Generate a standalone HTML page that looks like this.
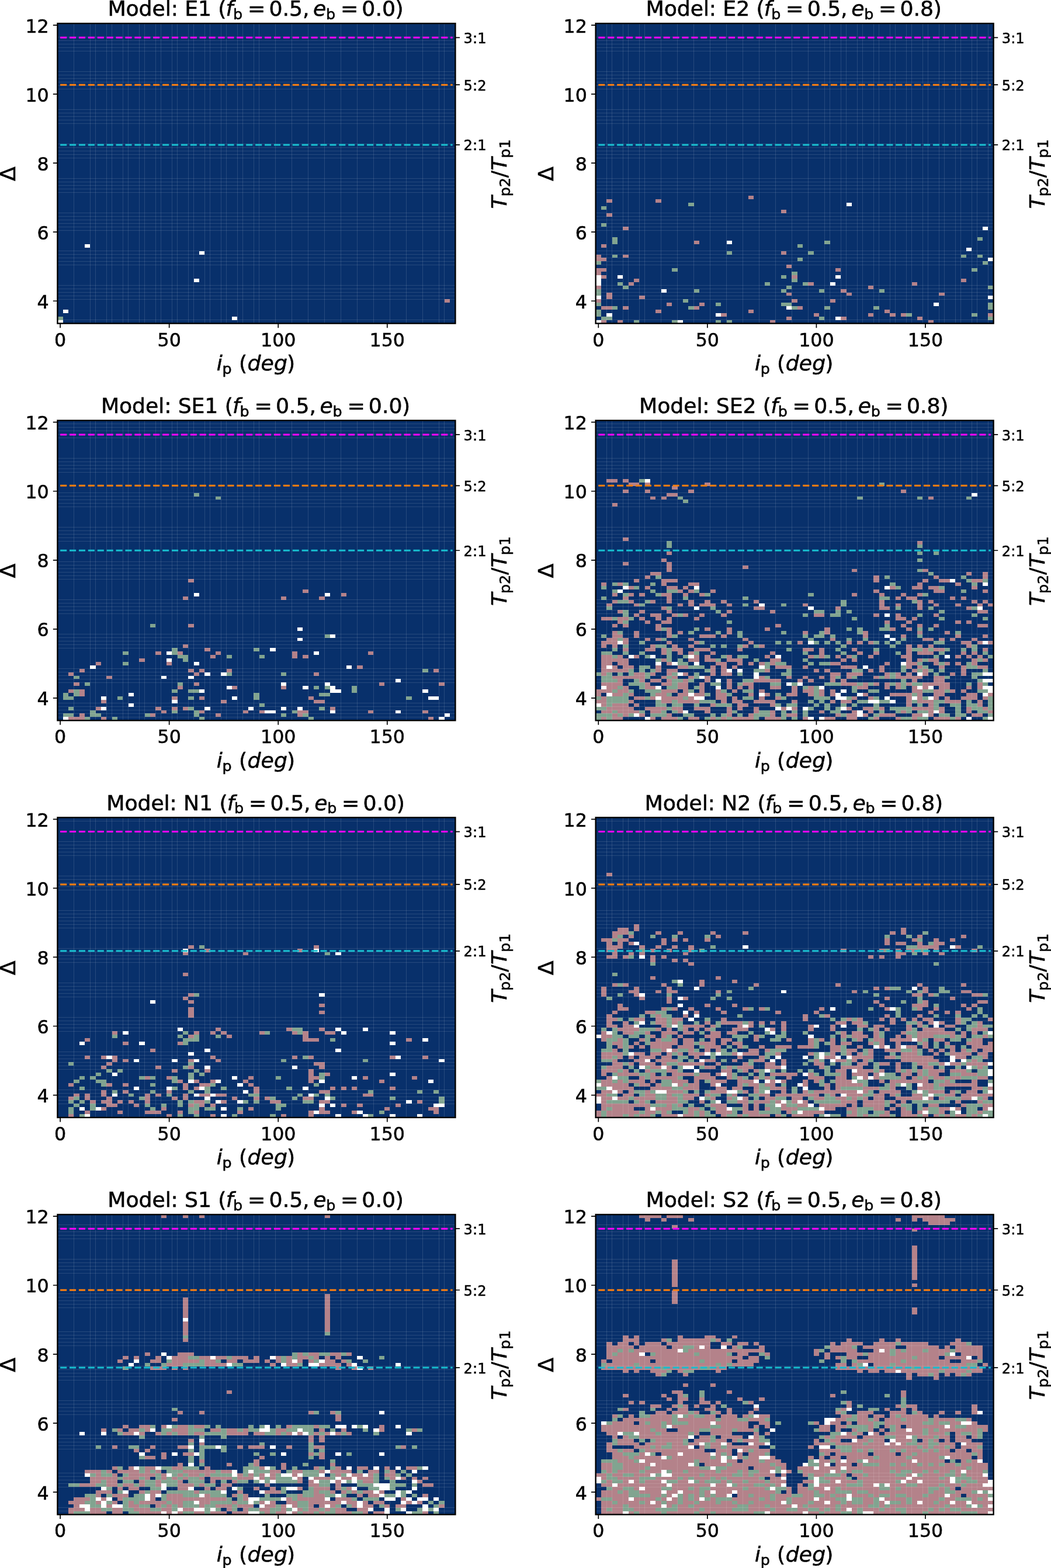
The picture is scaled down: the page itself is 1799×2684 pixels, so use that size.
<!DOCTYPE html>
<html lang="en"><head><meta charset="utf-8"><title>Stability maps</title>
<style>html,body{margin:0;padding:0;background:#fff;overflow:hidden}svg{display:block}text{font-family:'DejaVu Sans','Liberation Sans',sans-serif;fill:#000}</style></head><body>
<svg xmlns="http://www.w3.org/2000/svg" width="1799" height="2684" viewBox="0 0 1799 2684">
<rect width="1799" height="2684" fill="#fff"/>
<g>
<rect x="98.44" y="40.11" width="680.95" height="513.51" fill="#08306b"/>
<g shape-rendering="crispEdges">
<path fill="#b4828a" d="M761 512h9v6h-9z"/>
<path fill="#81a490" d="M98 542h10v6h-10z"/>
<path fill="#ffffff" d="M145 418h9v6h-9zM341 430h9v6h-9zM332 477h9v6h-9zM108 530h9v6h-9zM397 542h9v6h-9zM98 548h10v6h-10z"/>
<path fill="#fff" fill-opacity="0.12" d="M126 40.11h1v513.51h-1zM154 40.11h1v513.51h-1zM163 40.11h1v513.51h-1zM182 40.11h1v513.51h-1zM191 40.11h1v513.51h-1zM210 40.11h1v513.51h-1zM219 40.11h1v513.51h-1zM238 40.11h1v513.51h-1zM247 40.11h1v513.51h-1zM266 40.11h1v513.51h-1zM275 40.11h1v513.51h-1zM294 40.11h1v513.51h-1zM303 40.11h1v513.51h-1zM322 40.11h1v513.51h-1zM331 40.11h1v513.51h-1zM350 40.11h1v513.51h-1zM359 40.11h1v513.51h-1zM378 40.11h1v513.51h-1zM387 40.11h1v513.51h-1zM406 40.11h1v513.51h-1zM415 40.11h1v513.51h-1zM434 40.11h1v513.51h-1zM443 40.11h1v513.51h-1zM471 40.11h1v513.51h-1zM499 40.11h1v513.51h-1zM527 40.11h1v513.51h-1zM555 40.11h1v513.51h-1zM583 40.11h1v513.51h-1zM611 40.11h1v513.51h-1zM639 40.11h1v513.51h-1zM667 40.11h1v513.51h-1zM695 40.11h1v513.51h-1zM723 40.11h1v513.51h-1zM751 40.11h1v513.51h-1zM760 40.11h1v513.51h-1z"/>
<path fill="#fff" fill-opacity="0.12" d="M98.44 63v1h680.95v-1zM98.44 69v1h680.95v-1zM98.44 75v1h680.95v-1zM98.44 81v1h680.95v-1zM98.44 87v1h680.95v-1zM98.44 122v1h680.95v-1zM98.44 128v1h680.95v-1zM98.44 134v1h680.95v-1zM98.44 140v1h680.95v-1zM98.44 146v1h680.95v-1zM98.44 152v1h680.95v-1zM98.44 187v1h680.95v-1zM98.44 193v1h680.95v-1zM98.44 199v1h680.95v-1zM98.44 205v1h680.95v-1zM98.44 211v1h680.95v-1zM98.44 246v1h680.95v-1zM98.44 252v1h680.95v-1zM98.44 258v1h680.95v-1zM98.44 264v1h680.95v-1zM98.44 270v1h680.95v-1zM98.44 305v1h680.95v-1zM98.44 311v1h680.95v-1zM98.44 317v1h680.95v-1zM98.44 323v1h680.95v-1zM98.44 329v1h680.95v-1zM98.44 364v1h680.95v-1zM98.44 370v1h680.95v-1zM98.44 376v1h680.95v-1zM98.44 382v1h680.95v-1zM98.44 388v1h680.95v-1zM98.44 394v1h680.95v-1zM98.44 429v1h680.95v-1zM98.44 435v1h680.95v-1zM98.44 441v1h680.95v-1zM98.44 447v1h680.95v-1zM98.44 453v1h680.95v-1zM98.44 488v1h680.95v-1zM98.44 494v1h680.95v-1zM98.44 500v1h680.95v-1zM98.44 506v1h680.95v-1zM98.44 512v1h680.95v-1zM98.44 547v1h680.95v-1z"/>
</g>
<line x1="103.11" y1="64.31" x2="774.73" y2="64.31" stroke="#ff00ff" stroke-width="3.0" stroke-dasharray="11.1 4.805"/>
<line x1="103.11" y1="145.17" x2="774.73" y2="145.17" stroke="#ff7f0e" stroke-width="3.0" stroke-dasharray="11.1 4.805"/>
<line x1="103.11" y1="247.88" x2="774.73" y2="247.88" stroke="#17becf" stroke-width="3.0" stroke-dasharray="11.1 4.805"/>
<rect x="98.44" y="40.11" width="680.95" height="513.51" fill="none" stroke="#000" stroke-width="2.4"/>
<path d="M103.11 553.62v7.6M289.67 553.62v7.6M476.23 553.62v7.6M662.8 553.62v7.6M98.44 515.26h-7.6M98.44 397.21h-7.6M98.44 279.16h-7.6M98.44 161.11h-7.6M98.44 43.06h-7.6M779.4 64.31h7.6M779.4 145.17h7.6M779.4 247.88h7.6" stroke="#000" stroke-width="1.7" fill="none"/>
<g font-size="31.7" stroke="#000" stroke-width="0.55">
<text x="103.11" y="592.62" text-anchor="middle">0</text>
<text x="289.67" y="592.62" text-anchor="middle">50</text>
<text x="476.23" y="592.62" text-anchor="middle">100</text>
<text x="662.8" y="592.62" text-anchor="middle">150</text>
<text x="83.74" y="527.76" text-anchor="end">4</text>
<text x="83.74" y="409.71" text-anchor="end">6</text>
<text x="83.74" y="291.66" text-anchor="end">8</text>
<text x="83.74" y="173.61" text-anchor="end">10</text>
<text x="83.74" y="55.56" text-anchor="end">12</text>
</g>
<g font-size="24.2" stroke="#000" stroke-width="0.55">
<text x="793.6" y="73.91">3:1</text>
<text x="793.6" y="154.77">5:2</text>
<text x="793.6" y="257.48">2:1</text>
</g>
<g font-size="36.25" stroke="#000" stroke-width="0.55">
<text x="184.42" y="27.31" letter-spacing="-0.12" xml:space="preserve">Model: E1 (</text>
<text x="386.62" y="27.31" font-style="italic">f</text>
<text x="399.02" y="33.21" font-size="25.4">b</text>
<text x="423.92" y="27.31">=</text>
<text x="460.52" y="27.31">0.5</text>
<text x="517.92" y="27.31">,</text>
<text x="536.12" y="27.31" font-style="italic">e</text>
<text x="558.12" y="33.21" font-size="25.4">b</text>
<text x="582.92" y="27.31">=</text>
<text x="619.32" y="27.31">0.0</text>
<text x="676.62" y="27.31">)</text>
<text x="370.72" y="634.02" font-style="italic">i</text>
<text x="380.52" y="639.92" font-size="25.4">p</text>
<text x="408.92" y="634.02">(</text>
<text x="423.62" y="634.02" font-style="italic">deg</text>
<text x="491.12" y="634.02">)</text>
<text transform="translate(26.14,297.57) rotate(-90)" text-anchor="middle">Δ</text>
<g transform="translate(866.7,296.87) rotate(-90)">
<text x="-60.6" y="0" font-style="italic">T</text>
<text x="-39.5" y="5.9" font-size="25.4">p2</text>
<text x="-7.5" y="0">/</text>
<text x="5.2" y="0" font-style="italic">T</text>
<text x="26.3" y="5.9" font-size="25.4">p1</text>
</g></g>
</g>
<g>
<rect x="1019.64" y="40.11" width="680.95" height="513.51" fill="#08306b"/>
<g shape-rendering="crispEdges">
<path fill="#b4828a" d="M1281 335h9v6h-9zM1038 341h10v6h-10zM1122 341h10v6h-10zM1337 359h9v6h-9zM1038 365h10v6h-10zM1066 388h10v6h-10zM1188 412h9v6h-9zM1029 418h9v6h-9zM1337 430h9v6h-9zM1020 436h9v5h-9zM1066 436h10v5h-10zM1020 441h18v6h-18zM1346 453h9v6h-9zM1020 459h18v6h-18zM1430 459h9v6h-9zM1020 465h9v6h-9zM1029 471h9v6h-9zM1355 471h10v6h-10zM1085 477h9v6h-9zM1645 477h9v6h-9zM1076 483h9v6h-9zM1383 483h10v6h-10zM1561 483h9v6h-9zM1020 489h9v6h-9zM1486 489h9v6h-9zM1439 495h10v6h-10zM1038 501h10v5h-10zM1346 501h9v5h-9zM1449 501h9v5h-9zM1607 501h10v5h-10zM1038 506h10v6h-10zM1094 506h10v6h-10zM1020 512h9v6h-9zM1355 512h10v6h-10zM1421 512h9v6h-9zM1141 518h9v6h-9zM1197 518h9v6h-9zM1029 524h19v6h-19zM1066 524h10v6h-10zM1188 524h9v6h-9zM1365 524h9v6h-9zM1122 530h10v6h-10zM1281 530h9v6h-9zM1514 530h9v6h-9zM1234 536h10v6h-10zM1393 536h9v6h-9zM1486 536h9v6h-9zM1523 536h10v6h-10zM1542 536h9v6h-9zM1691 536h10v6h-10zM1346 542h9v6h-9zM1439 542h10v6h-10zM1570 542h9v6h-9zM1029 548h9v6h-9zM1057 548h9v6h-9zM1318 548h9v6h-9zM1589 548h9v6h-9z"/>
<path fill="#81a490" d="M1178 347h10v6h-10zM1029 353h9v6h-9zM1029 382h9v6h-9zM1048 406h9v6h-9zM1673 406h9v6h-9zM1048 412h9v6h-9zM1411 412h10v6h-10zM1365 418h9v6h-9zM1244 430h9v6h-9zM1383 430h10v6h-10zM1048 436h9v5h-9zM1645 436h9v5h-9zM1673 436h9v5h-9zM1365 441h9v6h-9zM1020 447h9v6h-9zM1682 447h9v6h-9zM1150 459h10v6h-10zM1663 459h10v6h-10zM1355 465h10v6h-10zM1337 471h9v6h-9zM1355 477h10v6h-10zM1057 483h9v6h-9zM1309 483h9v6h-9zM1374 483h9v6h-9zM1066 489h10v6h-10zM1346 489h9v6h-9zM1691 489h10v6h-10zM1020 495h9v6h-9zM1188 495h9v6h-9zM1337 495h9v6h-9zM1402 495h9v6h-9zM1505 495h9v6h-9zM1020 501h9v5h-9zM1169 512h9v6h-9zM1020 518h9v6h-9zM1225 518h9v6h-9zM1337 518h18v6h-18zM1691 518h10v6h-10zM1048 524h9v6h-9zM1178 524h10v6h-10zM1355 524h10v6h-10zM1411 524h10v6h-10zM1495 524h10v6h-10zM1691 524h10v6h-10zM1020 530h9v6h-9zM1020 536h9v6h-9zM1551 536h10v6h-10zM1663 536h10v6h-10zM1029 542h19v6h-19zM1402 542h9v6h-9zM1691 542h10v6h-10zM1085 548h9v6h-9zM1150 548h10v6h-10zM1225 548h9v6h-9zM1244 548h9v6h-9z"/>
<path fill="#ffffff" d="M1449 347h9v6h-9zM1682 388h9v6h-9zM1244 412h9v6h-9zM1654 424h9v6h-9zM1691 441h10v6h-10zM1020 471h9v6h-9zM1057 471h9v6h-9zM1430 471h9v6h-9zM1020 477h9v6h-9zM1020 483h9v6h-9zM1421 483h9v6h-9zM1132 495h9v6h-9zM1020 506h9v6h-9zM1691 506h10v6h-10zM1598 518h9v6h-9zM1346 524h9v6h-9zM1038 536h10v6h-10zM1225 536h9v6h-9zM1430 542h9v6h-9zM1020 548h9v6h-9zM1160 548h9v6h-9z"/>
<path fill="#fff" fill-opacity="0.12" d="M1038 40.11h1v513.51h-1zM1047 40.11h1v513.51h-1zM1066 40.11h1v513.51h-1zM1075 40.11h1v513.51h-1zM1094 40.11h1v513.51h-1zM1103 40.11h1v513.51h-1zM1131 40.11h1v513.51h-1zM1159 40.11h1v513.51h-1zM1187 40.11h1v513.51h-1zM1215 40.11h1v513.51h-1zM1243 40.11h1v513.51h-1zM1271 40.11h1v513.51h-1zM1299 40.11h1v513.51h-1zM1327 40.11h1v513.51h-1zM1355 40.11h1v513.51h-1zM1383 40.11h1v513.51h-1zM1411 40.11h1v513.51h-1zM1420 40.11h1v513.51h-1zM1439 40.11h1v513.51h-1zM1448 40.11h1v513.51h-1zM1467 40.11h1v513.51h-1zM1476 40.11h1v513.51h-1zM1495 40.11h1v513.51h-1zM1504 40.11h1v513.51h-1zM1523 40.11h1v513.51h-1zM1532 40.11h1v513.51h-1zM1551 40.11h1v513.51h-1zM1560 40.11h1v513.51h-1zM1579 40.11h1v513.51h-1zM1588 40.11h1v513.51h-1zM1607 40.11h1v513.51h-1zM1616 40.11h1v513.51h-1zM1635 40.11h1v513.51h-1zM1644 40.11h1v513.51h-1zM1663 40.11h1v513.51h-1zM1672 40.11h1v513.51h-1zM1691 40.11h1v513.51h-1z"/>
<path fill="#fff" fill-opacity="0.12" d="M1019.64 63v1h680.95v-1zM1019.64 69v1h680.95v-1zM1019.64 75v1h680.95v-1zM1019.64 81v1h680.95v-1zM1019.64 87v1h680.95v-1zM1019.64 122v1h680.95v-1zM1019.64 128v1h680.95v-1zM1019.64 134v1h680.95v-1zM1019.64 140v1h680.95v-1zM1019.64 146v1h680.95v-1zM1019.64 152v1h680.95v-1zM1019.64 187v1h680.95v-1zM1019.64 193v1h680.95v-1zM1019.64 199v1h680.95v-1zM1019.64 205v1h680.95v-1zM1019.64 211v1h680.95v-1zM1019.64 246v1h680.95v-1zM1019.64 252v1h680.95v-1zM1019.64 258v1h680.95v-1zM1019.64 264v1h680.95v-1zM1019.64 270v1h680.95v-1zM1019.64 305v1h680.95v-1zM1019.64 311v1h680.95v-1zM1019.64 317v1h680.95v-1zM1019.64 323v1h680.95v-1zM1019.64 329v1h680.95v-1zM1019.64 364v1h680.95v-1zM1019.64 370v1h680.95v-1zM1019.64 376v1h680.95v-1zM1019.64 382v1h680.95v-1zM1019.64 388v1h680.95v-1zM1019.64 394v1h680.95v-1zM1019.64 429v1h680.95v-1zM1019.64 435v1h680.95v-1zM1019.64 441v1h680.95v-1zM1019.64 447v1h680.95v-1zM1019.64 453v1h680.95v-1zM1019.64 488v1h680.95v-1zM1019.64 494v1h680.95v-1zM1019.64 500v1h680.95v-1zM1019.64 506v1h680.95v-1zM1019.64 512v1h680.95v-1zM1019.64 547v1h680.95v-1z"/>
</g>
<line x1="1024.3" y1="64.31" x2="1695.93" y2="64.31" stroke="#ff00ff" stroke-width="3.0" stroke-dasharray="11.1 4.805"/>
<line x1="1024.3" y1="145.17" x2="1695.93" y2="145.17" stroke="#ff7f0e" stroke-width="3.0" stroke-dasharray="11.1 4.805"/>
<line x1="1024.3" y1="247.88" x2="1695.93" y2="247.88" stroke="#17becf" stroke-width="3.0" stroke-dasharray="11.1 4.805"/>
<rect x="1019.64" y="40.11" width="680.95" height="513.51" fill="none" stroke="#000" stroke-width="2.4"/>
<path d="M1024.3 553.62v7.6M1210.87 553.62v7.6M1397.43 553.62v7.6M1583.99 553.62v7.6M1019.64 515.26h-7.6M1019.64 397.21h-7.6M1019.64 279.16h-7.6M1019.64 161.11h-7.6M1019.64 43.06h-7.6M1700.59 64.31h7.6M1700.59 145.17h7.6M1700.59 247.88h7.6" stroke="#000" stroke-width="1.7" fill="none"/>
<g font-size="31.7" stroke="#000" stroke-width="0.55">
<text x="1024.3" y="592.62" text-anchor="middle">0</text>
<text x="1210.87" y="592.62" text-anchor="middle">50</text>
<text x="1397.43" y="592.62" text-anchor="middle">100</text>
<text x="1583.99" y="592.62" text-anchor="middle">150</text>
<text x="1004.94" y="527.76" text-anchor="end">4</text>
<text x="1004.94" y="409.71" text-anchor="end">6</text>
<text x="1004.94" y="291.66" text-anchor="end">8</text>
<text x="1004.94" y="173.61" text-anchor="end">10</text>
<text x="1004.94" y="55.56" text-anchor="end">12</text>
</g>
<g font-size="24.2" stroke="#000" stroke-width="0.55">
<text x="1714.79" y="73.91">3:1</text>
<text x="1714.79" y="154.77">5:2</text>
<text x="1714.79" y="257.48">2:1</text>
</g>
<g font-size="36.25" stroke="#000" stroke-width="0.55">
<text x="1105.62" y="27.31" letter-spacing="-0.12" xml:space="preserve">Model: E2 (</text>
<text x="1307.82" y="27.31" font-style="italic">f</text>
<text x="1320.22" y="33.21" font-size="25.4">b</text>
<text x="1345.12" y="27.31">=</text>
<text x="1381.72" y="27.31">0.5</text>
<text x="1439.12" y="27.31">,</text>
<text x="1457.32" y="27.31" font-style="italic">e</text>
<text x="1479.32" y="33.21" font-size="25.4">b</text>
<text x="1504.12" y="27.31">=</text>
<text x="1540.52" y="27.31">0.8</text>
<text x="1597.82" y="27.31">)</text>
<text x="1291.92" y="634.02" font-style="italic">i</text>
<text x="1301.72" y="639.92" font-size="25.4">p</text>
<text x="1330.12" y="634.02">(</text>
<text x="1344.82" y="634.02" font-style="italic">deg</text>
<text x="1412.32" y="634.02">)</text>
<text transform="translate(947.34,297.57) rotate(-90)" text-anchor="middle">Δ</text>
<g transform="translate(1787.89,296.87) rotate(-90)">
<text x="-60.6" y="0" font-style="italic">T</text>
<text x="-39.5" y="5.9" font-size="25.4">p2</text>
<text x="-7.5" y="0">/</text>
<text x="5.2" y="0" font-style="italic">T</text>
<text x="26.3" y="5.9" font-size="25.4">p1</text>
</g></g>
</g>
<g>
<rect x="98.44" y="719.74" width="680.95" height="513.51" fill="#08306b"/>
<g shape-rendering="crispEdges">
<path fill="#b4828a" d="M322 991h10v6h-10zM518 1009h10v6h-10zM584 1015h9v6h-9zM313 1021h9v6h-9zM481 1021h9v6h-9zM546 1021h10v6h-10zM322 1068h10v6h-10zM313 1103h9v6h-9zM350 1109h10v6h-10zM266 1115h10v6h-10zM304 1115h9v6h-9zM369 1115h9v6h-9zM500 1115h9v6h-9zM630 1115h9v6h-9zM360 1121h9v6h-9zM500 1121h9v6h-9zM518 1121h10v6h-10zM238 1127h10v6h-10zM164 1133h9v6h-9zM285 1133h9v6h-9zM611 1139h10v6h-10zM136 1145h9v6h-9zM322 1145h10v6h-10zM341 1145h9v6h-9zM388 1145h9v6h-9zM742 1145h9v6h-9zM117 1151h9v6h-9zM332 1151h9v6h-9zM537 1151h9v6h-9zM182 1157h10v5h-10zM126 1168h10v6h-10zM332 1168h9v6h-9zM649 1168h9v6h-9zM751 1168h10v6h-10zM304 1174h9v6h-9zM397 1174h9v6h-9zM481 1174h9v6h-9zM117 1180h9v6h-9zM136 1180h9v6h-9zM136 1186h9v6h-9zM294 1192h10v6h-10zM341 1192h9v6h-9zM528 1192h9v6h-9zM173 1198h9v6h-9zM378 1198h10v6h-10zM537 1198h19v6h-19zM164 1210h9v6h-9zM266 1210h10v6h-10zM294 1210h10v6h-10zM313 1210h9v6h-9zM565 1210h9v6h-9zM276 1216h9v5h-9zM341 1216h9v5h-9zM416 1216h9v5h-9zM444 1216h9v5h-9zM509 1216h19v5h-19zM630 1216h9v5h-9zM723 1216h10v5h-10zM136 1221h9v6h-9zM257 1221h9v6h-9zM369 1221h9v6h-9zM509 1221h9v6h-9zM117 1227h28v6h-28zM173 1227h9v6h-9zM733 1227h9v6h-9z"/>
<path fill="#81a490" d="M332 844h9v6h-9zM369 850h9v5h-9zM257 1068h9v6h-9zM556 1086h9v6h-9zM294 1109h10v6h-10zM434 1109h10v6h-10zM210 1115h10v6h-10zM294 1115h10v6h-10zM304 1121h18v6h-18zM388 1121h9v6h-9zM444 1121h9v6h-9zM313 1127h9v6h-9zM210 1133h10v6h-10zM723 1145h10v6h-10zM388 1151h9v6h-9zM481 1151h9v6h-9zM126 1157h10v5h-10zM145 1168h9v6h-9zM304 1168h9v6h-9zM537 1174h9v6h-9zM556 1174h9v6h-9zM602 1174h9v6h-9zM126 1180h10v6h-10zM294 1180h10v6h-10zM322 1180h19v6h-19zM602 1180h9v6h-9zM108 1186h9v6h-9zM126 1186h10v6h-10zM434 1186h10v6h-10zM546 1186h19v6h-19zM108 1192h18v6h-18zM201 1192h9v6h-9zM322 1192h10v6h-10zM434 1192h10v6h-10zM695 1192h10v6h-10zM444 1204h9v6h-9zM117 1210h9v6h-9zM322 1210h10v6h-10zM546 1210h10v6h-10zM154 1216h10v5h-10zM294 1216h10v5h-10zM332 1216h9v5h-9zM500 1216h9v5h-9zM108 1221h18v6h-18zM154 1221h19v6h-19zM248 1221h9v6h-9zM332 1221h9v6h-9zM481 1221h9v6h-9zM518 1221h10v6h-10zM145 1227h9v6h-9zM192 1227h9v6h-9zM341 1227h9v6h-9zM528 1227h9v6h-9z"/>
<path fill="#ffffff" d="M332 1015h9v6h-9zM556 1015h9v6h-9zM509 1074h9v6h-9zM565 1086h9v6h-9zM509 1092h9v5h-9zM462 1109h10v6h-10zM285 1115h9v6h-9zM537 1115h9v6h-9zM285 1127h9v6h-9zM332 1133h9v6h-9zM154 1139h10v6h-10zM593 1139h9v6h-9zM350 1151h10v6h-10zM378 1151h10v6h-10zM276 1157h9v5h-9zM322 1157h10v5h-10zM677 1162h9v6h-9zM481 1168h9v6h-9zM556 1168h9v6h-9zM388 1174h9v6h-9zM518 1174h10v6h-10zM565 1174h9v6h-9zM341 1180h9v6h-9zM565 1180h19v6h-19zM723 1180h10v6h-10zM220 1186h9v6h-9zM173 1192h9v6h-9zM397 1192h9v6h-9zM733 1192h18v6h-18zM294 1198h10v6h-10zM220 1204h9v6h-9zM173 1210h9v6h-9zM350 1210h10v6h-10zM425 1210h9v6h-9zM481 1210h9v6h-9zM509 1210h9v6h-9zM453 1216h19v5h-19zM565 1216h9v5h-9zM677 1216h9v5h-9zM761 1221h9v6h-9zM108 1227h9v6h-9zM751 1227h10v6h-10z"/>
<path fill="#fff" fill-opacity="0.12" d="M126 719.74h1v513.51h-1zM154 719.74h1v513.51h-1zM163 719.74h1v513.51h-1zM182 719.74h1v513.51h-1zM191 719.74h1v513.51h-1zM210 719.74h1v513.51h-1zM219 719.74h1v513.51h-1zM238 719.74h1v513.51h-1zM247 719.74h1v513.51h-1zM266 719.74h1v513.51h-1zM275 719.74h1v513.51h-1zM294 719.74h1v513.51h-1zM303 719.74h1v513.51h-1zM322 719.74h1v513.51h-1zM331 719.74h1v513.51h-1zM350 719.74h1v513.51h-1zM359 719.74h1v513.51h-1zM378 719.74h1v513.51h-1zM387 719.74h1v513.51h-1zM406 719.74h1v513.51h-1zM415 719.74h1v513.51h-1zM434 719.74h1v513.51h-1zM443 719.74h1v513.51h-1zM471 719.74h1v513.51h-1zM499 719.74h1v513.51h-1zM527 719.74h1v513.51h-1zM555 719.74h1v513.51h-1zM583 719.74h1v513.51h-1zM611 719.74h1v513.51h-1zM639 719.74h1v513.51h-1zM667 719.74h1v513.51h-1zM695 719.74h1v513.51h-1zM723 719.74h1v513.51h-1zM751 719.74h1v513.51h-1zM760 719.74h1v513.51h-1z"/>
<path fill="#fff" fill-opacity="0.12" d="M98.44 725v1h680.95v-1zM98.44 731v1h680.95v-1zM98.44 737v1h680.95v-1zM98.44 743v1h680.95v-1zM98.44 749v1h680.95v-1zM98.44 784v1h680.95v-1zM98.44 790v1h680.95v-1zM98.44 796v1h680.95v-1zM98.44 802v1h680.95v-1zM98.44 808v1h680.95v-1zM98.44 843v1h680.95v-1zM98.44 849v1h680.95v-1zM98.44 855v1h680.95v-1zM98.44 861v1h680.95v-1zM98.44 867v1h680.95v-1zM98.44 902v1h680.95v-1zM98.44 908v1h680.95v-1zM98.44 914v1h680.95v-1zM98.44 920v1h680.95v-1zM98.44 926v1h680.95v-1zM98.44 961v1h680.95v-1zM98.44 967v1h680.95v-1zM98.44 973v1h680.95v-1zM98.44 979v1h680.95v-1zM98.44 985v1h680.95v-1zM98.44 991v1h680.95v-1zM98.44 1026v1h680.95v-1zM98.44 1032v1h680.95v-1zM98.44 1038v1h680.95v-1zM98.44 1044v1h680.95v-1zM98.44 1050v1h680.95v-1zM98.44 1085v1h680.95v-1zM98.44 1091v1h680.95v-1zM98.44 1097v1h680.95v-1zM98.44 1103v1h680.95v-1zM98.44 1109v1h680.95v-1zM98.44 1144v1h680.95v-1zM98.44 1150v1h680.95v-1zM98.44 1156v1h680.95v-1zM98.44 1162v1h680.95v-1zM98.44 1168v1h680.95v-1zM98.44 1203v1h680.95v-1zM98.44 1209v1h680.95v-1zM98.44 1215v1h680.95v-1zM98.44 1221v1h680.95v-1zM98.44 1227v1h680.95v-1z"/>
</g>
<line x1="103.11" y1="743.94" x2="774.73" y2="743.94" stroke="#ff00ff" stroke-width="3.0" stroke-dasharray="11.1 4.805"/>
<line x1="103.11" y1="831.3" x2="774.73" y2="831.3" stroke="#ff7f0e" stroke-width="3.0" stroke-dasharray="11.1 4.805"/>
<line x1="103.11" y1="942.26" x2="774.73" y2="942.26" stroke="#17becf" stroke-width="3.0" stroke-dasharray="11.1 4.805"/>
<rect x="98.44" y="719.74" width="680.95" height="513.51" fill="none" stroke="#000" stroke-width="2.4"/>
<path d="M103.11 1233.25v7.6M289.67 1233.25v7.6M476.23 1233.25v7.6M662.8 1233.25v7.6M98.44 1194.89h-7.6M98.44 1076.84h-7.6M98.44 958.79h-7.6M98.44 840.74h-7.6M98.44 722.69h-7.6M779.4 743.94h7.6M779.4 831.3h7.6M779.4 942.26h7.6" stroke="#000" stroke-width="1.7" fill="none"/>
<g font-size="31.7" stroke="#000" stroke-width="0.55">
<text x="103.11" y="1272.25" text-anchor="middle">0</text>
<text x="289.67" y="1272.25" text-anchor="middle">50</text>
<text x="476.23" y="1272.25" text-anchor="middle">100</text>
<text x="662.8" y="1272.25" text-anchor="middle">150</text>
<text x="83.74" y="1207.39" text-anchor="end">4</text>
<text x="83.74" y="1089.34" text-anchor="end">6</text>
<text x="83.74" y="971.29" text-anchor="end">8</text>
<text x="83.74" y="853.24" text-anchor="end">10</text>
<text x="83.74" y="735.19" text-anchor="end">12</text>
</g>
<g font-size="24.2" stroke="#000" stroke-width="0.55">
<text x="793.6" y="753.54">3:1</text>
<text x="793.6" y="840.9">5:2</text>
<text x="793.6" y="951.86">2:1</text>
</g>
<g font-size="36.25" stroke="#000" stroke-width="0.55">
<text x="172.92" y="706.94" letter-spacing="-0.12" xml:space="preserve">Model: SE1 (</text>
<text x="398.12" y="706.94" font-style="italic">f</text>
<text x="410.52" y="712.84" font-size="25.4">b</text>
<text x="435.42" y="706.94">=</text>
<text x="472.02" y="706.94">0.5</text>
<text x="529.42" y="706.94">,</text>
<text x="547.62" y="706.94" font-style="italic">e</text>
<text x="569.62" y="712.84" font-size="25.4">b</text>
<text x="594.42" y="706.94">=</text>
<text x="630.82" y="706.94">0.0</text>
<text x="688.12" y="706.94">)</text>
<text x="370.72" y="1313.65" font-style="italic">i</text>
<text x="380.52" y="1319.55" font-size="25.4">p</text>
<text x="408.92" y="1313.65">(</text>
<text x="423.62" y="1313.65" font-style="italic">deg</text>
<text x="491.12" y="1313.65">)</text>
<text transform="translate(26.14,977.2) rotate(-90)" text-anchor="middle">Δ</text>
<g transform="translate(866.7,976.5) rotate(-90)">
<text x="-60.6" y="0" font-style="italic">T</text>
<text x="-39.5" y="5.9" font-size="25.4">p2</text>
<text x="-7.5" y="0">/</text>
<text x="5.2" y="0" font-style="italic">T</text>
<text x="26.3" y="5.9" font-size="25.4">p1</text>
</g></g>
</g>
<g>
<rect x="1019.64" y="719.74" width="680.95" height="513.51" fill="#08306b"/>
<g shape-rendering="crispEdges">
<path fill="#b4828a" d="M1038 820h19v6h-19zM1066 820h10v6h-10zM1076 826h18v6h-18zM1104 826h9v6h-9zM1206 826h10v6h-10zM1150 832h10v6h-10zM1066 838h10v6h-10zM1104 838h9v6h-9zM1178 838h10v6h-10zM1542 838h9v6h-9zM1141 844h19v6h-19zM1113 850h9v5h-9zM1132 850h9v5h-9zM1589 850h9v5h-9zM1048 861h9v6h-9zM1066 920h10v6h-10zM1570 926h9v6h-9zM1141 944h9v6h-9zM1132 956h9v6h-9zM1066 962h10v6h-10zM1141 962h9v6h-9zM1141 968h9v6h-9zM1271 968h10v6h-10zM1141 974h9v5h-9zM1458 974h9v5h-9zM1579 974h10v5h-10zM1113 979h19v6h-19zM1654 979h9v6h-9zM1682 979h9v6h-9zM1104 985h9v6h-9zM1495 985h10v6h-10zM1598 985h9v6h-9zM1682 985h9v6h-9zM1085 991h9v6h-9zM1132 991h28v6h-28zM1495 991h10v6h-10zM1579 991h10v6h-10zM1607 991h19v6h-19zM1663 991h19v6h-19zM1029 997h9v6h-9zM1057 997h9v6h-9zM1132 997h9v6h-9zM1178 997h19v6h-19zM1570 997h9v6h-9zM1635 997h10v6h-10zM1076 1003h9v6h-9zM1104 1003h9v6h-9zM1141 1003h19v6h-19zM1169 1003h9v6h-9zM1523 1003h10v6h-10zM1561 1003h18v6h-18zM1589 1003h18v6h-18zM1663 1003h10v6h-10zM1160 1009h9v6h-9zM1178 1009h10v6h-10zM1216 1009h9v6h-9zM1495 1009h10v6h-10zM1598 1009h19v6h-19zM1682 1009h9v6h-9zM1048 1015h9v6h-9zM1076 1015h9v6h-9zM1094 1015h10v6h-10zM1132 1015h18v6h-18zM1169 1015h9v6h-9zM1197 1015h9v6h-9zM1458 1015h9v6h-9zM1505 1015h9v6h-9zM1542 1015h9v6h-9zM1570 1015h9v6h-9zM1066 1021h10v6h-10zM1141 1021h9v6h-9zM1533 1021h9v6h-9zM1551 1021h19v6h-19zM1626 1021h9v6h-9zM1645 1021h9v6h-9zM1048 1027h9v6h-9zM1076 1027h9v6h-9zM1113 1027h9v6h-9zM1141 1027h9v6h-9zM1178 1027h10v6h-10zM1206 1027h10v6h-10zM1234 1027h10v6h-10zM1290 1027h9v6h-9zM1505 1027h9v6h-9zM1570 1027h9v6h-9zM1589 1027h9v6h-9zM1663 1027h10v6h-10zM1682 1027h9v6h-9zM1038 1033h10v5h-10zM1085 1033h9v5h-9zM1160 1033h9v5h-9zM1178 1033h10v5h-10zM1197 1033h28v5h-28zM1244 1033h9v5h-9zM1374 1033h9v5h-9zM1505 1033h9v5h-9zM1533 1033h9v5h-9zM1570 1033h9v5h-9zM1598 1033h9v5h-9zM1635 1033h10v5h-10zM1673 1033h9v5h-9zM1691 1033h10v5h-10zM1132 1038h9v6h-9zM1290 1038h19v6h-19zM1430 1038h9v6h-9zM1505 1038h18v6h-18zM1570 1038h9v6h-9zM1654 1038h9v6h-9zM1057 1044h9v6h-9zM1094 1044h10v6h-10zM1141 1044h9v6h-9zM1244 1044h9v6h-9zM1318 1044h9v6h-9zM1673 1044h18v6h-18zM1085 1050h9v6h-9zM1113 1050h19v6h-19zM1150 1050h10v6h-10zM1169 1050h9v6h-9zM1197 1050h9v6h-9zM1234 1050h10v6h-10zM1393 1050h18v6h-18zM1495 1050h10v6h-10zM1533 1050h9v6h-9zM1598 1050h9v6h-9zM1029 1056h19v6h-19zM1057 1056h19v6h-19zM1094 1056h10v6h-10zM1122 1056h10v6h-10zM1141 1056h9v6h-9zM1188 1056h9v6h-9zM1533 1056h18v6h-18zM1561 1056h9v6h-9zM1057 1062h9v6h-9zM1104 1062h9v6h-9zM1132 1062h18v6h-18zM1514 1062h9v6h-9zM1551 1062h10v6h-10zM1635 1062h10v6h-10zM1654 1062h9v6h-9zM1048 1068h9v6h-9zM1066 1068h10v6h-10zM1122 1068h10v6h-10zM1327 1068h10v6h-10zM1542 1068h9v6h-9zM1570 1068h9v6h-9zM1598 1068h9v6h-9zM1673 1068h18v6h-18zM1122 1074h10v6h-10zM1141 1074h9v6h-9zM1206 1074h10v6h-10zM1244 1074h9v6h-9zM1309 1074h9v6h-9zM1411 1074h10v6h-10zM1523 1074h10v6h-10zM1551 1074h10v6h-10zM1048 1080h9v6h-9zM1085 1080h9v6h-9zM1141 1080h9v6h-9zM1160 1080h9v6h-9zM1244 1080h9v6h-9zM1374 1080h9v6h-9zM1411 1080h10v6h-10zM1477 1080h9v6h-9zM1570 1080h9v6h-9zM1617 1080h9v6h-9zM1048 1086h18v6h-18zM1085 1086h9v6h-9zM1141 1086h9v6h-9zM1197 1086h28v6h-28zM1234 1086h10v6h-10zM1477 1086h9v6h-9zM1542 1086h9v6h-9zM1635 1086h10v6h-10zM1682 1086h9v6h-9zM1038 1092h19v5h-19zM1066 1092h10v5h-10zM1104 1092h9v5h-9zM1122 1092h10v5h-10zM1178 1092h10v5h-10zM1271 1092h10v5h-10zM1421 1092h9v5h-9zM1579 1092h19v5h-19zM1607 1092h10v5h-10zM1626 1092h9v5h-9zM1663 1092h10v5h-10zM1029 1097h28v6h-28zM1066 1097h10v6h-10zM1141 1097h9v6h-9zM1188 1097h9v6h-9zM1281 1097h9v6h-9zM1365 1097h9v6h-9zM1449 1097h9v6h-9zM1467 1097h10v6h-10zM1486 1097h9v6h-9zM1645 1097h18v6h-18zM1673 1097h9v6h-9zM1691 1097h10v6h-10zM1029 1103h9v6h-9zM1048 1103h9v6h-9zM1113 1103h9v6h-9zM1150 1103h10v6h-10zM1178 1103h10v6h-10zM1271 1103h10v6h-10zM1299 1103h10v6h-10zM1551 1103h10v6h-10zM1570 1103h9v6h-9zM1589 1103h9v6h-9zM1654 1103h9v6h-9zM1066 1109h10v6h-10zM1104 1109h18v6h-18zM1132 1109h9v6h-9zM1150 1109h19v6h-19zM1188 1109h28v6h-28zM1262 1109h9v6h-9zM1374 1109h19v6h-19zM1402 1109h9v6h-9zM1458 1109h9v6h-9zM1551 1109h10v6h-10zM1579 1109h10v6h-10zM1598 1109h19v6h-19zM1682 1109h9v6h-9zM1132 1115h9v6h-9zM1160 1115h9v6h-9zM1178 1115h10v6h-10zM1216 1115h9v6h-9zM1318 1115h9v6h-9zM1402 1115h9v6h-9zM1467 1115h10v6h-10zM1495 1115h10v6h-10zM1551 1115h10v6h-10zM1570 1115h28v6h-28zM1645 1115h9v6h-9zM1663 1115h10v6h-10zM1029 1121h19v6h-19zM1057 1121h9v6h-9zM1085 1121h9v6h-9zM1188 1121h9v6h-9zM1206 1121h10v6h-10zM1244 1121h9v6h-9zM1309 1121h9v6h-9zM1383 1121h10v6h-10zM1402 1121h9v6h-9zM1430 1121h9v6h-9zM1449 1121h9v6h-9zM1486 1121h9v6h-9zM1542 1121h19v6h-19zM1635 1121h10v6h-10zM1654 1121h9v6h-9zM1673 1121h9v6h-9zM1029 1127h47v6h-47zM1132 1127h9v6h-9zM1178 1127h19v6h-19zM1206 1127h19v6h-19zM1244 1127h27v6h-27zM1318 1127h19v6h-19zM1439 1127h10v6h-10zM1458 1127h9v6h-9zM1551 1127h10v6h-10zM1570 1127h9v6h-9zM1589 1127h18v6h-18zM1663 1127h10v6h-10zM1682 1127h9v6h-9zM1029 1133h19v6h-19zM1057 1133h19v6h-19zM1141 1133h9v6h-9zM1225 1133h19v6h-19zM1262 1133h9v6h-9zM1281 1133h9v6h-9zM1299 1133h10v6h-10zM1318 1133h9v6h-9zM1421 1133h18v6h-18zM1514 1133h9v6h-9zM1551 1133h19v6h-19zM1598 1133h9v6h-9zM1617 1133h9v6h-9zM1635 1133h10v6h-10zM1663 1133h10v6h-10zM1029 1139h9v6h-9zM1048 1139h9v6h-9zM1066 1139h19v6h-19zM1122 1139h10v6h-10zM1160 1139h18v6h-18zM1216 1139h9v6h-9zM1234 1139h10v6h-10zM1253 1139h9v6h-9zM1327 1139h28v6h-28zM1374 1139h9v6h-9zM1439 1139h28v6h-28zM1505 1139h9v6h-9zM1551 1139h10v6h-10zM1570 1139h9v6h-9zM1607 1139h10v6h-10zM1645 1139h9v6h-9zM1673 1139h18v6h-18zM1029 1145h47v6h-47zM1122 1145h10v6h-10zM1141 1145h19v6h-19zM1216 1145h9v6h-9zM1234 1145h10v6h-10zM1309 1145h9v6h-9zM1393 1145h9v6h-9zM1411 1145h10v6h-10zM1486 1145h9v6h-9zM1505 1145h9v6h-9zM1561 1145h9v6h-9zM1579 1145h10v6h-10zM1645 1145h9v6h-9zM1029 1151h9v6h-9zM1085 1151h19v6h-19zM1113 1151h9v6h-9zM1141 1151h9v6h-9zM1169 1151h9v6h-9zM1216 1151h9v6h-9zM1234 1151h19v6h-19zM1421 1151h18v6h-18zM1449 1151h28v6h-28zM1514 1151h9v6h-9zM1533 1151h9v6h-9zM1551 1151h10v6h-10zM1579 1151h10v6h-10zM1626 1151h9v6h-9zM1645 1151h9v6h-9zM1048 1157h56v5h-56zM1132 1157h9v5h-9zM1150 1157h10v5h-10zM1178 1157h10v5h-10zM1206 1157h10v5h-10zM1299 1157h10v5h-10zM1346 1157h9v5h-9zM1374 1157h9v5h-9zM1402 1157h9v5h-9zM1421 1157h9v5h-9zM1449 1157h9v5h-9zM1495 1157h10v5h-10zM1514 1157h9v5h-9zM1533 1157h46v5h-46zM1598 1157h19v5h-19zM1057 1162h9v6h-9zM1094 1162h10v6h-10zM1113 1162h19v6h-19zM1141 1162h9v6h-9zM1169 1162h9v6h-9zM1206 1162h10v6h-10zM1244 1162h9v6h-9zM1290 1162h47v6h-47zM1365 1162h9v6h-9zM1383 1162h10v6h-10zM1421 1162h9v6h-9zM1439 1162h10v6h-10zM1561 1162h9v6h-9zM1598 1162h19v6h-19zM1029 1168h37v6h-37zM1104 1168h9v6h-9zM1132 1168h18v6h-18zM1160 1168h18v6h-18zM1197 1168h9v6h-9zM1244 1168h9v6h-9zM1271 1168h19v6h-19zM1439 1168h28v6h-28zM1477 1168h9v6h-9zM1495 1168h10v6h-10zM1514 1168h9v6h-9zM1533 1168h9v6h-9zM1551 1168h10v6h-10zM1579 1168h47v6h-47zM1673 1168h9v6h-9zM1038 1174h19v6h-19zM1066 1174h10v6h-10zM1104 1174h18v6h-18zM1160 1174h18v6h-18zM1197 1174h9v6h-9zM1244 1174h9v6h-9zM1262 1174h9v6h-9zM1281 1174h9v6h-9zM1318 1174h19v6h-19zM1355 1174h10v6h-10zM1383 1174h10v6h-10zM1467 1174h19v6h-19zM1514 1174h9v6h-9zM1533 1174h9v6h-9zM1561 1174h9v6h-9zM1579 1174h10v6h-10zM1607 1174h19v6h-19zM1654 1174h9v6h-9zM1673 1174h9v6h-9zM1020 1180h28v6h-28zM1057 1180h19v6h-19zM1132 1180h28v6h-28zM1169 1180h9v6h-9zM1197 1180h9v6h-9zM1225 1180h9v6h-9zM1253 1180h9v6h-9zM1299 1180h10v6h-10zM1355 1180h10v6h-10zM1374 1180h19v6h-19zM1402 1180h9v6h-9zM1421 1180h9v6h-9zM1561 1180h18v6h-18zM1598 1180h19v6h-19zM1626 1180h9v6h-9zM1645 1180h9v6h-9zM1020 1186h9v6h-9zM1048 1186h18v6h-18zM1076 1186h9v6h-9zM1122 1186h19v6h-19zM1160 1186h18v6h-18zM1188 1186h18v6h-18zM1225 1186h19v6h-19zM1281 1186h9v6h-9zM1309 1186h9v6h-9zM1346 1186h19v6h-19zM1383 1186h10v6h-10zM1402 1186h9v6h-9zM1421 1186h9v6h-9zM1477 1186h9v6h-9zM1523 1186h38v6h-38zM1570 1186h9v6h-9zM1598 1186h19v6h-19zM1654 1186h19v6h-19zM1691 1186h10v6h-10zM1029 1192h9v6h-9zM1085 1192h19v6h-19zM1113 1192h9v6h-9zM1132 1192h37v6h-37zM1178 1192h10v6h-10zM1225 1192h19v6h-19zM1253 1192h9v6h-9zM1299 1192h10v6h-10zM1327 1192h10v6h-10zM1458 1192h9v6h-9zM1486 1192h9v6h-9zM1551 1192h10v6h-10zM1570 1192h9v6h-9zM1598 1192h9v6h-9zM1617 1192h9v6h-9zM1645 1192h28v6h-28zM1682 1192h9v6h-9zM1020 1198h18v6h-18zM1076 1198h9v6h-9zM1132 1198h18v6h-18zM1160 1198h37v6h-37zM1234 1198h10v6h-10zM1253 1198h18v6h-18zM1290 1198h37v6h-37zM1355 1198h10v6h-10zM1421 1198h9v6h-9zM1439 1198h19v6h-19zM1551 1198h10v6h-10zM1570 1198h28v6h-28zM1617 1198h28v6h-28zM1673 1198h9v6h-9zM1029 1204h9v6h-9zM1048 1204h28v6h-28zM1085 1204h9v6h-9zM1216 1204h9v6h-9zM1262 1204h19v6h-19zM1318 1204h9v6h-9zM1551 1204h10v6h-10zM1589 1204h9v6h-9zM1673 1204h9v6h-9zM1038 1210h47v6h-47zM1104 1210h37v6h-37zM1150 1210h19v6h-19zM1188 1210h28v6h-28zM1244 1210h9v6h-9zM1262 1210h9v6h-9zM1290 1210h9v6h-9zM1337 1210h9v6h-9zM1355 1210h10v6h-10zM1449 1210h9v6h-9zM1477 1210h18v6h-18zM1505 1210h9v6h-9zM1561 1210h37v6h-37zM1607 1210h10v6h-10zM1654 1210h9v6h-9zM1682 1210h9v6h-9zM1029 1216h19v5h-19zM1057 1216h37v5h-37zM1113 1216h19v5h-19zM1160 1216h9v5h-9zM1206 1216h10v5h-10zM1244 1216h9v5h-9zM1290 1216h9v5h-9zM1318 1216h9v5h-9zM1402 1216h9v5h-9zM1458 1216h9v5h-9zM1486 1216h9v5h-9zM1542 1216h9v5h-9zM1589 1216h9v5h-9zM1607 1216h10v5h-10zM1654 1216h9v5h-9zM1691 1216h10v5h-10zM1048 1221h9v6h-9zM1066 1221h10v6h-10zM1094 1221h10v6h-10zM1141 1221h9v6h-9zM1244 1221h9v6h-9zM1281 1221h9v6h-9zM1318 1221h9v6h-9zM1346 1221h19v6h-19zM1430 1221h9v6h-9zM1449 1221h18v6h-18zM1477 1221h9v6h-9zM1505 1221h28v6h-28zM1561 1221h18v6h-18zM1589 1221h9v6h-9zM1663 1221h19v6h-19zM1029 1227h9v6h-9zM1048 1227h18v6h-18zM1113 1227h9v6h-9zM1132 1227h28v6h-28zM1178 1227h19v6h-19zM1216 1227h9v6h-9zM1234 1227h10v6h-10zM1253 1227h37v6h-37zM1309 1227h28v6h-28zM1374 1227h9v6h-9zM1411 1227h19v6h-19zM1449 1227h18v6h-18zM1495 1227h10v6h-10zM1533 1227h9v6h-9zM1561 1227h9v6h-9zM1598 1227h28v6h-28zM1635 1227h10v6h-10z"/>
<path fill="#81a490" d="M1094 820h10v6h-10zM1505 826h9v6h-9zM1160 850h9v5h-9zM1467 850h10v5h-10zM1570 850h9v5h-9zM1654 850h9v5h-9zM1169 855h9v6h-9zM1141 926h9v6h-9zM1141 932h9v6h-9zM1570 932h9v6h-9zM1570 944h9v6h-9zM1598 944h9v6h-9zM1570 956h9v6h-9zM1570 974h9v5h-9zM1589 979h9v6h-9zM1122 985h10v6h-10zM1514 985h9v6h-9zM1645 985h9v6h-9zM1654 991h9v6h-9zM1682 991h9v6h-9zM1048 997h9v6h-9zM1066 997h10v6h-10zM1113 997h9v6h-9zM1523 997h10v6h-10zM1663 997h10v6h-10zM1029 1003h9v6h-9zM1085 1003h9v6h-9zM1533 1003h9v6h-9zM1607 1003h10v6h-10zM1048 1009h9v6h-9zM1113 1009h9v6h-9zM1141 1009h19v6h-19zM1188 1009h9v6h-9zM1645 1009h9v6h-9zM1066 1015h10v6h-10zM1122 1015h10v6h-10zM1206 1015h10v6h-10zM1383 1015h10v6h-10zM1579 1015h10v6h-10zM1029 1021h9v6h-9zM1169 1021h9v6h-9zM1271 1021h10v6h-10zM1505 1021h18v6h-18zM1057 1027h19v6h-19zM1104 1027h9v6h-9zM1439 1027h10v6h-10zM1561 1027h9v6h-9zM1094 1033h10v5h-10zM1271 1033h10v5h-10zM1337 1033h9v5h-9zM1439 1033h10v5h-10zM1038 1038h10v6h-10zM1141 1038h9v6h-9zM1216 1038h9v6h-9zM1533 1038h9v6h-9zM1589 1038h9v6h-9zM1663 1038h10v6h-10zM1066 1044h10v6h-10zM1225 1044h9v6h-9zM1393 1044h18v6h-18zM1430 1044h9v6h-9zM1449 1044h9v6h-9zM1607 1044h10v6h-10zM1066 1050h10v6h-10zM1160 1050h9v6h-9zM1374 1050h9v6h-9zM1421 1050h18v6h-18zM1570 1050h9v6h-9zM1663 1050h10v6h-10zM1048 1056h9v6h-9zM1076 1056h9v6h-9zM1458 1056h9v6h-9zM1607 1056h10v6h-10zM1682 1056h9v6h-9zM1066 1062h10v6h-10zM1244 1062h9v6h-9zM1514 1068h9v6h-9zM1132 1074h9v6h-9zM1188 1074h9v6h-9zM1449 1074h9v6h-9zM1467 1074h10v6h-10zM1505 1074h18v6h-18zM1570 1074h9v6h-9zM1589 1074h9v6h-9zM1057 1080h9v6h-9zM1178 1080h10v6h-10zM1225 1080h9v6h-9zM1262 1080h9v6h-9zM1337 1080h9v6h-9zM1402 1080h9v6h-9zM1467 1080h10v6h-10zM1635 1080h10v6h-10zM1029 1086h9v6h-9zM1150 1086h10v6h-10zM1262 1086h9v6h-9zM1374 1086h9v6h-9zM1393 1086h18v6h-18zM1421 1086h9v6h-9zM1570 1086h9v6h-9zM1057 1092h9v5h-9zM1132 1092h9v5h-9zM1383 1092h10v5h-10zM1449 1092h9v5h-9zM1477 1092h9v5h-9zM1542 1092h9v5h-9zM1094 1097h10v6h-10zM1197 1097h9v6h-9zM1327 1097h10v6h-10zM1346 1097h9v6h-9zM1393 1097h9v6h-9zM1411 1097h10v6h-10zM1430 1097h9v6h-9zM1495 1097h10v6h-10zM1514 1097h9v6h-9zM1533 1097h9v6h-9zM1598 1097h19v6h-19zM1066 1103h10v6h-10zM1122 1103h19v6h-19zM1216 1103h9v6h-9zM1234 1103h10v6h-10zM1262 1103h9v6h-9zM1290 1103h9v6h-9zM1439 1103h10v6h-10zM1523 1103h10v6h-10zM1663 1103h10v6h-10zM1048 1109h9v6h-9zM1141 1109h9v6h-9zM1346 1109h9v6h-9zM1430 1109h9v6h-9zM1495 1109h10v6h-10zM1561 1109h18v6h-18zM1589 1109h9v6h-9zM1617 1109h9v6h-9zM1645 1109h9v6h-9zM1663 1109h10v6h-10zM1029 1115h19v6h-19zM1066 1115h10v6h-10zM1094 1115h10v6h-10zM1141 1115h9v6h-9zM1188 1115h9v6h-9zM1374 1115h9v6h-9zM1439 1115h10v6h-10zM1533 1115h9v6h-9zM1607 1115h10v6h-10zM1682 1115h9v6h-9zM1048 1121h9v6h-9zM1104 1121h9v6h-9zM1141 1121h9v6h-9zM1169 1121h9v6h-9zM1234 1121h10v6h-10zM1262 1121h19v6h-19zM1393 1121h9v6h-9zM1411 1121h10v6h-10zM1458 1121h9v6h-9zM1598 1121h9v6h-9zM1691 1121h10v6h-10zM1122 1127h10v6h-10zM1141 1127h9v6h-9zM1160 1127h9v6h-9zM1225 1127h9v6h-9zM1290 1127h9v6h-9zM1374 1127h9v6h-9zM1579 1127h10v6h-10zM1673 1127h9v6h-9zM1160 1133h18v6h-18zM1309 1133h9v6h-9zM1327 1133h19v6h-19zM1383 1133h10v6h-10zM1402 1133h19v6h-19zM1570 1133h9v6h-9zM1607 1133h10v6h-10zM1654 1133h9v6h-9zM1094 1139h19v6h-19zM1178 1139h28v6h-28zM1309 1139h9v6h-9zM1542 1139h9v6h-9zM1579 1139h10v6h-10zM1654 1139h19v6h-19zM1076 1145h9v6h-9zM1094 1145h10v6h-10zM1113 1145h9v6h-9zM1206 1145h10v6h-10zM1290 1145h19v6h-19zM1346 1145h9v6h-9zM1458 1145h19v6h-19zM1542 1145h9v6h-9zM1570 1145h9v6h-9zM1589 1145h9v6h-9zM1607 1145h10v6h-10zM1682 1145h9v6h-9zM1020 1151h9v6h-9zM1038 1151h10v6h-10zM1057 1151h9v6h-9zM1076 1151h9v6h-9zM1104 1151h9v6h-9zM1150 1151h10v6h-10zM1188 1151h9v6h-9zM1262 1151h9v6h-9zM1337 1151h18v6h-18zM1523 1151h10v6h-10zM1598 1151h9v6h-9zM1663 1151h19v6h-19zM1029 1157h19v5h-19zM1104 1157h9v5h-9zM1141 1157h9v5h-9zM1188 1157h9v5h-9zM1309 1157h9v5h-9zM1430 1157h9v5h-9zM1458 1157h9v5h-9zM1505 1157h9v5h-9zM1523 1157h10v5h-10zM1617 1157h9v5h-9zM1663 1157h10v5h-10zM1029 1162h28v6h-28zM1085 1162h9v6h-9zM1150 1162h19v6h-19zM1178 1162h10v6h-10zM1271 1162h19v6h-19zM1542 1162h9v6h-9zM1673 1162h9v6h-9zM1076 1168h28v6h-28zM1150 1168h10v6h-10zM1216 1168h18v6h-18zM1262 1168h9v6h-9zM1318 1168h19v6h-19zM1355 1168h10v6h-10zM1411 1168h28v6h-28zM1467 1168h10v6h-10zM1486 1168h9v6h-9zM1523 1168h10v6h-10zM1542 1168h9v6h-9zM1561 1168h18v6h-18zM1654 1168h9v6h-9zM1682 1168h9v6h-9zM1057 1174h9v6h-9zM1094 1174h10v6h-10zM1141 1174h19v6h-19zM1188 1174h9v6h-9zM1374 1174h9v6h-9zM1393 1174h9v6h-9zM1458 1174h9v6h-9zM1542 1174h9v6h-9zM1048 1180h9v6h-9zM1076 1180h9v6h-9zM1104 1180h28v6h-28zM1178 1180h10v6h-10zM1234 1180h10v6h-10zM1271 1180h19v6h-19zM1393 1180h9v6h-9zM1458 1180h9v6h-9zM1486 1180h19v6h-19zM1579 1180h19v6h-19zM1617 1180h9v6h-9zM1673 1180h18v6h-18zM1066 1186h10v6h-10zM1113 1186h9v6h-9zM1141 1186h9v6h-9zM1206 1186h10v6h-10zM1244 1186h9v6h-9zM1327 1186h10v6h-10zM1393 1186h9v6h-9zM1561 1186h9v6h-9zM1020 1192h9v6h-9zM1038 1192h38v6h-38zM1104 1192h9v6h-9zM1169 1192h9v6h-9zM1271 1192h19v6h-19zM1337 1192h9v6h-9zM1393 1192h28v6h-28zM1449 1192h9v6h-9zM1495 1192h10v6h-10zM1579 1192h10v6h-10zM1691 1192h10v6h-10zM1038 1198h38v6h-38zM1122 1198h10v6h-10zM1150 1198h10v6h-10zM1197 1198h28v6h-28zM1383 1198h10v6h-10zM1402 1198h9v6h-9zM1467 1198h19v6h-19zM1505 1198h18v6h-18zM1561 1198h9v6h-9zM1598 1198h19v6h-19zM1654 1198h9v6h-9zM1691 1198h10v6h-10zM1038 1204h10v6h-10zM1122 1204h19v6h-19zM1150 1204h19v6h-19zM1188 1204h9v6h-9zM1225 1204h28v6h-28zM1327 1204h10v6h-10zM1346 1204h19v6h-19zM1393 1204h9v6h-9zM1411 1204h10v6h-10zM1439 1204h10v6h-10zM1458 1204h9v6h-9zM1495 1204h10v6h-10zM1570 1204h9v6h-9zM1598 1204h9v6h-9zM1626 1204h19v6h-19zM1654 1204h19v6h-19zM1691 1204h10v6h-10zM1020 1210h18v6h-18zM1141 1210h9v6h-9zM1383 1210h10v6h-10zM1411 1210h10v6h-10zM1430 1210h9v6h-9zM1495 1210h10v6h-10zM1523 1210h38v6h-38zM1598 1210h9v6h-9zM1635 1210h10v6h-10zM1663 1210h19v6h-19zM1691 1210h10v6h-10zM1048 1216h9v5h-9zM1094 1216h10v5h-10zM1132 1216h9v5h-9zM1150 1216h10v5h-10zM1253 1216h9v5h-9zM1299 1216h19v5h-19zM1337 1216h9v5h-9zM1355 1216h10v5h-10zM1374 1216h9v5h-9zM1421 1216h18v5h-18zM1505 1216h9v5h-9zM1533 1216h9v5h-9zM1551 1216h10v5h-10zM1570 1216h19v5h-19zM1635 1216h10v5h-10zM1673 1216h18v5h-18zM1020 1221h28v6h-28zM1057 1221h9v6h-9zM1076 1221h9v6h-9zM1113 1221h28v6h-28zM1169 1221h19v6h-19zM1216 1221h9v6h-9zM1234 1221h10v6h-10zM1262 1221h9v6h-9zM1290 1221h28v6h-28zM1337 1221h9v6h-9zM1374 1221h9v6h-9zM1439 1221h10v6h-10zM1495 1221h10v6h-10zM1607 1221h19v6h-19zM1635 1221h19v6h-19zM1691 1221h10v6h-10zM1020 1227h9v6h-9zM1038 1227h10v6h-10zM1160 1227h9v6h-9zM1206 1227h10v6h-10zM1225 1227h9v6h-9zM1244 1227h9v6h-9zM1290 1227h9v6h-9zM1337 1227h9v6h-9zM1355 1227h10v6h-10zM1486 1227h9v6h-9zM1542 1227h19v6h-19zM1570 1227h19v6h-19zM1626 1227h9v6h-9zM1682 1227h9v6h-9z"/>
<path fill="#ffffff" d="M1104 820h9v6h-9zM1663 844h10v6h-10zM1626 991h9v6h-9zM1682 997h9v6h-9zM1066 1003h10v6h-10zM1188 1003h9v6h-9zM1514 1003h9v6h-9zM1057 1009h9v6h-9zM1299 1033h10v5h-10zM1188 1038h9v6h-9zM1383 1038h10v6h-10zM1673 1038h9v6h-9zM1514 1050h9v6h-9zM1514 1086h9v6h-9zM1523 1092h10v5h-10zM1057 1097h9v6h-9zM1383 1097h10v6h-10zM1682 1097h9v6h-9zM1076 1121h9v6h-9zM1113 1121h9v6h-9zM1178 1121h10v6h-10zM1327 1121h10v6h-10zM1617 1121h9v6h-9zM1122 1133h10v6h-10zM1150 1133h10v6h-10zM1188 1133h9v6h-9zM1542 1133h9v6h-9zM1038 1139h10v6h-10zM1299 1139h10v6h-10zM1477 1139h9v6h-9zM1244 1145h9v6h-9zM1262 1145h9v6h-9zM1160 1151h9v6h-9zM1290 1151h9v6h-9zM1570 1151h9v6h-9zM1682 1151h19v6h-19zM1197 1157h9v5h-9zM1290 1157h9v5h-9zM1225 1162h9v6h-9zM1682 1162h19v6h-19zM1346 1168h9v6h-9zM1365 1168h9v6h-9zM1029 1174h9v6h-9zM1122 1174h10v6h-10zM1225 1174h9v6h-9zM1402 1174h9v6h-9zM1570 1174h9v6h-9zM1589 1174h9v6h-9zM1682 1174h19v6h-19zM1439 1180h10v6h-10zM1691 1180h10v6h-10zM1038 1186h10v6h-10zM1178 1186h10v6h-10zM1299 1186h10v6h-10zM1430 1186h9v6h-9zM1467 1186h10v6h-10zM1682 1186h9v6h-9zM1122 1192h10v6h-10zM1188 1192h18v6h-18zM1430 1192h19v6h-19zM1514 1192h9v6h-9zM1561 1192h9v6h-9zM1589 1192h9v6h-9zM1486 1198h19v6h-19zM1523 1198h10v6h-10zM1020 1204h9v6h-9zM1327 1210h10v6h-10zM1346 1210h9v6h-9zM1374 1210h9v6h-9zM1439 1210h10v6h-10zM1169 1216h9v5h-9zM1467 1216h10v5h-10zM1598 1216h9v5h-9zM1085 1221h9v6h-9zM1467 1221h10v6h-10zM1579 1221h10v6h-10zM1104 1227h9v6h-9zM1383 1227h10v6h-10zM1402 1227h9v6h-9zM1654 1227h9v6h-9zM1691 1227h10v6h-10z"/>
<path fill="#fff" fill-opacity="0.12" d="M1038 719.74h1v513.51h-1zM1047 719.74h1v513.51h-1zM1066 719.74h1v513.51h-1zM1075 719.74h1v513.51h-1zM1094 719.74h1v513.51h-1zM1103 719.74h1v513.51h-1zM1131 719.74h1v513.51h-1zM1159 719.74h1v513.51h-1zM1187 719.74h1v513.51h-1zM1215 719.74h1v513.51h-1zM1243 719.74h1v513.51h-1zM1271 719.74h1v513.51h-1zM1299 719.74h1v513.51h-1zM1327 719.74h1v513.51h-1zM1355 719.74h1v513.51h-1zM1383 719.74h1v513.51h-1zM1411 719.74h1v513.51h-1zM1420 719.74h1v513.51h-1zM1439 719.74h1v513.51h-1zM1448 719.74h1v513.51h-1zM1467 719.74h1v513.51h-1zM1476 719.74h1v513.51h-1zM1495 719.74h1v513.51h-1zM1504 719.74h1v513.51h-1zM1523 719.74h1v513.51h-1zM1532 719.74h1v513.51h-1zM1551 719.74h1v513.51h-1zM1560 719.74h1v513.51h-1zM1579 719.74h1v513.51h-1zM1588 719.74h1v513.51h-1zM1607 719.74h1v513.51h-1zM1616 719.74h1v513.51h-1zM1635 719.74h1v513.51h-1zM1644 719.74h1v513.51h-1zM1663 719.74h1v513.51h-1zM1672 719.74h1v513.51h-1zM1691 719.74h1v513.51h-1z"/>
<path fill="#fff" fill-opacity="0.12" d="M1019.64 725v1h680.95v-1zM1019.64 731v1h680.95v-1zM1019.64 737v1h680.95v-1zM1019.64 743v1h680.95v-1zM1019.64 749v1h680.95v-1zM1019.64 784v1h680.95v-1zM1019.64 790v1h680.95v-1zM1019.64 796v1h680.95v-1zM1019.64 802v1h680.95v-1zM1019.64 808v1h680.95v-1zM1019.64 843v1h680.95v-1zM1019.64 849v1h680.95v-1zM1019.64 855v1h680.95v-1zM1019.64 861v1h680.95v-1zM1019.64 867v1h680.95v-1zM1019.64 902v1h680.95v-1zM1019.64 908v1h680.95v-1zM1019.64 914v1h680.95v-1zM1019.64 920v1h680.95v-1zM1019.64 926v1h680.95v-1zM1019.64 961v1h680.95v-1zM1019.64 967v1h680.95v-1zM1019.64 973v1h680.95v-1zM1019.64 979v1h680.95v-1zM1019.64 985v1h680.95v-1zM1019.64 991v1h680.95v-1zM1019.64 1026v1h680.95v-1zM1019.64 1032v1h680.95v-1zM1019.64 1038v1h680.95v-1zM1019.64 1044v1h680.95v-1zM1019.64 1050v1h680.95v-1zM1019.64 1085v1h680.95v-1zM1019.64 1091v1h680.95v-1zM1019.64 1097v1h680.95v-1zM1019.64 1103v1h680.95v-1zM1019.64 1109v1h680.95v-1zM1019.64 1144v1h680.95v-1zM1019.64 1150v1h680.95v-1zM1019.64 1156v1h680.95v-1zM1019.64 1162v1h680.95v-1zM1019.64 1168v1h680.95v-1zM1019.64 1203v1h680.95v-1zM1019.64 1209v1h680.95v-1zM1019.64 1215v1h680.95v-1zM1019.64 1221v1h680.95v-1zM1019.64 1227v1h680.95v-1z"/>
</g>
<line x1="1024.3" y1="743.94" x2="1695.93" y2="743.94" stroke="#ff00ff" stroke-width="3.0" stroke-dasharray="11.1 4.805"/>
<line x1="1024.3" y1="831.3" x2="1695.93" y2="831.3" stroke="#ff7f0e" stroke-width="3.0" stroke-dasharray="11.1 4.805"/>
<line x1="1024.3" y1="942.26" x2="1695.93" y2="942.26" stroke="#17becf" stroke-width="3.0" stroke-dasharray="11.1 4.805"/>
<rect x="1019.64" y="719.74" width="680.95" height="513.51" fill="none" stroke="#000" stroke-width="2.4"/>
<path d="M1024.3 1233.25v7.6M1210.87 1233.25v7.6M1397.43 1233.25v7.6M1583.99 1233.25v7.6M1019.64 1194.89h-7.6M1019.64 1076.84h-7.6M1019.64 958.79h-7.6M1019.64 840.74h-7.6M1019.64 722.69h-7.6M1700.59 743.94h7.6M1700.59 831.3h7.6M1700.59 942.26h7.6" stroke="#000" stroke-width="1.7" fill="none"/>
<g font-size="31.7" stroke="#000" stroke-width="0.55">
<text x="1024.3" y="1272.25" text-anchor="middle">0</text>
<text x="1210.87" y="1272.25" text-anchor="middle">50</text>
<text x="1397.43" y="1272.25" text-anchor="middle">100</text>
<text x="1583.99" y="1272.25" text-anchor="middle">150</text>
<text x="1004.94" y="1207.39" text-anchor="end">4</text>
<text x="1004.94" y="1089.34" text-anchor="end">6</text>
<text x="1004.94" y="971.29" text-anchor="end">8</text>
<text x="1004.94" y="853.24" text-anchor="end">10</text>
<text x="1004.94" y="735.19" text-anchor="end">12</text>
</g>
<g font-size="24.2" stroke="#000" stroke-width="0.55">
<text x="1714.79" y="753.54">3:1</text>
<text x="1714.79" y="840.9">5:2</text>
<text x="1714.79" y="951.86">2:1</text>
</g>
<g font-size="36.25" stroke="#000" stroke-width="0.55">
<text x="1094.12" y="706.94" letter-spacing="-0.12" xml:space="preserve">Model: SE2 (</text>
<text x="1319.32" y="706.94" font-style="italic">f</text>
<text x="1331.72" y="712.84" font-size="25.4">b</text>
<text x="1356.62" y="706.94">=</text>
<text x="1393.22" y="706.94">0.5</text>
<text x="1450.62" y="706.94">,</text>
<text x="1468.82" y="706.94" font-style="italic">e</text>
<text x="1490.82" y="712.84" font-size="25.4">b</text>
<text x="1515.62" y="706.94">=</text>
<text x="1552.02" y="706.94">0.8</text>
<text x="1609.32" y="706.94">)</text>
<text x="1291.92" y="1313.65" font-style="italic">i</text>
<text x="1301.72" y="1319.55" font-size="25.4">p</text>
<text x="1330.12" y="1313.65">(</text>
<text x="1344.82" y="1313.65" font-style="italic">deg</text>
<text x="1412.32" y="1313.65">)</text>
<text transform="translate(947.34,977.2) rotate(-90)" text-anchor="middle">Δ</text>
<g transform="translate(1787.89,976.5) rotate(-90)">
<text x="-60.6" y="0" font-style="italic">T</text>
<text x="-39.5" y="5.9" font-size="25.4">p2</text>
<text x="-7.5" y="0">/</text>
<text x="5.2" y="0" font-style="italic">T</text>
<text x="26.3" y="5.9" font-size="25.4">p1</text>
</g></g>
</g>
<g>
<rect x="98.44" y="1399.38" width="680.95" height="513.51" fill="#08306b"/>
<g shape-rendering="crispEdges">
<path fill="#b4828a" d="M322 1618h10v6h-10zM537 1618h9v6h-9zM350 1624h10v6h-10zM509 1624h9v6h-9zM313 1630h9v5h-9zM416 1630h9v5h-9zM313 1665h9v6h-9zM322 1700h10v6h-10zM313 1706h9v6h-9zM322 1712h10v6h-10zM546 1718h10v6h-10zM322 1724h10v6h-10zM322 1730h10v6h-10zM546 1730h10v6h-10zM322 1736h10v6h-10zM369 1759h9v6h-9zM490 1759h10v6h-10zM546 1759h10v6h-10zM192 1765h9v6h-9zM332 1765h9v6h-9zM360 1765h9v6h-9zM378 1765h10v6h-10zM444 1765h9v6h-9zM500 1765h9v6h-9zM518 1765h10v6h-10zM556 1765h18v6h-18zM322 1771h10v6h-10zM388 1771h9v6h-9zM518 1771h10v6h-10zM145 1777h9v6h-9zM518 1777h28v6h-28zM695 1777h10v6h-10zM210 1783h10v6h-10zM304 1783h9v6h-9zM257 1795h9v6h-9zM145 1807h9v6h-9zM173 1807h9v6h-9zM192 1807h9v6h-9zM360 1807h9v6h-9zM500 1807h9v6h-9zM528 1807h9v6h-9zM667 1807h10v6h-10zM723 1807h10v6h-10zM192 1813h9v5h-9zM210 1813h10v5h-10zM322 1813h10v5h-10zM369 1813h9v5h-9zM182 1818h10v6h-10zM537 1818h19v6h-19zM173 1824h9v6h-9zM266 1824h10v6h-10zM322 1824h10v6h-10zM546 1824h10v6h-10zM294 1830h10v6h-10zM350 1830h10v6h-10zM528 1830h9v6h-9zM528 1836h9v6h-9zM556 1836h9v6h-9zM248 1842h9v6h-9zM285 1842h9v6h-9zM425 1842h9v6h-9zM528 1842h18v6h-18zM621 1842h9v6h-9zM705 1842h9v6h-9zM304 1848h9v6h-9zM332 1848h9v6h-9zM360 1848h9v6h-9zM416 1848h9v6h-9zM528 1848h9v6h-9zM649 1848h9v6h-9zM117 1854h9v6h-9zM182 1854h10v6h-10zM210 1854h10v6h-10zM313 1854h9v6h-9zM341 1854h19v6h-19zM425 1854h9v6h-9zM313 1860h9v6h-9zM332 1860h9v6h-9zM434 1860h10v6h-10zM565 1860h9v6h-9zM584 1860h9v6h-9zM602 1860h9v6h-9zM667 1860h10v6h-10zM173 1866h9v6h-9zM210 1866h10v6h-10zM285 1866h9v6h-9zM434 1866h10v6h-10zM546 1866h19v6h-19zM126 1872h10v5h-10zM145 1872h9v5h-9zM173 1872h9v5h-9zM248 1872h9v5h-9zM266 1872h10v5h-10zM313 1872h9v5h-9zM341 1872h19v5h-19zM369 1872h19v5h-19zM621 1872h18v5h-18zM117 1877h9v6h-9zM145 1877h9v6h-9zM182 1877h10v6h-10zM248 1877h9v6h-9zM294 1877h10v6h-10zM313 1877h9v6h-9zM397 1877h9v6h-9zM434 1877h10v6h-10zM453 1877h9v6h-9zM518 1877h19v6h-19zM154 1883h10v6h-10zM173 1883h19v6h-19zM201 1883h9v6h-9zM220 1883h9v6h-9zM248 1883h9v6h-9zM332 1883h18v6h-18zM378 1883h10v6h-10zM462 1883h19v6h-19zM546 1883h19v6h-19zM714 1883h9v6h-9zM182 1889h19v6h-19zM229 1889h9v6h-9zM322 1889h10v6h-10zM341 1889h9v6h-9zM360 1889h9v6h-9zM584 1889h9v6h-9zM611 1889h10v6h-10zM677 1889h9v6h-9zM173 1895h9v6h-9zM276 1895h9v6h-9zM425 1895h9v6h-9zM546 1895h10v6h-10zM658 1895h9v6h-9zM733 1895h18v6h-18zM145 1901h9v6h-9zM201 1901h9v6h-9zM248 1901h28v6h-28zM304 1901h9v6h-9zM332 1901h9v6h-9zM406 1901h10v6h-10zM528 1901h9v6h-9zM546 1901h19v6h-19zM602 1901h9v6h-9zM742 1901h9v6h-9zM117 1907h9v6h-9zM285 1907h9v6h-9zM360 1907h9v6h-9zM481 1907h9v6h-9zM528 1907h9v6h-9z"/>
<path fill="#81a490" d="M341 1618h9v6h-9zM556 1630h9v5h-9zM332 1700h9v6h-9zM500 1759h18v6h-18zM313 1765h9v6h-9zM453 1765h9v6h-9zM509 1765h9v6h-9zM192 1771h9v6h-9zM304 1771h9v6h-9zM332 1771h9v6h-9zM369 1771h9v6h-9zM313 1777h28v6h-28zM565 1777h9v6h-9zM313 1783h9v6h-9zM518 1807h10v6h-10zM481 1813h9v5h-9zM621 1813h9v5h-9zM117 1818h9v6h-9zM322 1818h10v6h-10zM313 1824h9v6h-9zM182 1830h10v6h-10zM201 1830h9v6h-9zM332 1830h9v6h-9zM164 1836h9v6h-9zM322 1836h10v6h-10zM341 1836h9v6h-9zM546 1836h10v6h-10zM136 1842h9v6h-9zM154 1842h10v6h-10zM238 1842h10v6h-10zM257 1842h9v6h-9zM294 1842h10v6h-10zM322 1842h10v6h-10zM472 1842h9v6h-9zM546 1842h10v6h-10zM126 1848h10v6h-10zM164 1848h18v6h-18zM294 1848h10v6h-10zM173 1854h9v6h-9zM257 1854h9v6h-9zM360 1854h9v6h-9zM537 1854h9v6h-9zM136 1860h9v6h-9zM294 1860h10v6h-10zM350 1860h10v6h-10zM378 1860h10v6h-10zM490 1860h10v6h-10zM192 1866h9v6h-9zM257 1866h9v6h-9zM322 1866h10v6h-10zM350 1866h10v6h-10zM630 1866h9v6h-9zM714 1866h9v6h-9zM742 1866h9v6h-9zM220 1872h9v5h-9zM285 1872h9v5h-9zM425 1872h19v5h-19zM509 1872h9v5h-9zM537 1872h9v5h-9zM556 1872h9v5h-9zM126 1877h10v6h-10zM238 1877h10v6h-10zM462 1877h10v6h-10zM500 1877h9v6h-9zM565 1877h9v6h-9zM667 1877h10v6h-10zM751 1877h10v6h-10zM117 1883h9v6h-9zM136 1883h9v6h-9zM304 1883h9v6h-9zM322 1883h10v6h-10zM350 1883h10v6h-10zM416 1883h9v6h-9zM434 1883h10v6h-10zM518 1883h19v6h-19zM751 1883h10v6h-10zM126 1889h10v6h-10zM154 1889h10v6h-10zM248 1889h9v6h-9zM276 1889h9v6h-9zM304 1889h9v6h-9zM332 1889h9v6h-9zM472 1889h18v6h-18zM117 1895h9v6h-9zM154 1895h10v6h-10zM257 1895h9v6h-9zM322 1895h19v6h-19zM350 1895h19v6h-19zM406 1895h10v6h-10zM472 1895h9v6h-9zM117 1901h9v6h-9zM322 1901h10v6h-10zM649 1901h9v6h-9zM136 1907h9v6h-9zM304 1907h9v6h-9zM332 1907h9v6h-9zM397 1907h9v6h-9zM462 1907h10v6h-10zM630 1907h9v6h-9z"/>
<path fill="#ffffff" d="M313 1624h9v6h-9zM537 1624h9v6h-9zM574 1630h10v5h-10zM546 1700h10v6h-10zM257 1712h9v6h-9zM304 1759h9v6h-9zM574 1759h10v6h-10zM621 1759h9v6h-9zM210 1765h10v6h-10zM584 1765h9v6h-9zM667 1765h10v6h-10zM723 1777h10v6h-10zM136 1783h9v6h-9zM238 1783h10v6h-10zM667 1783h10v6h-10zM350 1795h10v6h-10zM574 1795h10v6h-10zM322 1801h10v6h-10zM182 1807h10v6h-10zM677 1807h9v6h-9zM229 1813h9v5h-9zM294 1813h10v5h-10zM332 1813h9v5h-9zM751 1813h10v5h-10zM350 1824h10v6h-10zM500 1824h9v6h-9zM192 1836h9v6h-9zM667 1836h10v6h-10zM397 1842h9v6h-9zM602 1842h9v6h-9zM322 1848h10v6h-10zM369 1848h9v6h-9zM546 1848h10v6h-10zM733 1848h9v6h-9zM406 1854h10v6h-10zM229 1860h9v6h-9zM285 1860h9v6h-9zM341 1860h9v6h-9zM518 1860h10v6h-10zM416 1866h9v6h-9zM192 1872h9v5h-9zM332 1872h9v5h-9zM360 1872h9v5h-9zM528 1872h9v5h-9zM350 1877h10v6h-10zM556 1877h9v6h-9zM369 1883h9v6h-9zM406 1883h10v6h-10zM695 1883h10v6h-10zM546 1889h10v6h-10zM565 1889h9v6h-9zM742 1889h19v6h-19zM136 1895h9v6h-9zM164 1895h9v6h-9zM378 1895h10v6h-10zM537 1901h9v6h-9zM611 1901h10v6h-10zM145 1907h9v6h-9zM378 1907h10v6h-10zM574 1907h10v6h-10zM621 1907h9v6h-9zM667 1907h10v6h-10zM714 1907h9v6h-9z"/>
<path fill="#fff" fill-opacity="0.12" d="M126 1399.38h1v513.51h-1zM154 1399.38h1v513.51h-1zM163 1399.38h1v513.51h-1zM182 1399.38h1v513.51h-1zM191 1399.38h1v513.51h-1zM210 1399.38h1v513.51h-1zM219 1399.38h1v513.51h-1zM238 1399.38h1v513.51h-1zM247 1399.38h1v513.51h-1zM266 1399.38h1v513.51h-1zM275 1399.38h1v513.51h-1zM294 1399.38h1v513.51h-1zM303 1399.38h1v513.51h-1zM322 1399.38h1v513.51h-1zM331 1399.38h1v513.51h-1zM350 1399.38h1v513.51h-1zM359 1399.38h1v513.51h-1zM378 1399.38h1v513.51h-1zM387 1399.38h1v513.51h-1zM406 1399.38h1v513.51h-1zM415 1399.38h1v513.51h-1zM434 1399.38h1v513.51h-1zM443 1399.38h1v513.51h-1zM471 1399.38h1v513.51h-1zM499 1399.38h1v513.51h-1zM527 1399.38h1v513.51h-1zM555 1399.38h1v513.51h-1zM583 1399.38h1v513.51h-1zM611 1399.38h1v513.51h-1zM639 1399.38h1v513.51h-1zM667 1399.38h1v513.51h-1zM695 1399.38h1v513.51h-1zM723 1399.38h1v513.51h-1zM751 1399.38h1v513.51h-1zM760 1399.38h1v513.51h-1z"/>
<path fill="#fff" fill-opacity="0.12" d="M98.44 1405v1h680.95v-1zM98.44 1440v1h680.95v-1zM98.44 1446v1h680.95v-1zM98.44 1452v1h680.95v-1zM98.44 1458v1h680.95v-1zM98.44 1464v1h680.95v-1zM98.44 1499v1h680.95v-1zM98.44 1505v1h680.95v-1zM98.44 1511v1h680.95v-1zM98.44 1517v1h680.95v-1zM98.44 1523v1h680.95v-1zM98.44 1558v1h680.95v-1zM98.44 1564v1h680.95v-1zM98.44 1570v1h680.95v-1zM98.44 1576v1h680.95v-1zM98.44 1582v1h680.95v-1zM98.44 1588v1h680.95v-1zM98.44 1623v1h680.95v-1zM98.44 1629v1h680.95v-1zM98.44 1635v1h680.95v-1zM98.44 1641v1h680.95v-1zM98.44 1647v1h680.95v-1zM98.44 1682v1h680.95v-1zM98.44 1688v1h680.95v-1zM98.44 1694v1h680.95v-1zM98.44 1700v1h680.95v-1zM98.44 1706v1h680.95v-1zM98.44 1741v1h680.95v-1zM98.44 1747v1h680.95v-1zM98.44 1753v1h680.95v-1zM98.44 1759v1h680.95v-1zM98.44 1765v1h680.95v-1zM98.44 1800v1h680.95v-1zM98.44 1806v1h680.95v-1zM98.44 1812v1h680.95v-1zM98.44 1818v1h680.95v-1zM98.44 1824v1h680.95v-1zM98.44 1830v1h680.95v-1zM98.44 1865v1h680.95v-1zM98.44 1871v1h680.95v-1zM98.44 1877v1h680.95v-1zM98.44 1883v1h680.95v-1zM98.44 1889v1h680.95v-1z"/>
</g>
<line x1="103.11" y1="1423.58" x2="774.73" y2="1423.58" stroke="#ff00ff" stroke-width="3.0" stroke-dasharray="11.1 4.805"/>
<line x1="103.11" y1="1513.89" x2="774.73" y2="1513.89" stroke="#ff7f0e" stroke-width="3.0" stroke-dasharray="11.1 4.805"/>
<line x1="103.11" y1="1627.8" x2="774.73" y2="1627.8" stroke="#17becf" stroke-width="3.0" stroke-dasharray="11.1 4.805"/>
<rect x="98.44" y="1399.38" width="680.95" height="513.51" fill="none" stroke="#000" stroke-width="2.4"/>
<path d="M103.11 1912.89v7.6M289.67 1912.89v7.6M476.23 1912.89v7.6M662.8 1912.89v7.6M98.44 1874.53h-7.6M98.44 1756.48h-7.6M98.44 1638.43h-7.6M98.44 1520.38h-7.6M98.44 1402.33h-7.6M779.4 1423.58h7.6M779.4 1513.89h7.6M779.4 1627.8h7.6" stroke="#000" stroke-width="1.7" fill="none"/>
<g font-size="31.7" stroke="#000" stroke-width="0.55">
<text x="103.11" y="1951.89" text-anchor="middle">0</text>
<text x="289.67" y="1951.89" text-anchor="middle">50</text>
<text x="476.23" y="1951.89" text-anchor="middle">100</text>
<text x="662.8" y="1951.89" text-anchor="middle">150</text>
<text x="83.74" y="1887.03" text-anchor="end">4</text>
<text x="83.74" y="1768.98" text-anchor="end">6</text>
<text x="83.74" y="1650.93" text-anchor="end">8</text>
<text x="83.74" y="1532.88" text-anchor="end">10</text>
<text x="83.74" y="1414.83" text-anchor="end">12</text>
</g>
<g font-size="24.2" stroke="#000" stroke-width="0.55">
<text x="793.6" y="1433.18">3:1</text>
<text x="793.6" y="1523.49">5:2</text>
<text x="793.6" y="1637.4">2:1</text>
</g>
<g font-size="36.25" stroke="#000" stroke-width="0.55">
<text x="182.32" y="1386.58" letter-spacing="-0.12" xml:space="preserve">Model: N1 (</text>
<text x="388.72" y="1386.58" font-style="italic">f</text>
<text x="401.12" y="1392.48" font-size="25.4">b</text>
<text x="426.02" y="1386.58">=</text>
<text x="462.62" y="1386.58">0.5</text>
<text x="520.02" y="1386.58">,</text>
<text x="538.22" y="1386.58" font-style="italic">e</text>
<text x="560.22" y="1392.48" font-size="25.4">b</text>
<text x="585.02" y="1386.58">=</text>
<text x="621.42" y="1386.58">0.0</text>
<text x="678.72" y="1386.58">)</text>
<text x="370.72" y="1993.29" font-style="italic">i</text>
<text x="380.52" y="1999.19" font-size="25.4">p</text>
<text x="408.92" y="1993.29">(</text>
<text x="423.62" y="1993.29" font-style="italic">deg</text>
<text x="491.12" y="1993.29">)</text>
<text transform="translate(26.14,1656.84) rotate(-90)" text-anchor="middle">Δ</text>
<g transform="translate(866.7,1656.14) rotate(-90)">
<text x="-60.6" y="0" font-style="italic">T</text>
<text x="-39.5" y="5.9" font-size="25.4">p2</text>
<text x="-7.5" y="0">/</text>
<text x="5.2" y="0" font-style="italic">T</text>
<text x="26.3" y="5.9" font-size="25.4">p1</text>
</g></g>
</g>
<g>
<rect x="1019.64" y="1399.38" width="680.95" height="513.51" fill="#08306b"/>
<g shape-rendering="crispEdges">
<path fill="#b4828a" d="M1038 1494h10v6h-10zM1085 1582h9v6h-9zM1057 1588h19v6h-19zM1085 1588h9v6h-9zM1542 1588h9v6h-9zM1048 1594h28v6h-28zM1122 1594h10v6h-10zM1160 1594h9v6h-9zM1216 1594h9v6h-9zM1271 1594h10v6h-10zM1523 1594h10v6h-10zM1542 1594h9v6h-9zM1048 1600h9v6h-9zM1076 1600h9v6h-9zM1225 1600h9v6h-9zM1570 1600h9v6h-9zM1645 1600h9v6h-9zM1029 1606h19v6h-19zM1057 1606h19v6h-19zM1132 1606h9v6h-9zM1150 1606h10v6h-10zM1169 1606h9v6h-9zM1206 1606h10v6h-10zM1514 1606h9v6h-9zM1561 1606h9v6h-9zM1598 1606h9v6h-9zM1626 1606h9v6h-9zM1038 1612h10v6h-10zM1057 1612h9v6h-9zM1076 1612h9v6h-9zM1132 1612h9v6h-9zM1514 1612h9v6h-9zM1533 1612h18v6h-18zM1570 1612h9v6h-9zM1598 1612h19v6h-19zM1038 1618h28v6h-28zM1094 1618h10v6h-10zM1122 1618h10v6h-10zM1150 1618h10v6h-10zM1178 1618h10v6h-10zM1570 1618h37v6h-37zM1635 1618h10v6h-10zM1038 1624h19v6h-19zM1113 1624h9v6h-9zM1141 1624h9v6h-9zM1178 1624h10v6h-10zM1439 1624h10v6h-10zM1505 1624h9v6h-9zM1533 1624h9v6h-9zM1551 1624h19v6h-19zM1598 1624h9v6h-9zM1663 1624h10v6h-10zM1048 1630h9v5h-9zM1076 1630h9v5h-9zM1094 1630h10v5h-10zM1169 1630h9v5h-9zM1533 1630h18v5h-18zM1579 1630h10v5h-10zM1607 1630h10v5h-10zM1038 1635h19v6h-19zM1066 1635h10v6h-10zM1113 1635h9v6h-9zM1132 1635h9v6h-9zM1486 1635h9v6h-9zM1505 1635h9v6h-9zM1533 1635h9v6h-9zM1113 1641h9v6h-9zM1150 1641h10v6h-10zM1169 1641h9v6h-9zM1178 1647h10v6h-10zM1113 1671h9v6h-9zM1225 1671h9v6h-9zM1197 1677h9v6h-9zM1253 1677h9v6h-9zM1048 1683h9v6h-9zM1066 1683h10v6h-10zM1132 1683h9v6h-9zM1197 1683h9v6h-9zM1290 1683h9v6h-9zM1430 1683h9v6h-9zM1570 1683h9v6h-9zM1645 1683h9v6h-9zM1029 1689h9v6h-9zM1085 1689h9v6h-9zM1141 1689h9v6h-9zM1495 1689h10v6h-10zM1514 1689h9v6h-9zM1579 1689h10v6h-10zM1029 1695h9v5h-9zM1076 1695h18v5h-18zM1122 1695h10v5h-10zM1141 1695h19v5h-19zM1225 1695h9v5h-9zM1458 1695h9v5h-9zM1579 1695h10v5h-10zM1645 1695h18v5h-18zM1029 1700h9v6h-9zM1085 1700h9v6h-9zM1561 1700h18v6h-18zM1589 1700h9v6h-9zM1663 1700h19v6h-19zM1094 1706h10v6h-10zM1141 1706h9v6h-9zM1169 1706h9v6h-9zM1514 1706h9v6h-9zM1626 1706h9v6h-9zM1141 1712h9v6h-9zM1495 1712h10v6h-10zM1579 1712h10v6h-10zM1673 1712h18v6h-18zM1057 1718h9v6h-9zM1206 1718h10v6h-10zM1253 1718h9v6h-9zM1505 1718h9v6h-9zM1561 1718h28v6h-28zM1645 1718h9v6h-9zM1663 1718h10v6h-10zM1057 1724h19v6h-19zM1132 1724h9v6h-9zM1150 1724h10v6h-10zM1178 1724h10v6h-10zM1225 1724h9v6h-9zM1271 1724h10v6h-10zM1299 1724h10v6h-10zM1402 1724h9v6h-9zM1514 1724h9v6h-9zM1570 1724h9v6h-9zM1598 1724h9v6h-9zM1654 1724h9v6h-9zM1048 1730h9v6h-9zM1104 1730h18v6h-18zM1188 1730h9v6h-9zM1234 1730h10v6h-10zM1327 1730h10v6h-10zM1393 1730h9v6h-9zM1589 1730h9v6h-9zM1617 1730h9v6h-9zM1635 1730h10v6h-10zM1038 1736h10v6h-10zM1122 1736h10v6h-10zM1169 1736h9v6h-9zM1374 1736h9v6h-9zM1411 1736h10v6h-10zM1514 1736h9v6h-9zM1570 1736h9v6h-9zM1038 1742h19v6h-19zM1085 1742h19v6h-19zM1122 1742h19v6h-19zM1150 1742h19v6h-19zM1234 1742h10v6h-10zM1374 1742h9v6h-9zM1449 1742h9v6h-9zM1467 1742h10v6h-10zM1505 1742h9v6h-9zM1523 1742h10v6h-10zM1542 1742h9v6h-9zM1561 1742h9v6h-9zM1579 1742h19v6h-19zM1635 1742h10v6h-10zM1691 1742h10v6h-10zM1038 1748h10v6h-10zM1066 1748h10v6h-10zM1122 1748h19v6h-19zM1150 1748h10v6h-10zM1206 1748h10v6h-10zM1234 1748h37v6h-37zM1281 1748h9v6h-9zM1299 1748h10v6h-10zM1318 1748h9v6h-9zM1337 1748h9v6h-9zM1430 1748h19v6h-19zM1458 1748h19v6h-19zM1523 1748h10v6h-10zM1570 1748h9v6h-9zM1589 1748h9v6h-9zM1607 1748h10v6h-10zM1635 1748h10v6h-10zM1673 1748h9v6h-9zM1038 1754h19v5h-19zM1066 1754h19v5h-19zM1132 1754h9v5h-9zM1169 1754h37v5h-37zM1216 1754h9v5h-9zM1262 1754h9v5h-9zM1281 1754h9v5h-9zM1337 1754h9v5h-9zM1383 1754h10v5h-10zM1421 1754h9v5h-9zM1467 1754h19v5h-19zM1495 1754h19v5h-19zM1551 1754h10v5h-10zM1570 1754h9v5h-9zM1617 1754h18v5h-18zM1673 1754h9v5h-9zM1057 1759h37v6h-37zM1122 1759h10v6h-10zM1141 1759h9v6h-9zM1169 1759h9v6h-9zM1188 1759h9v6h-9zM1206 1759h10v6h-10zM1253 1759h28v6h-28zM1318 1759h9v6h-9zM1337 1759h9v6h-9zM1383 1759h10v6h-10zM1421 1759h9v6h-9zM1495 1759h10v6h-10zM1514 1759h9v6h-9zM1551 1759h10v6h-10zM1579 1759h38v6h-38zM1663 1759h28v6h-28zM1029 1765h9v6h-9zM1066 1765h19v6h-19zM1104 1765h9v6h-9zM1132 1765h28v6h-28zM1169 1765h19v6h-19zM1216 1765h18v6h-18zM1244 1765h18v6h-18zM1439 1765h10v6h-10zM1458 1765h19v6h-19zM1495 1765h10v6h-10zM1542 1765h9v6h-9zM1570 1765h65v6h-65zM1645 1765h9v6h-9zM1663 1765h10v6h-10zM1029 1771h19v6h-19zM1113 1771h9v6h-9zM1132 1771h9v6h-9zM1160 1771h9v6h-9zM1206 1771h28v6h-28zM1290 1771h9v6h-9zM1439 1771h10v6h-10zM1458 1771h28v6h-28zM1495 1771h10v6h-10zM1533 1771h9v6h-9zM1551 1771h10v6h-10zM1570 1771h28v6h-28zM1626 1771h9v6h-9zM1645 1771h9v6h-9zM1682 1771h9v6h-9zM1029 1777h9v6h-9zM1057 1777h9v6h-9zM1094 1777h10v6h-10zM1122 1777h10v6h-10zM1150 1777h10v6h-10zM1169 1777h19v6h-19zM1216 1777h9v6h-9zM1234 1777h19v6h-19zM1290 1777h9v6h-9zM1346 1777h9v6h-9zM1383 1777h10v6h-10zM1402 1777h9v6h-9zM1421 1777h9v6h-9zM1467 1777h10v6h-10zM1495 1777h19v6h-19zM1523 1777h38v6h-38zM1570 1777h9v6h-9zM1598 1777h19v6h-19zM1663 1777h19v6h-19zM1048 1783h18v6h-18zM1085 1783h9v6h-9zM1113 1783h47v6h-47zM1169 1783h19v6h-19zM1197 1783h28v6h-28zM1234 1783h10v6h-10zM1253 1783h18v6h-18zM1383 1783h10v6h-10zM1421 1783h9v6h-9zM1439 1783h19v6h-19zM1486 1783h9v6h-9zM1505 1783h9v6h-9zM1533 1783h9v6h-9zM1579 1783h10v6h-10zM1617 1783h9v6h-9zM1654 1783h28v6h-28zM1691 1783h10v6h-10zM1057 1789h9v6h-9zM1076 1789h9v6h-9zM1094 1789h10v6h-10zM1113 1789h37v6h-37zM1160 1789h28v6h-28zM1206 1789h28v6h-28zM1262 1789h9v6h-9zM1299 1789h10v6h-10zM1327 1789h28v6h-28zM1365 1789h28v6h-28zM1421 1789h18v6h-18zM1467 1789h10v6h-10zM1505 1789h9v6h-9zM1533 1789h9v6h-9zM1551 1789h19v6h-19zM1579 1789h10v6h-10zM1626 1789h9v6h-9zM1663 1789h38v6h-38zM1048 1795h9v6h-9zM1132 1795h9v6h-9zM1150 1795h10v6h-10zM1178 1795h10v6h-10zM1206 1795h10v6h-10zM1225 1795h9v6h-9zM1281 1795h18v6h-18zM1309 1795h9v6h-9zM1421 1795h18v6h-18zM1449 1795h18v6h-18zM1486 1795h9v6h-9zM1514 1795h28v6h-28zM1561 1795h9v6h-9zM1589 1795h9v6h-9zM1607 1795h10v6h-10zM1626 1795h9v6h-9zM1645 1795h9v6h-9zM1663 1795h10v6h-10zM1682 1795h19v6h-19zM1029 1801h37v6h-37zM1085 1801h19v6h-19zM1113 1801h19v6h-19zM1141 1801h9v6h-9zM1160 1801h9v6h-9zM1178 1801h28v6h-28zM1253 1801h9v6h-9zM1271 1801h28v6h-28zM1327 1801h10v6h-10zM1383 1801h10v6h-10zM1421 1801h9v6h-9zM1449 1801h9v6h-9zM1467 1801h10v6h-10zM1486 1801h9v6h-9zM1542 1801h28v6h-28zM1598 1801h9v6h-9zM1626 1801h37v6h-37zM1673 1801h18v6h-18zM1029 1807h19v6h-19zM1057 1807h9v6h-9zM1076 1807h9v6h-9zM1094 1807h28v6h-28zM1132 1807h18v6h-18zM1188 1807h9v6h-9zM1262 1807h9v6h-9zM1299 1807h10v6h-10zM1411 1807h19v6h-19zM1458 1807h37v6h-37zM1514 1807h19v6h-19zM1542 1807h56v6h-56zM1635 1807h19v6h-19zM1682 1807h9v6h-9zM1048 1813h9v5h-9zM1085 1813h19v5h-19zM1122 1813h38v5h-38zM1206 1813h19v5h-19zM1253 1813h9v5h-9zM1290 1813h19v5h-19zM1337 1813h9v5h-9zM1393 1813h9v5h-9zM1430 1813h19v5h-19zM1458 1813h9v5h-9zM1477 1813h9v5h-9zM1542 1813h65v5h-65zM1663 1813h10v5h-10zM1048 1818h18v6h-18zM1076 1818h9v6h-9zM1094 1818h28v6h-28zM1132 1818h9v6h-9zM1160 1818h46v6h-46zM1225 1818h9v6h-9zM1271 1818h10v6h-10zM1309 1818h18v6h-18zM1337 1818h9v6h-9zM1393 1818h18v6h-18zM1467 1818h19v6h-19zM1505 1818h18v6h-18zM1533 1818h9v6h-9zM1570 1818h19v6h-19zM1607 1818h10v6h-10zM1626 1818h19v6h-19zM1654 1818h37v6h-37zM1038 1824h28v6h-28zM1113 1824h19v6h-19zM1141 1824h9v6h-9zM1206 1824h19v6h-19zM1244 1824h9v6h-9zM1262 1824h28v6h-28zM1309 1824h28v6h-28zM1402 1824h9v6h-9zM1439 1824h38v6h-38zM1533 1824h9v6h-9zM1579 1824h19v6h-19zM1673 1824h9v6h-9zM1029 1830h28v6h-28zM1066 1830h10v6h-10zM1104 1830h9v6h-9zM1141 1830h19v6h-19zM1234 1830h19v6h-19zM1271 1830h10v6h-10zM1290 1830h9v6h-9zM1430 1830h19v6h-19zM1467 1830h28v6h-28zM1505 1830h9v6h-9zM1533 1830h9v6h-9zM1551 1830h10v6h-10zM1570 1830h9v6h-9zM1589 1830h28v6h-28zM1626 1830h28v6h-28zM1029 1836h9v6h-9zM1057 1836h37v6h-37zM1113 1836h9v6h-9zM1150 1836h38v6h-38zM1197 1836h19v6h-19zM1225 1836h9v6h-9zM1244 1836h9v6h-9zM1318 1836h47v6h-47zM1383 1836h10v6h-10zM1439 1836h10v6h-10zM1458 1836h28v6h-28zM1495 1836h10v6h-10zM1542 1836h19v6h-19zM1570 1836h9v6h-9zM1589 1836h18v6h-18zM1645 1836h28v6h-28zM1038 1842h10v6h-10zM1094 1842h10v6h-10zM1113 1842h47v6h-47zM1188 1842h37v6h-37zM1244 1842h9v6h-9zM1262 1842h9v6h-9zM1290 1842h9v6h-9zM1309 1842h9v6h-9zM1346 1842h9v6h-9zM1383 1842h28v6h-28zM1430 1842h19v6h-19zM1477 1842h9v6h-9zM1495 1842h10v6h-10zM1542 1842h9v6h-9zM1561 1842h9v6h-9zM1579 1842h10v6h-10zM1598 1842h19v6h-19zM1626 1842h19v6h-19zM1673 1842h18v6h-18zM1029 1848h19v6h-19zM1057 1848h9v6h-9zM1076 1848h28v6h-28zM1113 1848h9v6h-9zM1150 1848h28v6h-28zM1188 1848h9v6h-9zM1216 1848h28v6h-28zM1262 1848h28v6h-28zM1318 1848h9v6h-9zM1337 1848h9v6h-9zM1374 1848h9v6h-9zM1393 1848h9v6h-9zM1430 1848h28v6h-28zM1505 1848h9v6h-9zM1523 1848h66v6h-66zM1617 1848h9v6h-9zM1663 1848h10v6h-10zM1029 1854h47v6h-47zM1094 1854h19v6h-19zM1122 1854h10v6h-10zM1160 1854h9v6h-9zM1178 1854h19v6h-19zM1216 1854h9v6h-9zM1262 1854h9v6h-9zM1281 1854h18v6h-18zM1309 1854h18v6h-18zM1374 1854h9v6h-9zM1411 1854h10v6h-10zM1430 1854h47v6h-47zM1523 1854h10v6h-10zM1579 1854h19v6h-19zM1607 1854h66v6h-66zM1048 1860h37v6h-37zM1113 1860h37v6h-37zM1169 1860h28v6h-28zM1225 1860h19v6h-19zM1253 1860h18v6h-18zM1290 1860h9v6h-9zM1318 1860h28v6h-28zM1411 1860h10v6h-10zM1430 1860h9v6h-9zM1477 1860h28v6h-28zM1523 1860h10v6h-10zM1570 1860h28v6h-28zM1663 1860h19v6h-19zM1691 1860h10v6h-10zM1029 1866h19v6h-19zM1057 1866h9v6h-9zM1076 1866h9v6h-9zM1104 1866h9v6h-9zM1141 1866h28v6h-28zM1216 1866h28v6h-28zM1271 1866h10v6h-10zM1290 1866h9v6h-9zM1337 1866h9v6h-9zM1374 1866h9v6h-9zM1393 1866h74v6h-74zM1477 1866h9v6h-9zM1505 1866h37v6h-37zM1589 1866h28v6h-28zM1626 1866h9v6h-9zM1654 1866h19v6h-19zM1020 1872h18v5h-18zM1066 1872h19v5h-19zM1104 1872h18v5h-18zM1141 1872h9v5h-9zM1169 1872h28v5h-28zM1206 1872h10v5h-10zM1253 1872h9v5h-9zM1299 1872h19v5h-19zM1327 1872h75v5h-75zM1421 1872h9v5h-9zM1449 1872h28v5h-28zM1495 1872h19v5h-19zM1523 1872h10v5h-10zM1561 1872h18v5h-18zM1617 1872h18v5h-18zM1645 1872h56v5h-56zM1029 1877h19v6h-19zM1057 1877h19v6h-19zM1085 1877h37v6h-37zM1141 1877h19v6h-19zM1169 1877h19v6h-19zM1216 1877h9v6h-9zM1244 1877h9v6h-9zM1271 1877h10v6h-10zM1309 1877h18v6h-18zM1355 1877h19v6h-19zM1393 1877h18v6h-18zM1430 1877h19v6h-19zM1458 1877h9v6h-9zM1477 1877h9v6h-9zM1495 1877h19v6h-19zM1533 1877h46v6h-46zM1589 1877h9v6h-9zM1607 1877h10v6h-10zM1645 1877h18v6h-18zM1682 1877h9v6h-9zM1029 1883h9v6h-9zM1094 1883h10v6h-10zM1122 1883h38v6h-38zM1197 1883h9v6h-9zM1262 1883h19v6h-19zM1290 1883h28v6h-28zM1327 1883h10v6h-10zM1355 1883h10v6h-10zM1374 1883h9v6h-9zM1439 1883h28v6h-28zM1477 1883h37v6h-37zM1523 1883h10v6h-10zM1542 1883h9v6h-9zM1635 1883h10v6h-10zM1673 1883h9v6h-9zM1029 1889h84v6h-84zM1141 1889h9v6h-9zM1160 1889h9v6h-9zM1216 1889h28v6h-28zM1271 1889h10v6h-10zM1290 1889h9v6h-9zM1337 1889h9v6h-9zM1365 1889h18v6h-18zM1402 1889h47v6h-47zM1458 1889h9v6h-9zM1477 1889h37v6h-37zM1533 1889h9v6h-9zM1589 1889h18v6h-18zM1645 1889h9v6h-9zM1682 1889h19v6h-19zM1029 1895h9v6h-9zM1048 1895h37v6h-37zM1104 1895h9v6h-9zM1122 1895h28v6h-28zM1178 1895h19v6h-19zM1225 1895h19v6h-19zM1271 1895h10v6h-10zM1290 1895h9v6h-9zM1309 1895h9v6h-9zM1337 1895h28v6h-28zM1411 1895h19v6h-19zM1449 1895h18v6h-18zM1495 1895h19v6h-19zM1523 1895h10v6h-10zM1542 1895h9v6h-9zM1579 1895h10v6h-10zM1607 1895h19v6h-19zM1635 1895h10v6h-10zM1682 1895h9v6h-9zM1020 1901h9v6h-9zM1038 1901h56v6h-56zM1104 1901h18v6h-18zM1132 1901h9v6h-9zM1178 1901h10v6h-10zM1197 1901h9v6h-9zM1225 1901h28v6h-28zM1271 1901h28v6h-28zM1346 1901h9v6h-9zM1374 1901h37v6h-37zM1458 1901h9v6h-9zM1514 1901h9v6h-9zM1542 1901h19v6h-19zM1570 1901h9v6h-9zM1607 1901h10v6h-10zM1673 1901h9v6h-9zM1020 1907h9v6h-9zM1038 1907h28v6h-28zM1076 1907h9v6h-9zM1094 1907h19v6h-19zM1132 1907h28v6h-28zM1169 1907h19v6h-19zM1197 1907h9v6h-9zM1234 1907h10v6h-10zM1262 1907h9v6h-9zM1281 1907h37v6h-37zM1327 1907h10v6h-10zM1355 1907h38v6h-38zM1449 1907h18v6h-18zM1477 1907h9v6h-9zM1505 1907h18v6h-18zM1542 1907h28v6h-28zM1579 1907h10v6h-10zM1598 1907h9v6h-9zM1617 1907h9v6h-9zM1635 1907h19v6h-19zM1663 1907h10v6h-10z"/>
<path fill="#81a490" d="M1076 1594h9v6h-9zM1579 1594h10v6h-10zM1057 1600h9v6h-9zM1113 1600h9v6h-9zM1150 1600h10v6h-10zM1206 1600h10v6h-10zM1514 1600h9v6h-9zM1551 1600h10v6h-10zM1048 1606h9v6h-9zM1570 1606h9v6h-9zM1589 1612h9v6h-9zM1216 1618h9v6h-9zM1551 1618h19v6h-19zM1673 1618h9v6h-9zM1094 1624h10v6h-10zM1197 1624h9v6h-9zM1514 1624h9v6h-9zM1570 1624h19v6h-19zM1561 1630h9v5h-9zM1076 1635h9v6h-9zM1113 1647h9v6h-9zM1598 1647h9v6h-9zM1048 1665h9v6h-9zM1150 1677h10v6h-10zM1057 1683h9v6h-9zM1160 1683h9v6h-9zM1281 1689h9v6h-9zM1523 1689h19v6h-19zM1607 1689h10v6h-10zM1244 1695h9v5h-9zM1477 1695h9v5h-9zM1551 1695h10v5h-10zM1570 1695h9v5h-9zM1607 1695h19v5h-19zM1057 1700h9v6h-9zM1141 1700h9v6h-9zM1225 1700h9v6h-9zM1495 1700h10v6h-10zM1598 1700h9v6h-9zM1682 1700h9v6h-9zM1038 1706h10v6h-10zM1216 1706h9v6h-9zM1244 1706h9v6h-9zM1570 1706h9v6h-9zM1449 1712h9v6h-9zM1542 1712h9v6h-9zM1570 1712h9v6h-9zM1598 1718h9v6h-9zM1141 1724h9v6h-9zM1281 1724h9v6h-9zM1309 1724h9v6h-9zM1486 1724h9v6h-9zM1533 1724h9v6h-9zM1561 1724h9v6h-9zM1673 1724h9v6h-9zM1122 1730h19v6h-19zM1533 1730h9v6h-9zM1673 1730h9v6h-9zM1094 1736h10v6h-10zM1113 1736h9v6h-9zM1132 1736h18v6h-18zM1262 1736h9v6h-9zM1402 1736h9v6h-9zM1533 1736h9v6h-9zM1598 1736h9v6h-9zM1635 1736h10v6h-10zM1663 1736h10v6h-10zM1682 1736h9v6h-9zM1057 1742h9v6h-9zM1076 1742h9v6h-9zM1141 1742h9v6h-9zM1206 1742h10v6h-10zM1421 1742h9v6h-9zM1439 1742h10v6h-10zM1458 1742h9v6h-9zM1645 1742h18v6h-18zM1085 1748h9v6h-9zM1113 1748h9v6h-9zM1141 1748h9v6h-9zM1160 1748h9v6h-9zM1188 1748h9v6h-9zM1225 1748h9v6h-9zM1271 1748h10v6h-10zM1477 1748h9v6h-9zM1551 1748h19v6h-19zM1645 1748h9v6h-9zM1663 1748h10v6h-10zM1141 1754h9v5h-9zM1160 1754h9v5h-9zM1225 1754h9v5h-9zM1299 1754h10v5h-10zM1579 1754h10v5h-10zM1654 1754h19v5h-19zM1682 1754h19v5h-19zM1029 1759h9v6h-9zM1048 1759h9v6h-9zM1094 1759h28v6h-28zM1160 1759h9v6h-9zM1216 1759h9v6h-9zM1467 1759h10v6h-10zM1486 1759h9v6h-9zM1561 1759h9v6h-9zM1635 1759h10v6h-10zM1654 1759h9v6h-9zM1048 1765h9v6h-9zM1085 1765h19v6h-19zM1197 1765h9v6h-9zM1281 1765h9v6h-9zM1309 1765h9v6h-9zM1337 1765h9v6h-9zM1374 1765h9v6h-9zM1430 1765h9v6h-9zM1505 1765h9v6h-9zM1551 1765h19v6h-19zM1682 1765h9v6h-9zM1048 1771h18v6h-18zM1076 1771h18v6h-18zM1104 1771h9v6h-9zM1141 1771h9v6h-9zM1253 1771h28v6h-28zM1299 1771h10v6h-10zM1327 1771h19v6h-19zM1421 1771h9v6h-9zM1449 1771h9v6h-9zM1505 1771h9v6h-9zM1561 1771h9v6h-9zM1598 1771h28v6h-28zM1635 1771h10v6h-10zM1663 1771h19v6h-19zM1691 1771h10v6h-10zM1038 1777h19v6h-19zM1066 1777h10v6h-10zM1104 1777h9v6h-9zM1132 1777h18v6h-18zM1197 1777h9v6h-9zM1262 1777h9v6h-9zM1318 1777h19v6h-19zM1393 1777h9v6h-9zM1439 1777h10v6h-10zM1458 1777h9v6h-9zM1486 1777h9v6h-9zM1579 1777h10v6h-10zM1626 1777h19v6h-19zM1654 1777h9v6h-9zM1038 1783h10v6h-10zM1066 1783h10v6h-10zM1104 1783h9v6h-9zM1188 1783h9v6h-9zM1393 1783h9v6h-9zM1411 1783h10v6h-10zM1495 1783h10v6h-10zM1570 1783h9v6h-9zM1598 1783h9v6h-9zM1038 1789h10v6h-10zM1066 1789h10v6h-10zM1197 1789h9v6h-9zM1244 1789h9v6h-9zM1271 1789h10v6h-10zM1393 1789h9v6h-9zM1439 1789h10v6h-10zM1598 1789h9v6h-9zM1617 1789h9v6h-9zM1645 1789h9v6h-9zM1029 1795h19v6h-19zM1066 1795h10v6h-10zM1113 1795h19v6h-19zM1160 1795h18v6h-18zM1188 1795h9v6h-9zM1234 1795h10v6h-10zM1253 1795h9v6h-9zM1318 1795h28v6h-28zM1439 1795h10v6h-10zM1477 1795h9v6h-9zM1542 1795h19v6h-19zM1570 1795h9v6h-9zM1654 1795h9v6h-9zM1066 1801h10v6h-10zM1150 1801h10v6h-10zM1216 1801h9v6h-9zM1234 1801h19v6h-19zM1309 1801h18v6h-18zM1393 1801h9v6h-9zM1411 1801h10v6h-10zM1439 1801h10v6h-10zM1477 1801h9v6h-9zM1523 1801h10v6h-10zM1570 1801h9v6h-9zM1617 1801h9v6h-9zM1048 1807h9v6h-9zM1160 1807h18v6h-18zM1216 1807h9v6h-9zM1309 1807h9v6h-9zM1393 1807h9v6h-9zM1533 1807h9v6h-9zM1663 1807h19v6h-19zM1029 1813h19v5h-19zM1160 1813h9v5h-9zM1178 1813h10v5h-10zM1234 1813h10v5h-10zM1281 1813h9v5h-9zM1383 1813h10v5h-10zM1402 1813h9v5h-9zM1449 1813h9v5h-9zM1486 1813h9v5h-9zM1654 1813h9v5h-9zM1673 1813h9v5h-9zM1066 1818h10v6h-10zM1141 1818h19v6h-19zM1281 1818h9v6h-9zM1374 1818h9v6h-9zM1421 1818h9v6h-9zM1439 1818h19v6h-19zM1495 1818h10v6h-10zM1561 1818h9v6h-9zM1589 1818h18v6h-18zM1645 1818h9v6h-9zM1029 1824h9v6h-9zM1076 1824h9v6h-9zM1104 1824h9v6h-9zM1160 1824h9v6h-9zM1197 1824h9v6h-9zM1234 1824h10v6h-10zM1253 1824h9v6h-9zM1411 1824h10v6h-10zM1495 1824h10v6h-10zM1561 1824h9v6h-9zM1607 1824h10v6h-10zM1635 1824h10v6h-10zM1663 1824h10v6h-10zM1682 1824h9v6h-9zM1057 1830h9v6h-9zM1085 1830h9v6h-9zM1113 1830h28v6h-28zM1160 1830h9v6h-9zM1262 1830h9v6h-9zM1299 1830h10v6h-10zM1318 1830h9v6h-9zM1337 1830h9v6h-9zM1365 1830h9v6h-9zM1383 1830h10v6h-10zM1411 1830h10v6h-10zM1495 1830h10v6h-10zM1542 1830h9v6h-9zM1561 1830h9v6h-9zM1579 1830h10v6h-10zM1654 1830h9v6h-9zM1673 1830h18v6h-18zM1048 1836h9v6h-9zM1094 1836h19v6h-19zM1132 1836h9v6h-9zM1188 1836h9v6h-9zM1253 1836h9v6h-9zM1281 1836h9v6h-9zM1299 1836h10v6h-10zM1393 1836h9v6h-9zM1411 1836h28v6h-28zM1514 1836h19v6h-19zM1579 1836h10v6h-10zM1626 1836h19v6h-19zM1673 1836h18v6h-18zM1057 1842h19v6h-19zM1104 1842h9v6h-9zM1160 1842h9v6h-9zM1253 1842h9v6h-9zM1271 1842h10v6h-10zM1299 1842h10v6h-10zM1318 1842h9v6h-9zM1458 1842h9v6h-9zM1505 1842h37v6h-37zM1570 1842h9v6h-9zM1589 1842h9v6h-9zM1617 1842h9v6h-9zM1645 1842h28v6h-28zM1020 1848h9v6h-9zM1048 1848h9v6h-9zM1066 1848h10v6h-10zM1132 1848h18v6h-18zM1206 1848h10v6h-10zM1402 1848h9v6h-9zM1421 1848h9v6h-9zM1467 1848h19v6h-19zM1598 1848h19v6h-19zM1626 1848h9v6h-9zM1691 1848h10v6h-10zM1085 1854h9v6h-9zM1132 1854h18v6h-18zM1169 1854h9v6h-9zM1271 1854h10v6h-10zM1299 1854h10v6h-10zM1337 1854h9v6h-9zM1402 1854h9v6h-9zM1477 1854h9v6h-9zM1514 1854h9v6h-9zM1533 1854h9v6h-9zM1551 1854h10v6h-10zM1598 1854h9v6h-9zM1020 1860h18v6h-18zM1150 1860h19v6h-19zM1299 1860h19v6h-19zM1355 1860h10v6h-10zM1439 1860h38v6h-38zM1505 1860h18v6h-18zM1551 1860h10v6h-10zM1598 1860h19v6h-19zM1682 1860h9v6h-9zM1085 1866h19v6h-19zM1113 1866h9v6h-9zM1169 1866h9v6h-9zM1188 1866h9v6h-9zM1206 1866h10v6h-10zM1262 1866h9v6h-9zM1299 1866h10v6h-10zM1355 1866h10v6h-10zM1383 1866h10v6h-10zM1486 1866h9v6h-9zM1561 1866h9v6h-9zM1579 1866h10v6h-10zM1635 1866h10v6h-10zM1682 1866h9v6h-9zM1038 1872h19v5h-19zM1094 1872h10v5h-10zM1122 1872h19v5h-19zM1150 1872h19v5h-19zM1216 1872h18v5h-18zM1244 1872h9v5h-9zM1281 1872h18v5h-18zM1411 1872h10v5h-10zM1477 1872h18v5h-18zM1533 1872h9v5h-9zM1579 1872h10v5h-10zM1598 1872h19v5h-19zM1076 1877h9v6h-9zM1122 1877h19v6h-19zM1160 1877h9v6h-9zM1206 1877h10v6h-10zM1253 1877h9v6h-9zM1290 1877h9v6h-9zM1327 1877h19v6h-19zM1383 1877h10v6h-10zM1411 1877h19v6h-19zM1449 1877h9v6h-9zM1467 1877h10v6h-10zM1617 1877h28v6h-28zM1673 1877h9v6h-9zM1038 1883h38v6h-38zM1085 1883h9v6h-9zM1104 1883h9v6h-9zM1160 1883h18v6h-18zM1216 1883h9v6h-9zM1244 1883h18v6h-18zM1281 1883h9v6h-9zM1318 1883h9v6h-9zM1346 1883h9v6h-9zM1393 1883h46v6h-46zM1514 1883h9v6h-9zM1561 1883h65v6h-65zM1682 1883h19v6h-19zM1113 1889h28v6h-28zM1150 1889h10v6h-10zM1178 1889h10v6h-10zM1206 1889h10v6h-10zM1309 1889h18v6h-18zM1346 1889h19v6h-19zM1514 1889h9v6h-9zM1542 1889h19v6h-19zM1570 1889h9v6h-9zM1654 1889h28v6h-28zM1038 1895h10v6h-10zM1150 1895h28v6h-28zM1197 1895h9v6h-9zM1216 1895h9v6h-9zM1253 1895h18v6h-18zM1318 1895h19v6h-19zM1365 1895h37v6h-37zM1467 1895h28v6h-28zM1551 1895h10v6h-10zM1570 1895h9v6h-9zM1589 1895h18v6h-18zM1654 1895h19v6h-19zM1029 1901h9v6h-9zM1094 1901h10v6h-10zM1122 1901h10v6h-10zM1141 1901h9v6h-9zM1169 1901h9v6h-9zM1188 1901h9v6h-9zM1206 1901h10v6h-10zM1253 1901h9v6h-9zM1299 1901h38v6h-38zM1355 1901h10v6h-10zM1449 1901h9v6h-9zM1467 1901h19v6h-19zM1495 1901h19v6h-19zM1589 1901h18v6h-18zM1626 1901h9v6h-9zM1654 1901h19v6h-19zM1682 1901h19v6h-19zM1029 1907h9v6h-9zM1066 1907h10v6h-10zM1085 1907h9v6h-9zM1113 1907h9v6h-9zM1188 1907h9v6h-9zM1206 1907h19v6h-19zM1244 1907h18v6h-18zM1271 1907h10v6h-10zM1337 1907h9v6h-9zM1402 1907h9v6h-9zM1421 1907h18v6h-18zM1467 1907h10v6h-10zM1486 1907h19v6h-19zM1523 1907h10v6h-10zM1570 1907h9v6h-9zM1607 1907h10v6h-10zM1626 1907h9v6h-9zM1654 1907h9v6h-9zM1673 1907h9v6h-9zM1691 1907h10v6h-10z"/>
<path fill="#ffffff" d="M1085 1612h9v6h-9zM1271 1618h10v6h-10zM1626 1618h9v6h-9zM1094 1635h10v6h-10zM1160 1677h9v6h-9zM1188 1689h9v6h-9zM1561 1689h9v6h-9zM1337 1695h9v5h-9zM1094 1700h10v6h-10zM1160 1706h9v6h-9zM1160 1718h9v6h-9zM1421 1724h9v6h-9zM1523 1724h10v6h-10zM1169 1730h9v6h-9zM1188 1736h9v6h-9zM1178 1742h10v6h-10zM1094 1748h10v6h-10zM1598 1748h9v6h-9zM1085 1754h9v5h-9zM1150 1754h10v5h-10zM1271 1754h10v5h-10zM1393 1754h9v5h-9zM1439 1754h10v5h-10zM1598 1754h9v5h-9zM1309 1759h9v6h-9zM1038 1765h10v6h-10zM1318 1765h9v6h-9zM1691 1765h10v6h-10zM1020 1771h9v6h-9zM1383 1771h10v6h-10zM1561 1777h9v6h-9zM1495 1789h10v6h-10zM1514 1789h9v6h-9zM1542 1789h9v6h-9zM1141 1795h9v6h-9zM1076 1801h9v6h-9zM1206 1801h10v6h-10zM1225 1801h9v6h-9zM1262 1801h9v6h-9zM1402 1801h9v6h-9zM1327 1807h10v6h-10zM1374 1807h9v6h-9zM1402 1807h9v6h-9zM1430 1807h9v6h-9zM1449 1807h9v6h-9zM1626 1807h9v6h-9zM1104 1813h9v5h-9zM1197 1813h9v5h-9zM1318 1813h9v5h-9zM1421 1813h9v5h-9zM1626 1813h9v5h-9zM1645 1813h9v5h-9zM1617 1818h9v6h-9zM1691 1818h10v6h-10zM1094 1824h10v6h-10zM1132 1824h9v6h-9zM1169 1824h19v6h-19zM1337 1824h9v6h-9zM1654 1824h9v6h-9zM1188 1830h9v6h-9zM1309 1830h9v6h-9zM1458 1830h9v6h-9zM1691 1830h10v6h-10zM1234 1836h10v6h-10zM1374 1836h9v6h-9zM1505 1836h9v6h-9zM1691 1836h10v6h-10zM1048 1842h9v6h-9zM1467 1842h10v6h-10zM1486 1842h9v6h-9zM1290 1848h9v6h-9zM1309 1848h9v6h-9zM1327 1848h10v6h-10zM1458 1848h9v6h-9zM1020 1854h9v6h-9zM1150 1854h10v6h-10zM1225 1854h9v6h-9zM1365 1854h9v6h-9zM1542 1854h9v6h-9zM1570 1854h9v6h-9zM1691 1854h10v6h-10zM1038 1860h10v6h-10zM1374 1860h9v6h-9zM1048 1866h9v6h-9zM1122 1866h19v6h-19zM1244 1866h18v6h-18zM1309 1866h9v6h-9zM1467 1866h10v6h-10zM1570 1866h9v6h-9zM1691 1866h10v6h-10zM1439 1872h10v5h-10zM1589 1872h9v5h-9zM1020 1877h9v6h-9zM1048 1877h9v6h-9zM1197 1877h9v6h-9zM1262 1877h9v6h-9zM1579 1877h10v6h-10zM1663 1877h10v6h-10zM1020 1883h9v6h-9zM1225 1883h9v6h-9zM1337 1883h9v6h-9zM1365 1883h9v6h-9zM1327 1889h10v6h-10zM1383 1889h10v6h-10zM1113 1895h9v6h-9zM1244 1895h9v6h-9zM1402 1895h9v6h-9zM1626 1895h9v6h-9zM1691 1895h10v6h-10zM1365 1901h9v6h-9zM1579 1901h10v6h-10zM1635 1901h10v6h-10zM1160 1907h9v6h-9zM1411 1907h10v6h-10zM1682 1907h9v6h-9z"/>
<path fill="#fff" fill-opacity="0.12" d="M1038 1399.38h1v513.51h-1zM1047 1399.38h1v513.51h-1zM1066 1399.38h1v513.51h-1zM1075 1399.38h1v513.51h-1zM1094 1399.38h1v513.51h-1zM1103 1399.38h1v513.51h-1zM1131 1399.38h1v513.51h-1zM1159 1399.38h1v513.51h-1zM1187 1399.38h1v513.51h-1zM1215 1399.38h1v513.51h-1zM1243 1399.38h1v513.51h-1zM1271 1399.38h1v513.51h-1zM1299 1399.38h1v513.51h-1zM1327 1399.38h1v513.51h-1zM1355 1399.38h1v513.51h-1zM1383 1399.38h1v513.51h-1zM1411 1399.38h1v513.51h-1zM1420 1399.38h1v513.51h-1zM1439 1399.38h1v513.51h-1zM1448 1399.38h1v513.51h-1zM1467 1399.38h1v513.51h-1zM1476 1399.38h1v513.51h-1zM1495 1399.38h1v513.51h-1zM1504 1399.38h1v513.51h-1zM1523 1399.38h1v513.51h-1zM1532 1399.38h1v513.51h-1zM1551 1399.38h1v513.51h-1zM1560 1399.38h1v513.51h-1zM1579 1399.38h1v513.51h-1zM1588 1399.38h1v513.51h-1zM1607 1399.38h1v513.51h-1zM1616 1399.38h1v513.51h-1zM1635 1399.38h1v513.51h-1zM1644 1399.38h1v513.51h-1zM1663 1399.38h1v513.51h-1zM1672 1399.38h1v513.51h-1zM1691 1399.38h1v513.51h-1z"/>
<path fill="#fff" fill-opacity="0.12" d="M1019.64 1405v1h680.95v-1zM1019.64 1440v1h680.95v-1zM1019.64 1446v1h680.95v-1zM1019.64 1452v1h680.95v-1zM1019.64 1458v1h680.95v-1zM1019.64 1464v1h680.95v-1zM1019.64 1499v1h680.95v-1zM1019.64 1505v1h680.95v-1zM1019.64 1511v1h680.95v-1zM1019.64 1517v1h680.95v-1zM1019.64 1523v1h680.95v-1zM1019.64 1558v1h680.95v-1zM1019.64 1564v1h680.95v-1zM1019.64 1570v1h680.95v-1zM1019.64 1576v1h680.95v-1zM1019.64 1582v1h680.95v-1zM1019.64 1588v1h680.95v-1zM1019.64 1623v1h680.95v-1zM1019.64 1629v1h680.95v-1zM1019.64 1635v1h680.95v-1zM1019.64 1641v1h680.95v-1zM1019.64 1647v1h680.95v-1zM1019.64 1682v1h680.95v-1zM1019.64 1688v1h680.95v-1zM1019.64 1694v1h680.95v-1zM1019.64 1700v1h680.95v-1zM1019.64 1706v1h680.95v-1zM1019.64 1741v1h680.95v-1zM1019.64 1747v1h680.95v-1zM1019.64 1753v1h680.95v-1zM1019.64 1759v1h680.95v-1zM1019.64 1765v1h680.95v-1zM1019.64 1800v1h680.95v-1zM1019.64 1806v1h680.95v-1zM1019.64 1812v1h680.95v-1zM1019.64 1818v1h680.95v-1zM1019.64 1824v1h680.95v-1zM1019.64 1830v1h680.95v-1zM1019.64 1865v1h680.95v-1zM1019.64 1871v1h680.95v-1zM1019.64 1877v1h680.95v-1zM1019.64 1883v1h680.95v-1zM1019.64 1889v1h680.95v-1z"/>
</g>
<line x1="1024.3" y1="1423.58" x2="1695.93" y2="1423.58" stroke="#ff00ff" stroke-width="3.0" stroke-dasharray="11.1 4.805"/>
<line x1="1024.3" y1="1513.89" x2="1695.93" y2="1513.89" stroke="#ff7f0e" stroke-width="3.0" stroke-dasharray="11.1 4.805"/>
<line x1="1024.3" y1="1627.8" x2="1695.93" y2="1627.8" stroke="#17becf" stroke-width="3.0" stroke-dasharray="11.1 4.805"/>
<rect x="1019.64" y="1399.38" width="680.95" height="513.51" fill="none" stroke="#000" stroke-width="2.4"/>
<path d="M1024.3 1912.89v7.6M1210.87 1912.89v7.6M1397.43 1912.89v7.6M1583.99 1912.89v7.6M1019.64 1874.53h-7.6M1019.64 1756.48h-7.6M1019.64 1638.43h-7.6M1019.64 1520.38h-7.6M1019.64 1402.33h-7.6M1700.59 1423.58h7.6M1700.59 1513.89h7.6M1700.59 1627.8h7.6" stroke="#000" stroke-width="1.7" fill="none"/>
<g font-size="31.7" stroke="#000" stroke-width="0.55">
<text x="1024.3" y="1951.89" text-anchor="middle">0</text>
<text x="1210.87" y="1951.89" text-anchor="middle">50</text>
<text x="1397.43" y="1951.89" text-anchor="middle">100</text>
<text x="1583.99" y="1951.89" text-anchor="middle">150</text>
<text x="1004.94" y="1887.03" text-anchor="end">4</text>
<text x="1004.94" y="1768.98" text-anchor="end">6</text>
<text x="1004.94" y="1650.93" text-anchor="end">8</text>
<text x="1004.94" y="1532.88" text-anchor="end">10</text>
<text x="1004.94" y="1414.83" text-anchor="end">12</text>
</g>
<g font-size="24.2" stroke="#000" stroke-width="0.55">
<text x="1714.79" y="1433.18">3:1</text>
<text x="1714.79" y="1523.49">5:2</text>
<text x="1714.79" y="1637.4">2:1</text>
</g>
<g font-size="36.25" stroke="#000" stroke-width="0.55">
<text x="1103.52" y="1386.58" letter-spacing="-0.12" xml:space="preserve">Model: N2 (</text>
<text x="1309.92" y="1386.58" font-style="italic">f</text>
<text x="1322.32" y="1392.48" font-size="25.4">b</text>
<text x="1347.22" y="1386.58">=</text>
<text x="1383.82" y="1386.58">0.5</text>
<text x="1441.22" y="1386.58">,</text>
<text x="1459.42" y="1386.58" font-style="italic">e</text>
<text x="1481.42" y="1392.48" font-size="25.4">b</text>
<text x="1506.22" y="1386.58">=</text>
<text x="1542.62" y="1386.58">0.8</text>
<text x="1599.92" y="1386.58">)</text>
<text x="1291.92" y="1993.29" font-style="italic">i</text>
<text x="1301.72" y="1999.19" font-size="25.4">p</text>
<text x="1330.12" y="1993.29">(</text>
<text x="1344.82" y="1993.29" font-style="italic">deg</text>
<text x="1412.32" y="1993.29">)</text>
<text transform="translate(947.34,1656.84) rotate(-90)" text-anchor="middle">Δ</text>
<g transform="translate(1787.89,1656.14) rotate(-90)">
<text x="-60.6" y="0" font-style="italic">T</text>
<text x="-39.5" y="5.9" font-size="25.4">p2</text>
<text x="-7.5" y="0">/</text>
<text x="5.2" y="0" font-style="italic">T</text>
<text x="26.3" y="5.9" font-size="25.4">p1</text>
</g></g>
</g>
<g>
<rect x="98.44" y="2078.98" width="680.95" height="513.51" fill="#08306b"/>
<g shape-rendering="crispEdges">
<path fill="#b4828a" d="M276 2079h9v6h-9zM313 2079h9v6h-9zM341 2079h9v6h-9zM556 2079h9v6h-9zM556 2215h9v6h-9zM313 2221h9v6h-9zM556 2221h9v6h-9zM313 2227h9v5h-9zM556 2227h9v5h-9zM313 2232h9v6h-9zM556 2232h9v6h-9zM313 2238h9v6h-9zM556 2238h9v6h-9zM313 2244h9v6h-9zM556 2244h9v6h-9zM313 2250h9v6h-9zM556 2250h9v6h-9zM556 2256h9v6h-9zM313 2262h9v6h-9zM556 2262h9v6h-9zM313 2268h9v6h-9zM556 2268h9v6h-9zM313 2274h9v6h-9zM556 2274h9v6h-9zM313 2280h9v6h-9zM313 2291h9v6h-9zM248 2315h9v6h-9zM304 2315h28v6h-28zM509 2315h9v6h-9zM528 2315h18v6h-18zM565 2315h19v6h-19zM593 2315h9v6h-9zM210 2321h10v6h-10zM229 2321h9v6h-9zM266 2321h10v6h-10zM294 2321h28v6h-28zM341 2321h19v6h-19zM369 2321h19v6h-19zM397 2321h28v6h-28zM434 2321h10v6h-10zM472 2321h9v6h-9zM490 2321h10v6h-10zM509 2321h19v6h-19zM537 2321h9v6h-9zM556 2321h9v6h-9zM574 2321h10v6h-10zM201 2327h9v6h-9zM257 2327h19v6h-19zM294 2327h47v6h-47zM350 2327h19v6h-19zM388 2327h18v6h-18zM416 2327h28v6h-28zM453 2327h9v6h-9zM472 2327h9v6h-9zM490 2327h10v6h-10zM509 2327h9v6h-9zM528 2327h9v6h-9zM556 2327h18v6h-18zM584 2327h9v6h-9zM285 2333h28v6h-28zM350 2333h38v6h-38zM462 2333h10v6h-10zM490 2333h19v6h-19zM546 2333h38v6h-38zM593 2333h9v6h-9zM257 2339h28v6h-28zM294 2339h10v6h-10zM313 2339h9v6h-9zM574 2339h10v6h-10zM602 2339h9v6h-9zM630 2339h9v6h-9zM388 2380h9v6h-9zM304 2415h9v6h-9zM341 2415h9v6h-9zM528 2415h9v6h-9zM565 2415h9v6h-9zM574 2421h10v6h-10zM294 2427h10v6h-10zM574 2427h10v6h-10zM210 2439h10v6h-10zM238 2439h19v6h-19zM276 2439h9v6h-9zM304 2439h18v6h-18zM332 2439h18v6h-18zM490 2439h10v6h-10zM537 2439h9v6h-9zM649 2439h9v6h-9zM173 2445h9v6h-9zM201 2445h9v6h-9zM220 2445h18v6h-18zM248 2445h9v6h-9zM294 2445h28v6h-28zM360 2445h18v6h-18zM388 2445h18v6h-18zM416 2445h9v6h-9zM472 2445h18v6h-18zM546 2445h10v6h-10zM584 2445h9v6h-9zM649 2445h9v6h-9zM705 2445h9v6h-9zM210 2451h19v6h-19zM238 2451h10v6h-10zM266 2451h10v6h-10zM285 2451h9v6h-9zM304 2451h18v6h-18zM332 2451h18v6h-18zM388 2451h37v6h-37zM434 2451h19v6h-19zM472 2451h9v6h-9zM490 2451h10v6h-10zM509 2451h9v6h-9zM537 2451h9v6h-9zM556 2451h9v6h-9zM574 2451h10v6h-10zM593 2451h9v6h-9zM528 2457h9v6h-9zM546 2457h10v6h-10zM322 2463h10v6h-10zM528 2463h9v6h-9zM546 2463h10v6h-10zM341 2469h9v5h-9zM192 2474h9v6h-9zM257 2474h9v6h-9zM304 2474h18v6h-18zM406 2474h10v6h-10zM425 2474h28v6h-28zM490 2474h10v6h-10zM537 2474h19v6h-19zM686 2474h9v6h-9zM229 2480h9v6h-9zM248 2480h9v6h-9zM276 2486h9v6h-9zM313 2486h19v6h-19zM528 2486h9v6h-9zM546 2486h10v6h-10zM248 2492h18v6h-18zM276 2492h9v6h-9zM444 2492h9v6h-9zM546 2492h10v6h-10zM341 2498h9v6h-9zM434 2498h10v6h-10zM304 2504h9v6h-9zM388 2504h9v6h-9zM434 2504h10v6h-10zM481 2504h9v6h-9zM565 2504h9v6h-9zM192 2510h9v6h-9zM220 2510h9v6h-9zM248 2510h18v6h-18zM294 2510h19v6h-19zM350 2510h10v6h-10zM444 2510h9v6h-9zM481 2510h9v6h-9zM537 2510h9v6h-9zM574 2510h10v6h-10zM611 2510h19v6h-19zM658 2510h9v6h-9zM695 2510h19v6h-19zM145 2516h28v6h-28zM182 2516h10v6h-10zM201 2516h37v6h-37zM248 2516h9v6h-9zM266 2516h10v6h-10zM313 2516h56v6h-56zM378 2516h19v6h-19zM462 2516h19v6h-19zM500 2516h18v6h-18zM546 2516h10v6h-10zM565 2516h37v6h-37zM630 2516h19v6h-19zM667 2516h10v6h-10zM164 2522h9v6h-9zM192 2522h9v6h-9zM220 2522h46v6h-46zM276 2522h9v6h-9zM304 2522h9v6h-9zM322 2522h19v6h-19zM350 2522h10v6h-10zM406 2522h10v6h-10zM425 2522h9v6h-9zM444 2522h9v6h-9zM462 2522h10v6h-10zM500 2522h9v6h-9zM574 2522h10v6h-10zM602 2522h19v6h-19zM630 2522h9v6h-9zM658 2522h19v6h-19zM154 2528h47v5h-47zM210 2528h28v5h-28zM248 2528h9v5h-9zM276 2528h9v5h-9zM294 2528h10v5h-10zM313 2528h9v5h-9zM341 2528h9v5h-9zM360 2528h37v5h-37zM406 2528h28v5h-28zM444 2528h9v5h-9zM462 2528h10v5h-10zM509 2528h9v5h-9zM537 2528h28v5h-28zM584 2528h18v5h-18zM611 2528h28v5h-28zM667 2528h10v5h-10zM686 2528h9v5h-9zM705 2528h9v5h-9zM723 2528h10v5h-10zM154 2533h19v6h-19zM182 2533h19v6h-19zM238 2533h10v6h-10zM266 2533h10v6h-10zM304 2533h9v6h-9zM360 2533h9v6h-9zM397 2533h9v6h-9zM509 2533h9v6h-9zM528 2533h9v6h-9zM574 2533h10v6h-10zM621 2533h18v6h-18zM714 2533h9v6h-9zM136 2539h28v6h-28zM182 2539h19v6h-19zM210 2539h19v6h-19zM238 2539h10v6h-10zM266 2539h10v6h-10zM304 2539h28v6h-28zM341 2539h9v6h-9zM378 2539h19v6h-19zM453 2539h9v6h-9zM528 2539h18v6h-18zM574 2539h10v6h-10zM723 2539h19v6h-19zM201 2545h9v6h-9zM220 2545h18v6h-18zM304 2545h18v6h-18zM350 2545h10v6h-10zM369 2545h19v6h-19zM434 2545h10v6h-10zM462 2545h10v6h-10zM509 2545h9v6h-9zM537 2545h28v6h-28zM574 2545h10v6h-10zM593 2545h9v6h-9zM164 2551h28v6h-28zM238 2551h10v6h-10zM257 2551h19v6h-19zM332 2551h9v6h-9zM406 2551h10v6h-10zM453 2551h28v6h-28zM537 2551h9v6h-9zM565 2551h9v6h-9zM584 2551h9v6h-9zM602 2551h9v6h-9zM621 2551h18v6h-18zM649 2551h9v6h-9zM164 2557h9v6h-9zM192 2557h28v6h-28zM257 2557h9v6h-9zM285 2557h28v6h-28zM350 2557h10v6h-10zM397 2557h9v6h-9zM416 2557h9v6h-9zM509 2557h9v6h-9zM537 2557h19v6h-19zM611 2557h10v6h-10zM630 2557h19v6h-19zM723 2557h10v6h-10zM126 2563h28v6h-28zM173 2563h9v6h-9zM201 2563h9v6h-9zM257 2563h9v6h-9zM285 2563h103v6h-103zM416 2563h9v6h-9zM490 2563h10v6h-10zM509 2563h47v6h-47zM574 2563h28v6h-28zM686 2563h9v6h-9zM117 2569h28v6h-28zM164 2569h9v6h-9zM192 2569h9v6h-9zM220 2569h9v6h-9zM238 2569h47v6h-47zM294 2569h19v6h-19zM341 2569h19v6h-19zM397 2569h9v6h-9zM444 2569h9v6h-9zM462 2569h10v6h-10zM490 2569h19v6h-19zM528 2569h56v6h-56zM593 2569h18v6h-18zM621 2569h9v6h-9zM639 2569h19v6h-19zM695 2569h10v6h-10zM714 2569h9v6h-9zM126 2575h10v6h-10zM182 2575h10v6h-10zM220 2575h18v6h-18zM266 2575h10v6h-10zM285 2575h9v6h-9zM304 2575h9v6h-9zM341 2575h9v6h-9zM369 2575h28v6h-28zM406 2575h28v6h-28zM453 2575h19v6h-19zM481 2575h9v6h-9zM500 2575h9v6h-9zM528 2575h9v6h-9zM546 2575h10v6h-10zM565 2575h9v6h-9zM602 2575h9v6h-9zM621 2575h18v6h-18zM658 2575h9v6h-9zM677 2575h18v6h-18zM751 2575h10v6h-10zM117 2581h28v6h-28zM154 2581h19v6h-19zM192 2581h18v6h-18zM229 2581h28v6h-28zM276 2581h18v6h-18zM313 2581h19v6h-19zM388 2581h9v6h-9zM416 2581h9v6h-9zM444 2581h18v6h-18zM481 2581h9v6h-9zM509 2581h9v6h-9zM528 2581h18v6h-18zM556 2581h9v6h-9zM574 2581h19v6h-19zM611 2581h19v6h-19zM117 2587h9v5h-9zM154 2587h28v5h-28zM192 2587h18v5h-18zM238 2587h38v5h-38zM285 2587h9v5h-9zM304 2587h9v5h-9zM332 2587h18v5h-18zM360 2587h28v5h-28zM397 2587h28v5h-28zM453 2587h9v5h-9zM472 2587h18v5h-18zM500 2587h9v5h-9zM518 2587h19v5h-19zM546 2587h10v5h-10zM574 2587h28v5h-28zM621 2587h9v5h-9zM639 2587h19v5h-19zM723 2587h10v5h-10z"/>
<path fill="#81a490" d="M556 2280h9v6h-9zM313 2286h9v5h-9zM500 2315h9v6h-9zM518 2315h10v6h-10zM546 2315h19v6h-19zM584 2315h9v6h-9zM322 2321h19v6h-19zM388 2321h9v6h-9zM481 2321h9v6h-9zM500 2321h9v6h-9zM528 2321h9v6h-9zM649 2321h9v6h-9zM285 2327h9v6h-9zM341 2327h9v6h-9zM369 2327h9v6h-9zM481 2327h9v6h-9zM537 2327h9v6h-9zM593 2327h9v6h-9zM621 2327h9v6h-9zM248 2333h9v6h-9zM276 2333h9v6h-9zM313 2333h37v6h-37zM397 2333h19v6h-19zM509 2333h9v6h-9zM210 2339h10v6h-10zM294 2410h10v5h-10zM537 2415h9v6h-9zM574 2415h10v6h-10zM257 2439h9v6h-9zM294 2439h10v6h-10zM322 2439h10v6h-10zM350 2439h10v6h-10zM369 2439h9v6h-9zM425 2439h9v6h-9zM444 2439h9v6h-9zM472 2439h9v6h-9zM500 2439h37v6h-37zM546 2439h19v6h-19zM611 2439h10v6h-10zM192 2445h9v6h-9zM238 2445h10v6h-10zM276 2445h18v6h-18zM322 2445h28v6h-28zM378 2445h10v6h-10zM406 2445h10v6h-10zM425 2445h19v6h-19zM462 2445h10v6h-10zM490 2445h19v6h-19zM518 2445h19v6h-19zM565 2445h9v6h-9zM621 2445h9v6h-9zM695 2445h10v6h-10zM714 2445h9v6h-9zM201 2451h9v6h-9zM276 2451h9v6h-9zM294 2451h10v6h-10zM322 2451h10v6h-10zM350 2451h38v6h-38zM453 2451h19v6h-19zM481 2451h9v6h-9zM528 2451h9v6h-9zM546 2451h10v6h-10zM584 2451h9v6h-9zM639 2451h10v6h-10zM238 2457h10v6h-10zM341 2457h9v6h-9zM378 2457h10v6h-10zM322 2469h10v5h-10zM444 2469h9v5h-9zM528 2469h9v5h-9zM164 2474h9v6h-9zM220 2474h18v6h-18zM341 2474h28v6h-28zM378 2474h10v6h-10zM528 2474h9v6h-9zM677 2474h9v6h-9zM705 2474h9v6h-9zM322 2480h10v6h-10zM341 2480h9v6h-9zM378 2480h10v6h-10zM528 2480h9v6h-9zM546 2480h10v6h-10zM341 2486h9v6h-9zM434 2486h10v6h-10zM462 2486h10v6h-10zM537 2486h9v6h-9zM593 2486h9v6h-9zM238 2492h10v6h-10zM322 2492h10v6h-10zM341 2492h9v6h-9zM528 2492h9v6h-9zM322 2498h10v6h-10zM565 2498h9v6h-9zM341 2504h9v6h-9zM425 2504h9v6h-9zM518 2504h10v6h-10zM201 2510h9v6h-9zM238 2510h10v6h-10zM276 2510h18v6h-18zM313 2510h28v6h-28zM416 2510h28v6h-28zM462 2510h10v6h-10zM500 2510h9v6h-9zM546 2510h10v6h-10zM565 2510h9v6h-9zM714 2510h9v6h-9zM173 2516h9v6h-9zM238 2516h10v6h-10zM257 2516h9v6h-9zM285 2516h28v6h-28zM369 2516h9v6h-9zM416 2516h9v6h-9zM434 2516h28v6h-28zM490 2516h10v6h-10zM518 2516h28v6h-28zM611 2516h10v6h-10zM658 2516h9v6h-9zM686 2516h9v6h-9zM154 2522h10v6h-10zM173 2522h19v6h-19zM210 2522h10v6h-10zM266 2522h10v6h-10zM294 2522h10v6h-10zM313 2522h9v6h-9zM341 2522h9v6h-9zM360 2522h37v6h-37zM416 2522h9v6h-9zM434 2522h10v6h-10zM472 2522h9v6h-9zM518 2522h28v6h-28zM565 2522h9v6h-9zM584 2522h9v6h-9zM639 2522h10v6h-10zM677 2522h9v6h-9zM695 2522h10v6h-10zM201 2528h9v5h-9zM238 2528h10v5h-10zM266 2528h10v5h-10zM285 2528h9v5h-9zM304 2528h9v5h-9zM322 2528h19v5h-19zM397 2528h9v5h-9zM453 2528h9v5h-9zM472 2528h28v5h-28zM565 2528h9v5h-9zM639 2528h10v5h-10zM658 2528h9v5h-9zM173 2533h9v6h-9zM210 2533h19v6h-19zM248 2533h18v6h-18zM276 2533h28v6h-28zM322 2533h28v6h-28zM378 2533h10v6h-10zM406 2533h19v6h-19zM434 2533h10v6h-10zM453 2533h9v6h-9zM472 2533h37v6h-37zM546 2533h19v6h-19zM593 2533h9v6h-9zM611 2533h10v6h-10zM639 2533h10v6h-10zM667 2533h10v6h-10zM117 2539h19v6h-19zM164 2539h18v6h-18zM201 2539h9v6h-9zM229 2539h9v6h-9zM248 2539h18v6h-18zM285 2539h19v6h-19zM332 2539h9v6h-9zM350 2539h19v6h-19zM546 2539h19v6h-19zM611 2539h28v6h-28zM667 2539h28v6h-28zM705 2539h9v6h-9zM182 2545h10v6h-10zM257 2545h19v6h-19zM406 2545h10v6h-10zM481 2545h9v6h-9zM528 2545h9v6h-9zM584 2545h9v6h-9zM630 2545h19v6h-19zM667 2545h10v6h-10zM201 2551h9v6h-9zM248 2551h9v6h-9zM285 2551h47v6h-47zM341 2551h37v6h-37zM481 2551h9v6h-9zM518 2551h19v6h-19zM546 2551h19v6h-19zM593 2551h9v6h-9zM611 2551h10v6h-10zM686 2551h9v6h-9zM145 2557h19v6h-19zM182 2557h10v6h-10zM229 2557h19v6h-19zM276 2557h9v6h-9zM313 2557h28v6h-28zM360 2557h28v6h-28zM406 2557h10v6h-10zM453 2557h9v6h-9zM490 2557h19v6h-19zM518 2557h19v6h-19zM556 2557h18v6h-18zM584 2557h9v6h-9zM658 2557h19v6h-19zM686 2557h9v6h-9zM705 2557h9v6h-9zM154 2563h10v6h-10zM210 2563h38v6h-38zM276 2563h9v6h-9zM388 2563h9v6h-9zM406 2563h10v6h-10zM444 2563h37v6h-37zM500 2563h9v6h-9zM602 2563h9v6h-9zM621 2563h28v6h-28zM145 2569h19v6h-19zM182 2569h10v6h-10zM210 2569h10v6h-10zM229 2569h9v6h-9zM285 2569h9v6h-9zM313 2569h19v6h-19zM360 2569h37v6h-37zM406 2569h19v6h-19zM434 2569h10v6h-10zM509 2569h19v6h-19zM733 2569h9v6h-9zM751 2569h10v6h-10zM154 2575h19v6h-19zM210 2575h10v6h-10zM238 2575h19v6h-19zM276 2575h9v6h-9zM294 2575h10v6h-10zM313 2575h28v6h-28zM350 2575h19v6h-19zM397 2575h9v6h-9zM472 2575h9v6h-9zM509 2575h19v6h-19zM574 2575h10v6h-10zM593 2575h9v6h-9zM649 2575h9v6h-9zM742 2575h9v6h-9zM173 2581h19v6h-19zM210 2581h19v6h-19zM257 2581h19v6h-19zM294 2581h10v6h-10zM350 2581h10v6h-10zM369 2581h9v6h-9zM397 2581h9v6h-9zM425 2581h19v6h-19zM462 2581h19v6h-19zM490 2581h10v6h-10zM518 2581h10v6h-10zM546 2581h10v6h-10zM565 2581h9v6h-9zM677 2581h9v6h-9zM714 2581h9v6h-9zM733 2581h9v6h-9zM126 2587h28v5h-28zM220 2587h18v5h-18zM313 2587h19v5h-19zM350 2587h10v5h-10zM444 2587h9v5h-9zM462 2587h10v5h-10zM509 2587h9v5h-9zM537 2587h9v5h-9zM556 2587h18v5h-18zM602 2587h19v5h-19zM705 2587h18v5h-18zM742 2587h9v5h-9z"/>
<path fill="#ffffff" d="M313 2256h9v6h-9zM276 2315h9v6h-9zM285 2321h9v6h-9zM360 2321h9v6h-9zM462 2321h10v6h-10zM611 2321h10v6h-10zM229 2327h9v6h-9zM500 2327h9v6h-9zM546 2327h10v6h-10zM220 2333h9v6h-9zM388 2333h9v6h-9zM481 2333h9v6h-9zM528 2333h18v6h-18zM602 2333h9v6h-9zM677 2333h9v6h-9zM611 2339h10v6h-10zM649 2415h9v6h-9zM285 2439h9v6h-9zM453 2439h9v6h-9zM574 2439h19v6h-19zM602 2439h9v6h-9zM621 2439h9v6h-9zM677 2439h9v6h-9zM257 2445h9v6h-9zM444 2445h18v6h-18zM509 2445h9v6h-9zM639 2445h10v6h-10zM136 2451h9v6h-9zM173 2451h9v6h-9zM229 2451h9v6h-9zM500 2451h9v6h-9zM518 2451h10v6h-10zM565 2451h9v6h-9zM695 2451h10v6h-10zM341 2463h9v6h-9zM322 2474h10v6h-10zM369 2474h9v6h-9zM462 2474h10v6h-10zM238 2486h10v6h-10zM294 2486h10v6h-10zM332 2486h9v6h-9zM481 2486h9v6h-9zM574 2486h10v6h-10zM649 2486h9v6h-9zM322 2504h10v6h-10zM229 2510h9v6h-9zM266 2510h10v6h-10zM453 2510h9v6h-9zM593 2510h9v6h-9zM639 2510h10v6h-10zM677 2510h9v6h-9zM723 2510h10v6h-10zM397 2516h9v6h-9zM425 2516h9v6h-9zM556 2516h9v6h-9zM705 2516h9v6h-9zM145 2522h9v6h-9zM285 2522h9v6h-9zM397 2522h9v6h-9zM453 2522h9v6h-9zM481 2522h19v6h-19zM509 2522h9v6h-9zM546 2522h10v6h-10zM593 2522h9v6h-9zM621 2522h9v6h-9zM434 2528h10v5h-10zM500 2528h9v5h-9zM528 2528h9v5h-9zM574 2528h10v5h-10zM602 2528h9v5h-9zM677 2528h9v5h-9zM444 2533h9v6h-9zM462 2533h10v6h-10zM537 2533h9v6h-9zM565 2533h9v6h-9zM584 2533h9v6h-9zM602 2533h9v6h-9zM705 2533h9v6h-9zM276 2539h9v6h-9zM639 2539h28v6h-28zM173 2545h9v6h-9zM276 2545h9v6h-9zM322 2545h10v6h-10zM397 2545h9v6h-9zM490 2545h19v6h-19zM602 2545h9v6h-9zM649 2545h18v6h-18zM705 2545h9v6h-9zM210 2551h10v6h-10zM378 2551h10v6h-10zM444 2551h9v6h-9zM639 2551h10v6h-10zM677 2551h9v6h-9zM695 2551h10v6h-10zM248 2557h9v6h-9zM266 2557h10v6h-10zM341 2557h9v6h-9zM574 2557h10v6h-10zM649 2557h9v6h-9zM677 2557h9v6h-9zM164 2563h9v6h-9zM182 2563h10v6h-10zM248 2563h9v6h-9zM425 2563h19v6h-19zM481 2563h9v6h-9zM556 2563h9v6h-9zM658 2563h19v6h-19zM695 2563h10v6h-10zM714 2563h19v6h-19zM742 2563h9v6h-9zM173 2569h9v6h-9zM332 2569h9v6h-9zM425 2569h9v6h-9zM453 2569h9v6h-9zM584 2569h9v6h-9zM611 2569h10v6h-10zM686 2569h9v6h-9zM705 2569h9v6h-9zM136 2575h18v6h-18zM173 2575h9v6h-9zM192 2575h18v6h-18zM444 2575h9v6h-9zM490 2575h10v6h-10zM556 2575h9v6h-9zM611 2575h10v6h-10zM723 2575h10v6h-10zM145 2581h9v6h-9zM304 2581h9v6h-9zM332 2581h18v6h-18zM360 2581h9v6h-9zM500 2581h9v6h-9zM630 2581h9v6h-9zM658 2581h9v6h-9zM686 2581h9v6h-9zM723 2581h10v6h-10zM742 2581h9v6h-9zM276 2587h9v5h-9zM294 2587h10v5h-10zM425 2587h19v5h-19zM490 2587h10v5h-10zM658 2587h9v5h-9zM695 2587h10v5h-10z"/>
<path fill="#fff" fill-opacity="0.12" d="M126 2078.98h1v513.51h-1zM154 2078.98h1v513.51h-1zM163 2078.98h1v513.51h-1zM182 2078.98h1v513.51h-1zM191 2078.98h1v513.51h-1zM210 2078.98h1v513.51h-1zM219 2078.98h1v513.51h-1zM238 2078.98h1v513.51h-1zM247 2078.98h1v513.51h-1zM266 2078.98h1v513.51h-1zM275 2078.98h1v513.51h-1zM294 2078.98h1v513.51h-1zM303 2078.98h1v513.51h-1zM322 2078.98h1v513.51h-1zM331 2078.98h1v513.51h-1zM350 2078.98h1v513.51h-1zM359 2078.98h1v513.51h-1zM378 2078.98h1v513.51h-1zM387 2078.98h1v513.51h-1zM406 2078.98h1v513.51h-1zM415 2078.98h1v513.51h-1zM434 2078.98h1v513.51h-1zM443 2078.98h1v513.51h-1zM471 2078.98h1v513.51h-1zM499 2078.98h1v513.51h-1zM527 2078.98h1v513.51h-1zM555 2078.98h1v513.51h-1zM583 2078.98h1v513.51h-1zM611 2078.98h1v513.51h-1zM639 2078.98h1v513.51h-1zM667 2078.98h1v513.51h-1zM695 2078.98h1v513.51h-1zM723 2078.98h1v513.51h-1zM751 2078.98h1v513.51h-1zM760 2078.98h1v513.51h-1z"/>
<path fill="#fff" fill-opacity="0.12" d="M98.44 2096v1h680.95v-1zM98.44 2102v1h680.95v-1zM98.44 2108v1h680.95v-1zM98.44 2114v1h680.95v-1zM98.44 2120v1h680.95v-1zM98.44 2155v1h680.95v-1zM98.44 2161v1h680.95v-1zM98.44 2167v1h680.95v-1zM98.44 2173v1h680.95v-1zM98.44 2179v1h680.95v-1zM98.44 2214v1h680.95v-1zM98.44 2220v1h680.95v-1zM98.44 2226v1h680.95v-1zM98.44 2232v1h680.95v-1zM98.44 2238v1h680.95v-1zM98.44 2279v1h680.95v-1zM98.44 2285v1h680.95v-1zM98.44 2291v1h680.95v-1zM98.44 2297v1h680.95v-1zM98.44 2303v1h680.95v-1zM98.44 2338v1h680.95v-1zM98.44 2344v1h680.95v-1zM98.44 2350v1h680.95v-1zM98.44 2356v1h680.95v-1zM98.44 2362v1h680.95v-1zM98.44 2397v1h680.95v-1zM98.44 2403v1h680.95v-1zM98.44 2409v1h680.95v-1zM98.44 2415v1h680.95v-1zM98.44 2421v1h680.95v-1zM98.44 2456v1h680.95v-1zM98.44 2462v1h680.95v-1zM98.44 2468v1h680.95v-1zM98.44 2474v1h680.95v-1zM98.44 2480v1h680.95v-1zM98.44 2521v1h680.95v-1zM98.44 2527v1h680.95v-1zM98.44 2533v1h680.95v-1zM98.44 2539v1h680.95v-1zM98.44 2545v1h680.95v-1zM98.44 2580v1h680.95v-1zM98.44 2586v1h680.95v-1z"/>
</g>
<line x1="103.11" y1="2103.18" x2="774.73" y2="2103.18" stroke="#ff00ff" stroke-width="3.0" stroke-dasharray="11.1 4.805"/>
<line x1="103.11" y1="2208.24" x2="774.73" y2="2208.24" stroke="#ff7f0e" stroke-width="3.0" stroke-dasharray="11.1 4.805"/>
<line x1="103.11" y1="2341.05" x2="774.73" y2="2341.05" stroke="#17becf" stroke-width="3.0" stroke-dasharray="11.1 4.805"/>
<rect x="98.44" y="2078.98" width="680.95" height="513.51" fill="none" stroke="#000" stroke-width="2.4"/>
<path d="M103.11 2592.49v7.6M289.67 2592.49v7.6M476.23 2592.49v7.6M662.8 2592.49v7.6M98.44 2554.13h-7.6M98.44 2436.08h-7.6M98.44 2318.03h-7.6M98.44 2199.98h-7.6M98.44 2081.93h-7.6M779.4 2103.18h7.6M779.4 2208.24h7.6M779.4 2341.05h7.6" stroke="#000" stroke-width="1.7" fill="none"/>
<g font-size="31.7" stroke="#000" stroke-width="0.55">
<text x="103.11" y="2631.49" text-anchor="middle">0</text>
<text x="289.67" y="2631.49" text-anchor="middle">50</text>
<text x="476.23" y="2631.49" text-anchor="middle">100</text>
<text x="662.8" y="2631.49" text-anchor="middle">150</text>
<text x="83.74" y="2566.63" text-anchor="end">4</text>
<text x="83.74" y="2448.58" text-anchor="end">6</text>
<text x="83.74" y="2330.53" text-anchor="end">8</text>
<text x="83.74" y="2212.48" text-anchor="end">10</text>
<text x="83.74" y="2094.43" text-anchor="end">12</text>
</g>
<g font-size="24.2" stroke="#000" stroke-width="0.55">
<text x="793.6" y="2112.78">3:1</text>
<text x="793.6" y="2217.84">5:2</text>
<text x="793.6" y="2350.65">2:1</text>
</g>
<g font-size="36.25" stroke="#000" stroke-width="0.55">
<text x="184.37" y="2066.18" letter-spacing="-0.12" xml:space="preserve">Model: S1 (</text>
<text x="386.67" y="2066.18" font-style="italic">f</text>
<text x="399.07" y="2072.08" font-size="25.4">b</text>
<text x="423.97" y="2066.18">=</text>
<text x="460.57" y="2066.18">0.5</text>
<text x="517.97" y="2066.18">,</text>
<text x="536.17" y="2066.18" font-style="italic">e</text>
<text x="558.17" y="2072.08" font-size="25.4">b</text>
<text x="582.97" y="2066.18">=</text>
<text x="619.37" y="2066.18">0.0</text>
<text x="676.67" y="2066.18">)</text>
<text x="370.72" y="2672.89" font-style="italic">i</text>
<text x="380.52" y="2678.79" font-size="25.4">p</text>
<text x="408.92" y="2672.89">(</text>
<text x="423.62" y="2672.89" font-style="italic">deg</text>
<text x="491.12" y="2672.89">)</text>
<text transform="translate(26.14,2336.44) rotate(-90)" text-anchor="middle">Δ</text>
<g transform="translate(866.7,2335.74) rotate(-90)">
<text x="-60.6" y="0" font-style="italic">T</text>
<text x="-39.5" y="5.9" font-size="25.4">p2</text>
<text x="-7.5" y="0">/</text>
<text x="5.2" y="0" font-style="italic">T</text>
<text x="26.3" y="5.9" font-size="25.4">p1</text>
</g></g>
</g>
<g>
<rect x="1019.64" y="2078.98" width="680.95" height="513.51" fill="#08306b"/>
<g shape-rendering="crispEdges">
<path fill="#b4828a" d="M1094 2079h38v6h-38zM1141 2079h28v6h-28zM1561 2079h56v6h-56zM1104 2085h9v6h-9zM1132 2085h9v6h-9zM1178 2085h10v6h-10zM1533 2085h9v6h-9zM1561 2085h9v6h-9zM1579 2085h56v6h-56zM1589 2091h37v6h-37zM1150 2097h10v6h-10zM1561 2103h9v5h-9zM1561 2132h9v6h-9zM1561 2138h9v6h-9zM1561 2144h9v6h-9zM1561 2150h9v6h-9zM1150 2156h10v6h-10zM1561 2156h9v6h-9zM1150 2162h10v6h-10zM1561 2162h9v6h-9zM1150 2168h10v5h-10zM1561 2168h9v5h-9zM1150 2173h10v6h-10zM1561 2173h9v6h-9zM1150 2179h10v6h-10zM1561 2179h9v6h-9zM1150 2185h10v6h-10zM1561 2185h9v6h-9zM1150 2191h10v6h-10zM1150 2197h10v6h-10zM1561 2197h9v6h-9zM1150 2209h10v6h-10zM1150 2215h10v6h-10zM1150 2221h10v6h-10zM1150 2227h10v5h-10zM1561 2238h9v6h-9zM1561 2244h9v6h-9zM1066 2286h10v5h-10zM1085 2286h9v5h-9zM1160 2286h9v5h-9zM1206 2286h19v5h-19zM1253 2286h9v5h-9zM1066 2291h28v6h-28zM1132 2291h9v6h-9zM1160 2291h56v6h-56zM1225 2291h9v6h-9zM1449 2291h9v6h-9zM1505 2291h9v6h-9zM1533 2291h9v6h-9zM1635 2291h10v6h-10zM1038 2297h10v6h-10zM1057 2297h19v6h-19zM1085 2297h9v6h-9zM1104 2297h28v6h-28zM1141 2297h75v6h-75zM1234 2297h19v6h-19zM1262 2297h19v6h-19zM1290 2297h9v6h-9zM1421 2297h9v6h-9zM1439 2297h38v6h-38zM1495 2297h38v6h-38zM1542 2297h47v6h-47zM1626 2297h28v6h-28zM1038 2303h47v6h-47zM1094 2303h47v6h-47zM1150 2303h19v6h-19zM1188 2303h9v6h-9zM1206 2303h10v6h-10zM1253 2303h9v6h-9zM1299 2303h10v6h-10zM1421 2303h37v6h-37zM1477 2303h56v6h-56zM1551 2303h56v6h-56zM1617 2303h9v6h-9zM1635 2303h47v6h-47zM1038 2309h19v6h-19zM1066 2309h10v6h-10zM1085 2309h75v6h-75zM1178 2309h131v6h-131zM1393 2309h9v6h-9zM1421 2309h46v6h-46zM1495 2309h10v6h-10zM1514 2309h9v6h-9zM1533 2309h9v6h-9zM1551 2309h28v6h-28zM1589 2309h37v6h-37zM1635 2309h47v6h-47zM1038 2315h10v6h-10zM1057 2315h37v6h-37zM1122 2315h66v6h-66zM1197 2315h47v6h-47zM1262 2315h19v6h-19zM1309 2315h9v6h-9zM1393 2315h9v6h-9zM1411 2315h10v6h-10zM1449 2315h28v6h-28zM1486 2315h37v6h-37zM1533 2315h84v6h-84zM1645 2315h37v6h-37zM1038 2321h233v6h-233zM1281 2321h18v6h-18zM1411 2321h10v6h-10zM1430 2321h9v6h-9zM1449 2321h18v6h-18zM1486 2321h75v6h-75zM1570 2321h37v6h-37zM1617 2321h37v6h-37zM1673 2321h9v6h-9zM1029 2327h9v6h-9zM1048 2327h65v6h-65zM1122 2327h75v6h-75zM1206 2327h47v6h-47zM1262 2327h37v6h-37zM1467 2327h75v6h-75zM1551 2327h75v6h-75zM1645 2327h28v6h-28zM1038 2333h47v6h-47zM1094 2333h131v6h-131zM1234 2333h10v6h-10zM1253 2333h37v6h-37zM1430 2333h19v6h-19zM1458 2333h9v6h-9zM1495 2333h28v6h-28zM1533 2333h121v6h-121zM1682 2333h9v6h-9zM1029 2339h103v6h-103zM1141 2339h56v6h-56zM1216 2339h28v6h-28zM1430 2339h131v6h-131zM1570 2339h112v6h-112zM1066 2345h10v5h-10zM1085 2345h9v5h-9zM1113 2345h28v5h-28zM1160 2345h9v5h-9zM1225 2345h9v5h-9zM1467 2345h10v5h-10zM1486 2345h19v5h-19zM1514 2345h19v5h-19zM1542 2345h65v5h-65zM1617 2345h37v5h-37zM1663 2345h19v5h-19zM1122 2350h10v6h-10zM1169 2350h9v6h-9zM1551 2350h10v6h-10zM1570 2350h19v6h-19zM1598 2350h9v6h-9zM1617 2350h9v6h-9zM1635 2350h10v6h-10zM1654 2350h9v6h-9zM1551 2356h10v6h-10zM1598 2356h9v6h-9zM1169 2368h9v6h-9zM1216 2368h9v6h-9zM1150 2380h19v6h-19zM1244 2380h9v6h-9zM1542 2380h9v6h-9zM1066 2386h10v6h-10zM1132 2386h9v6h-9zM1160 2386h9v6h-9zM1421 2386h9v6h-9zM1542 2386h9v6h-9zM1141 2392h9v6h-9zM1160 2392h18v6h-18zM1197 2392h9v6h-9zM1262 2392h9v6h-9zM1299 2392h10v6h-10zM1076 2398h9v6h-9zM1094 2398h10v6h-10zM1160 2398h9v6h-9zM1197 2398h19v6h-19zM1225 2398h9v6h-9zM1281 2398h9v6h-9zM1449 2398h9v6h-9zM1113 2404h19v6h-19zM1150 2404h10v6h-10zM1169 2404h9v6h-9zM1188 2404h9v6h-9zM1216 2404h9v6h-9zM1449 2404h9v6h-9zM1533 2404h9v6h-9zM1551 2404h19v6h-19zM1663 2404h10v6h-10zM1066 2410h10v5h-10zM1141 2410h9v5h-9zM1160 2410h18v5h-18zM1206 2410h19v5h-19zM1244 2410h9v5h-9zM1290 2410h9v5h-9zM1439 2410h10v5h-10zM1514 2410h9v5h-9zM1542 2410h9v5h-9zM1561 2410h9v5h-9zM1663 2410h10v5h-10zM1122 2415h19v6h-19zM1150 2415h28v6h-28zM1188 2415h9v6h-9zM1225 2415h9v6h-9zM1244 2415h9v6h-9zM1281 2415h9v6h-9zM1430 2415h9v6h-9zM1467 2415h28v6h-28zM1523 2415h28v6h-28zM1570 2415h9v6h-9zM1607 2415h10v6h-10zM1635 2415h10v6h-10zM1663 2415h10v6h-10zM1048 2421h9v6h-9zM1076 2421h9v6h-9zM1113 2421h37v6h-37zM1178 2421h10v6h-10zM1206 2421h19v6h-19zM1234 2421h28v6h-28zM1271 2421h10v6h-10zM1299 2421h19v6h-19zM1439 2421h19v6h-19zM1467 2421h19v6h-19zM1495 2421h19v6h-19zM1523 2421h10v6h-10zM1542 2421h47v6h-47zM1598 2421h9v6h-9zM1066 2427h84v6h-84zM1160 2427h65v6h-65zM1234 2427h28v6h-28zM1281 2427h28v6h-28zM1430 2427h19v6h-19zM1467 2427h19v6h-19zM1495 2427h10v6h-10zM1514 2427h28v6h-28zM1551 2427h38v6h-38zM1598 2427h37v6h-37zM1654 2427h9v6h-9zM1048 2433h37v6h-37zM1094 2433h10v6h-10zM1113 2433h19v6h-19zM1141 2433h9v6h-9zM1178 2433h38v6h-38zM1225 2433h56v6h-56zM1299 2433h19v6h-19zM1393 2433h9v6h-9zM1421 2433h18v6h-18zM1449 2433h9v6h-9zM1467 2433h28v6h-28zM1514 2433h65v6h-65zM1598 2433h9v6h-9zM1626 2433h19v6h-19zM1663 2433h10v6h-10zM1029 2439h103v6h-103zM1150 2439h66v6h-66zM1234 2439h47v6h-47zM1290 2439h9v6h-9zM1309 2439h9v6h-9zM1402 2439h19v6h-19zM1430 2439h19v6h-19zM1486 2439h9v6h-9zM1514 2439h9v6h-9zM1533 2439h9v6h-9zM1551 2439h66v6h-66zM1626 2439h9v6h-9zM1654 2439h37v6h-37zM1029 2445h84v6h-84zM1122 2445h19v6h-19zM1160 2445h37v6h-37zM1216 2445h37v6h-37zM1262 2445h28v6h-28zM1402 2445h19v6h-19zM1430 2445h9v6h-9zM1458 2445h9v6h-9zM1486 2445h9v6h-9zM1505 2445h9v6h-9zM1533 2445h18v6h-18zM1561 2445h18v6h-18zM1589 2445h9v6h-9zM1607 2445h66v6h-66zM1682 2445h9v6h-9zM1038 2451h19v6h-19zM1094 2451h28v6h-28zM1132 2451h46v6h-46zM1188 2451h9v6h-9zM1216 2451h37v6h-37zM1290 2451h9v6h-9zM1309 2451h9v6h-9zM1449 2451h9v6h-9zM1467 2451h10v6h-10zM1495 2451h10v6h-10zM1514 2451h65v6h-65zM1589 2451h28v6h-28zM1635 2451h10v6h-10zM1663 2451h10v6h-10zM1048 2457h9v6h-9zM1066 2457h10v6h-10zM1094 2457h84v6h-84zM1197 2457h19v6h-19zM1234 2457h37v6h-37zM1290 2457h9v6h-9zM1411 2457h10v6h-10zM1430 2457h37v6h-37zM1477 2457h37v6h-37zM1533 2457h18v6h-18zM1570 2457h28v6h-28zM1607 2457h19v6h-19zM1635 2457h19v6h-19zM1663 2457h10v6h-10zM1057 2463h28v6h-28zM1122 2463h47v6h-47zM1188 2463h28v6h-28zM1225 2463h19v6h-19zM1253 2463h9v6h-9zM1271 2463h28v6h-28zM1393 2463h9v6h-9zM1421 2463h18v6h-18zM1467 2463h19v6h-19zM1495 2463h19v6h-19zM1533 2463h28v6h-28zM1579 2463h10v6h-10zM1598 2463h9v6h-9zM1617 2463h9v6h-9zM1635 2463h28v6h-28zM1038 2469h10v5h-10zM1057 2469h37v5h-37zM1104 2469h37v5h-37zM1150 2469h19v5h-19zM1178 2469h19v5h-19zM1216 2469h18v5h-18zM1244 2469h9v5h-9zM1290 2469h19v5h-19zM1393 2469h28v5h-28zM1430 2469h47v5h-47zM1486 2469h28v5h-28zM1523 2469h10v5h-10zM1542 2469h9v5h-9zM1570 2469h19v5h-19zM1607 2469h28v5h-28zM1654 2469h28v5h-28zM1038 2474h10v6h-10zM1085 2474h28v6h-28zM1122 2474h10v6h-10zM1150 2474h28v6h-28zM1197 2474h9v6h-9zM1216 2474h18v6h-18zM1244 2474h55v6h-55zM1383 2474h10v6h-10zM1458 2474h112v6h-112zM1579 2474h10v6h-10zM1598 2474h19v6h-19zM1626 2474h9v6h-9zM1645 2474h28v6h-28zM1038 2480h19v6h-19zM1066 2480h19v6h-19zM1104 2480h102v6h-102zM1225 2480h28v6h-28zM1271 2480h10v6h-10zM1290 2480h28v6h-28zM1402 2480h37v6h-37zM1458 2480h9v6h-9zM1477 2480h9v6h-9zM1495 2480h28v6h-28zM1533 2480h9v6h-9zM1551 2480h28v6h-28zM1589 2480h9v6h-9zM1607 2480h19v6h-19zM1635 2480h19v6h-19zM1663 2480h19v6h-19zM1048 2486h18v6h-18zM1094 2486h10v6h-10zM1132 2486h28v6h-28zM1169 2486h47v6h-47zM1225 2486h9v6h-9zM1244 2486h9v6h-9zM1262 2486h9v6h-9zM1281 2486h28v6h-28zM1411 2486h10v6h-10zM1430 2486h56v6h-56zM1495 2486h38v6h-38zM1542 2486h19v6h-19zM1570 2486h93v6h-93zM1673 2486h9v6h-9zM1048 2492h28v6h-28zM1085 2492h47v6h-47zM1150 2492h66v6h-66zM1225 2492h9v6h-9zM1262 2492h9v6h-9zM1281 2492h18v6h-18zM1318 2492h9v6h-9zM1383 2492h10v6h-10zM1402 2492h9v6h-9zM1421 2492h18v6h-18zM1449 2492h46v6h-46zM1505 2492h46v6h-46zM1561 2492h46v6h-46zM1626 2492h37v6h-37zM1673 2492h9v6h-9zM1057 2498h28v6h-28zM1104 2498h84v6h-84zM1197 2498h37v6h-37zM1244 2498h18v6h-18zM1271 2498h28v6h-28zM1309 2498h28v6h-28zM1402 2498h19v6h-19zM1430 2498h9v6h-9zM1449 2498h18v6h-18zM1486 2498h75v6h-75zM1570 2498h47v6h-47zM1645 2498h9v6h-9zM1663 2498h10v6h-10zM1029 2504h19v6h-19zM1066 2504h47v6h-47zM1122 2504h56v6h-56zM1206 2504h38v6h-38zM1253 2504h65v6h-65zM1327 2504h19v6h-19zM1402 2504h9v6h-9zM1430 2504h28v6h-28zM1467 2504h10v6h-10zM1505 2504h18v6h-18zM1533 2504h9v6h-9zM1551 2504h19v6h-19zM1579 2504h10v6h-10zM1598 2504h9v6h-9zM1617 2504h18v6h-18zM1645 2504h46v6h-46zM1029 2510h19v6h-19zM1066 2510h38v6h-38zM1113 2510h84v6h-84zM1244 2510h37v6h-37zM1290 2510h37v6h-37zM1337 2510h9v6h-9zM1365 2510h28v6h-28zM1402 2510h37v6h-37zM1449 2510h205v6h-205zM1663 2510h28v6h-28zM1038 2516h10v6h-10zM1057 2516h37v6h-37zM1104 2516h28v6h-28zM1150 2516h19v6h-19zM1178 2516h47v6h-47zM1234 2516h28v6h-28zM1271 2516h10v6h-10zM1299 2516h19v6h-19zM1346 2516h9v6h-9zM1374 2516h47v6h-47zM1430 2516h9v6h-9zM1449 2516h9v6h-9zM1477 2516h46v6h-46zM1533 2516h9v6h-9zM1561 2516h18v6h-18zM1589 2516h9v6h-9zM1607 2516h19v6h-19zM1635 2516h10v6h-10zM1654 2516h28v6h-28zM1020 2522h18v6h-18zM1048 2522h18v6h-18zM1085 2522h28v6h-28zM1150 2522h47v6h-47zM1206 2522h47v6h-47zM1271 2522h10v6h-10zM1290 2522h37v6h-37zM1337 2522h9v6h-9zM1374 2522h9v6h-9zM1393 2522h18v6h-18zM1439 2522h10v6h-10zM1458 2522h19v6h-19zM1486 2522h47v6h-47zM1551 2522h10v6h-10zM1579 2522h38v6h-38zM1635 2522h10v6h-10zM1654 2522h28v6h-28zM1029 2528h9v5h-9zM1057 2528h37v5h-37zM1122 2528h38v5h-38zM1169 2528h9v5h-9zM1188 2528h28v5h-28zM1225 2528h9v5h-9zM1244 2528h55v5h-55zM1318 2528h19v5h-19zM1411 2528h38v5h-38zM1467 2528h84v5h-84zM1561 2528h46v5h-46zM1617 2528h9v5h-9zM1663 2528h28v5h-28zM1038 2533h10v6h-10zM1066 2533h10v6h-10zM1085 2533h9v6h-9zM1104 2533h28v6h-28zM1160 2533h18v6h-18zM1197 2533h9v6h-9zM1234 2533h10v6h-10zM1253 2533h18v6h-18zM1281 2533h28v6h-28zM1318 2533h28v6h-28zM1374 2533h19v6h-19zM1421 2533h9v6h-9zM1439 2533h28v6h-28zM1477 2533h56v6h-56zM1551 2533h19v6h-19zM1579 2533h47v6h-47zM1645 2533h9v6h-9zM1673 2533h18v6h-18zM1029 2539h19v6h-19zM1057 2539h84v6h-84zM1150 2539h66v6h-66zM1225 2539h19v6h-19zM1262 2539h28v6h-28zM1309 2539h9v6h-9zM1327 2539h10v6h-10zM1365 2539h9v6h-9zM1402 2539h47v6h-47zM1477 2539h18v6h-18zM1523 2539h28v6h-28zM1570 2539h37v6h-37zM1617 2539h28v6h-28zM1654 2539h28v6h-28zM1048 2545h18v6h-18zM1085 2545h9v6h-9zM1104 2545h28v6h-28zM1150 2545h28v6h-28zM1188 2545h9v6h-9zM1216 2545h55v6h-55zM1281 2545h28v6h-28zM1346 2545h9v6h-9zM1365 2545h18v6h-18zM1393 2545h18v6h-18zM1421 2545h9v6h-9zM1439 2545h66v6h-66zM1523 2545h10v6h-10zM1542 2545h47v6h-47zM1607 2545h10v6h-10zM1626 2545h9v6h-9zM1645 2545h56v6h-56zM1029 2551h28v6h-28zM1066 2551h10v6h-10zM1094 2551h38v6h-38zM1141 2551h19v6h-19zM1169 2551h28v6h-28zM1206 2551h10v6h-10zM1225 2551h28v6h-28zM1262 2551h65v6h-65zM1346 2551h9v6h-9zM1365 2551h28v6h-28zM1402 2551h28v6h-28zM1458 2551h9v6h-9zM1486 2551h103v6h-103zM1598 2551h19v6h-19zM1635 2551h28v6h-28zM1029 2557h47v6h-47zM1113 2557h19v6h-19zM1141 2557h9v6h-9zM1169 2557h9v6h-9zM1188 2557h9v6h-9zM1206 2557h10v6h-10zM1225 2557h19v6h-19zM1262 2557h19v6h-19zM1290 2557h28v6h-28zM1327 2557h28v6h-28zM1374 2557h19v6h-19zM1411 2557h10v6h-10zM1430 2557h19v6h-19zM1458 2557h28v6h-28zM1495 2557h10v6h-10zM1523 2557h10v6h-10zM1551 2557h28v6h-28zM1589 2557h28v6h-28zM1626 2557h19v6h-19zM1654 2557h37v6h-37zM1020 2563h9v6h-9zM1048 2563h28v6h-28zM1085 2563h37v6h-37zM1132 2563h9v6h-9zM1150 2563h10v6h-10zM1169 2563h9v6h-9zM1188 2563h9v6h-9zM1216 2563h9v6h-9zM1253 2563h46v6h-46zM1309 2563h9v6h-9zM1327 2563h19v6h-19zM1355 2563h38v6h-38zM1402 2563h28v6h-28zM1477 2563h18v6h-18zM1514 2563h37v6h-37zM1561 2563h46v6h-46zM1617 2563h18v6h-18zM1663 2563h10v6h-10zM1682 2563h9v6h-9zM1029 2569h19v6h-19zM1057 2569h37v6h-37zM1104 2569h9v6h-9zM1122 2569h10v6h-10zM1141 2569h19v6h-19zM1169 2569h19v6h-19zM1197 2569h28v6h-28zM1234 2569h19v6h-19zM1262 2569h19v6h-19zM1290 2569h47v6h-47zM1355 2569h28v6h-28zM1393 2569h18v6h-18zM1421 2569h18v6h-18zM1449 2569h9v6h-9zM1477 2569h18v6h-18zM1505 2569h9v6h-9zM1542 2569h9v6h-9zM1561 2569h9v6h-9zM1579 2569h19v6h-19zM1607 2569h19v6h-19zM1635 2569h19v6h-19zM1663 2569h38v6h-38zM1029 2575h37v6h-37zM1076 2575h56v6h-56zM1141 2575h9v6h-9zM1160 2575h18v6h-18zM1188 2575h74v6h-74zM1281 2575h28v6h-28zM1318 2575h37v6h-37zM1365 2575h9v6h-9zM1383 2575h47v6h-47zM1439 2575h47v6h-47zM1505 2575h9v6h-9zM1523 2575h94v6h-94zM1626 2575h28v6h-28zM1682 2575h9v6h-9zM1029 2581h9v6h-9zM1048 2581h18v6h-18zM1085 2581h37v6h-37zM1160 2581h37v6h-37zM1206 2581h47v6h-47zM1281 2581h37v6h-37zM1327 2581h19v6h-19zM1365 2581h18v6h-18zM1402 2581h9v6h-9zM1421 2581h9v6h-9zM1439 2581h10v6h-10zM1458 2581h9v6h-9zM1477 2581h28v6h-28zM1514 2581h19v6h-19zM1551 2581h38v6h-38zM1598 2581h9v6h-9zM1617 2581h9v6h-9zM1645 2581h56v6h-56zM1029 2587h37v5h-37zM1076 2587h9v5h-9zM1094 2587h38v5h-38zM1141 2587h47v5h-47zM1197 2587h19v5h-19zM1225 2587h65v5h-65zM1318 2587h56v5h-56zM1383 2587h19v5h-19zM1411 2587h28v5h-28zM1458 2587h9v5h-9zM1495 2587h47v5h-47zM1551 2587h28v5h-28zM1589 2587h56v5h-56zM1673 2587h18v5h-18z"/>
<path fill="#81a490" d="M1141 2291h9v6h-9zM1216 2291h9v6h-9zM1244 2291h9v6h-9zM1533 2297h9v6h-9zM1654 2297h9v6h-9zM1169 2303h19v6h-19zM1262 2303h9v6h-9zM1411 2303h10v6h-10zM1458 2303h9v6h-9zM1057 2309h9v6h-9zM1076 2309h9v6h-9zM1169 2309h9v6h-9zM1402 2309h9v6h-9zM1523 2309h10v6h-10zM1542 2309h9v6h-9zM1579 2309h10v6h-10zM1626 2309h9v6h-9zM1048 2315h9v6h-9zM1113 2315h9v6h-9zM1188 2315h9v6h-9zM1244 2315h9v6h-9zM1299 2315h10v6h-10zM1477 2315h9v6h-9zM1523 2315h10v6h-10zM1617 2315h9v6h-9zM1309 2321h9v6h-9zM1439 2321h10v6h-10zM1561 2321h9v6h-9zM1197 2327h9v6h-9zM1402 2327h9v6h-9zM1439 2327h10v6h-10zM1458 2327h9v6h-9zM1542 2327h9v6h-9zM1673 2327h9v6h-9zM1029 2333h9v6h-9zM1085 2333h9v6h-9zM1225 2333h9v6h-9zM1244 2333h9v6h-9zM1467 2333h10v6h-10zM1523 2333h10v6h-10zM1654 2333h19v6h-19zM1132 2339h9v6h-9zM1197 2339h19v6h-19zM1561 2339h9v6h-9zM1141 2345h9v5h-9zM1169 2345h19v5h-19zM1607 2345h10v5h-10zM1654 2345h9v5h-9zM1132 2350h9v6h-9zM1589 2350h9v6h-9zM1645 2350h9v6h-9zM1197 2380h9v6h-9zM1439 2380h10v6h-10zM1169 2386h9v6h-9zM1197 2386h9v6h-9zM1514 2386h9v6h-9zM1542 2392h9v6h-9zM1271 2398h10v6h-10zM1439 2398h10v6h-10zM1542 2398h9v6h-9zM1160 2404h9v6h-9zM1234 2404h10v6h-10zM1467 2404h10v6h-10zM1542 2404h9v6h-9zM1057 2410h9v5h-9zM1113 2410h9v5h-9zM1430 2410h9v5h-9zM1486 2410h19v5h-19zM1094 2415h10v6h-10zM1178 2415h10v6h-10zM1216 2415h9v6h-9zM1439 2415h10v6h-10zM1561 2415h9v6h-9zM1057 2421h9v6h-9zM1094 2421h19v6h-19zM1150 2421h10v6h-10zM1169 2421h9v6h-9zM1188 2421h18v6h-18zM1281 2421h9v6h-9zM1458 2421h9v6h-9zM1533 2421h9v6h-9zM1048 2427h9v6h-9zM1150 2427h10v6h-10zM1225 2427h9v6h-9zM1262 2427h19v6h-19zM1309 2427h9v6h-9zM1449 2427h18v6h-18zM1486 2427h9v6h-9zM1542 2427h9v6h-9zM1589 2427h9v6h-9zM1635 2427h19v6h-19zM1038 2433h10v6h-10zM1104 2433h9v6h-9zM1132 2433h9v6h-9zM1150 2433h28v6h-28zM1327 2433h10v6h-10zM1383 2433h10v6h-10zM1495 2433h19v6h-19zM1579 2433h19v6h-19zM1607 2433h19v6h-19zM1132 2439h9v6h-9zM1216 2439h18v6h-18zM1449 2439h37v6h-37zM1495 2439h10v6h-10zM1523 2439h10v6h-10zM1635 2439h19v6h-19zM1113 2445h9v6h-9zM1197 2445h19v6h-19zM1253 2445h9v6h-9zM1290 2445h9v6h-9zM1393 2445h9v6h-9zM1467 2445h19v6h-19zM1523 2445h10v6h-10zM1579 2445h10v6h-10zM1598 2445h9v6h-9zM1673 2445h9v6h-9zM1066 2451h19v6h-19zM1122 2451h10v6h-10zM1178 2451h10v6h-10zM1421 2451h18v6h-18zM1458 2451h9v6h-9zM1579 2451h10v6h-10zM1617 2451h9v6h-9zM1645 2451h18v6h-18zM1673 2451h9v6h-9zM1076 2457h18v6h-18zM1216 2457h9v6h-9zM1299 2457h10v6h-10zM1402 2457h9v6h-9zM1421 2457h9v6h-9zM1514 2457h19v6h-19zM1561 2457h9v6h-9zM1598 2457h9v6h-9zM1673 2457h9v6h-9zM1048 2463h9v6h-9zM1094 2463h10v6h-10zM1113 2463h9v6h-9zM1169 2463h9v6h-9zM1216 2463h9v6h-9zM1262 2463h9v6h-9zM1299 2463h19v6h-19zM1411 2463h10v6h-10zM1486 2463h9v6h-9zM1561 2463h9v6h-9zM1589 2463h9v6h-9zM1048 2469h9v5h-9zM1141 2469h9v5h-9zM1169 2469h9v5h-9zM1206 2469h10v5h-10zM1421 2469h9v5h-9zM1477 2469h9v5h-9zM1551 2469h19v5h-19zM1589 2469h18v5h-18zM1113 2474h9v6h-9zM1132 2474h18v6h-18zM1206 2474h10v6h-10zM1234 2474h10v6h-10zM1318 2474h9v6h-9zM1430 2474h28v6h-28zM1570 2474h9v6h-9zM1589 2474h9v6h-9zM1617 2474h9v6h-9zM1673 2474h9v6h-9zM1057 2480h9v6h-9zM1094 2480h10v6h-10zM1281 2480h9v6h-9zM1439 2480h19v6h-19zM1467 2480h10v6h-10zM1486 2480h9v6h-9zM1523 2480h10v6h-10zM1542 2480h9v6h-9zM1579 2480h10v6h-10zM1598 2480h9v6h-9zM1066 2486h28v6h-28zM1113 2486h9v6h-9zM1234 2486h10v6h-10zM1309 2486h9v6h-9zM1402 2486h9v6h-9zM1561 2486h9v6h-9zM1663 2486h10v6h-10zM1076 2492h9v6h-9zM1141 2492h9v6h-9zM1216 2492h9v6h-9zM1244 2492h9v6h-9zM1271 2492h10v6h-10zM1495 2492h10v6h-10zM1551 2492h10v6h-10zM1607 2492h10v6h-10zM1029 2498h28v6h-28zM1085 2498h9v6h-9zM1188 2498h9v6h-9zM1299 2498h10v6h-10zM1383 2498h10v6h-10zM1421 2498h9v6h-9zM1467 2498h10v6h-10zM1626 2498h9v6h-9zM1654 2498h9v6h-9zM1048 2504h18v6h-18zM1188 2504h9v6h-9zM1244 2504h9v6h-9zM1318 2504h9v6h-9zM1383 2504h19v6h-19zM1477 2504h28v6h-28zM1523 2504h10v6h-10zM1542 2504h9v6h-9zM1570 2504h9v6h-9zM1589 2504h9v6h-9zM1607 2504h10v6h-10zM1635 2504h10v6h-10zM1048 2510h18v6h-18zM1104 2510h9v6h-9zM1197 2510h19v6h-19zM1225 2510h19v6h-19zM1327 2510h10v6h-10zM1654 2510h9v6h-9zM1029 2516h9v6h-9zM1048 2516h9v6h-9zM1094 2516h10v6h-10zM1141 2516h9v6h-9zM1169 2516h9v6h-9zM1225 2516h9v6h-9zM1262 2516h9v6h-9zM1281 2516h18v6h-18zM1327 2516h10v6h-10zM1365 2516h9v6h-9zM1439 2516h10v6h-10zM1458 2516h19v6h-19zM1523 2516h10v6h-10zM1542 2516h19v6h-19zM1579 2516h10v6h-10zM1598 2516h9v6h-9zM1626 2516h9v6h-9zM1682 2516h9v6h-9zM1038 2522h10v6h-10zM1066 2522h19v6h-19zM1122 2522h10v6h-10zM1197 2522h9v6h-9zM1253 2522h18v6h-18zM1281 2522h9v6h-9zM1383 2522h10v6h-10zM1411 2522h28v6h-28zM1477 2522h9v6h-9zM1533 2522h18v6h-18zM1570 2522h9v6h-9zM1617 2522h18v6h-18zM1645 2522h9v6h-9zM1038 2528h19v5h-19zM1094 2528h28v5h-28zM1160 2528h9v5h-9zM1178 2528h10v5h-10zM1216 2528h9v5h-9zM1234 2528h10v5h-10zM1299 2528h10v5h-10zM1383 2528h10v5h-10zM1402 2528h9v5h-9zM1449 2528h9v5h-9zM1607 2528h10v5h-10zM1635 2528h28v5h-28zM1029 2533h9v6h-9zM1048 2533h18v6h-18zM1094 2533h10v6h-10zM1141 2533h19v6h-19zM1188 2533h9v6h-9zM1206 2533h28v6h-28zM1244 2533h9v6h-9zM1271 2533h10v6h-10zM1309 2533h9v6h-9zM1402 2533h19v6h-19zM1467 2533h10v6h-10zM1533 2533h9v6h-9zM1635 2533h10v6h-10zM1654 2533h19v6h-19zM1253 2539h9v6h-9zM1290 2539h19v6h-19zM1318 2539h9v6h-9zM1383 2539h10v6h-10zM1449 2539h28v6h-28zM1505 2539h9v6h-9zM1551 2539h19v6h-19zM1607 2539h10v6h-10zM1645 2539h9v6h-9zM1038 2545h10v6h-10zM1066 2545h19v6h-19zM1132 2545h18v6h-18zM1178 2545h10v6h-10zM1197 2545h19v6h-19zM1271 2545h10v6h-10zM1309 2545h9v6h-9zM1327 2545h19v6h-19zM1383 2545h10v6h-10zM1430 2545h9v6h-9zM1505 2545h18v6h-18zM1533 2545h9v6h-9zM1589 2545h18v6h-18zM1617 2545h9v6h-9zM1057 2551h9v6h-9zM1076 2551h18v6h-18zM1197 2551h9v6h-9zM1327 2551h10v6h-10zM1393 2551h9v6h-9zM1430 2551h28v6h-28zM1467 2551h19v6h-19zM1589 2551h9v6h-9zM1617 2551h18v6h-18zM1663 2551h10v6h-10zM1682 2551h9v6h-9zM1076 2557h37v6h-37zM1132 2557h9v6h-9zM1160 2557h9v6h-9zM1178 2557h10v6h-10zM1197 2557h9v6h-9zM1216 2557h9v6h-9zM1281 2557h9v6h-9zM1318 2557h9v6h-9zM1355 2557h19v6h-19zM1393 2557h18v6h-18zM1421 2557h9v6h-9zM1486 2557h9v6h-9zM1505 2557h18v6h-18zM1533 2557h18v6h-18zM1579 2557h10v6h-10zM1691 2557h10v6h-10zM1029 2563h19v6h-19zM1122 2563h10v6h-10zM1160 2563h9v6h-9zM1178 2563h10v6h-10zM1206 2563h10v6h-10zM1225 2563h28v6h-28zM1299 2563h10v6h-10zM1318 2563h9v6h-9zM1346 2563h9v6h-9zM1430 2563h19v6h-19zM1458 2563h19v6h-19zM1495 2563h10v6h-10zM1551 2563h10v6h-10zM1607 2563h10v6h-10zM1635 2563h28v6h-28zM1673 2563h9v6h-9zM1048 2569h9v6h-9zM1094 2569h10v6h-10zM1132 2569h9v6h-9zM1160 2569h9v6h-9zM1188 2569h9v6h-9zM1225 2569h9v6h-9zM1253 2569h9v6h-9zM1281 2569h9v6h-9zM1346 2569h9v6h-9zM1383 2569h10v6h-10zM1439 2569h10v6h-10zM1458 2569h19v6h-19zM1495 2569h10v6h-10zM1523 2569h19v6h-19zM1551 2569h10v6h-10zM1598 2569h9v6h-9zM1066 2575h10v6h-10zM1150 2575h10v6h-10zM1178 2575h10v6h-10zM1262 2575h19v6h-19zM1309 2575h9v6h-9zM1374 2575h9v6h-9zM1430 2575h9v6h-9zM1486 2575h19v6h-19zM1514 2575h9v6h-9zM1617 2575h9v6h-9zM1654 2575h9v6h-9zM1673 2575h9v6h-9zM1038 2581h10v6h-10zM1066 2581h19v6h-19zM1122 2581h38v6h-38zM1197 2581h9v6h-9zM1253 2581h28v6h-28zM1318 2581h9v6h-9zM1346 2581h19v6h-19zM1383 2581h19v6h-19zM1411 2581h10v6h-10zM1430 2581h9v6h-9zM1467 2581h10v6h-10zM1505 2581h9v6h-9zM1533 2581h18v6h-18zM1589 2581h9v6h-9zM1607 2581h10v6h-10zM1626 2581h19v6h-19zM1085 2587h9v5h-9zM1132 2587h9v5h-9zM1188 2587h9v5h-9zM1216 2587h9v5h-9zM1290 2587h19v5h-19zM1402 2587h9v5h-9zM1439 2587h19v5h-19zM1467 2587h10v5h-10zM1542 2587h9v5h-9zM1579 2587h10v5h-10zM1645 2587h28v5h-28z"/>
<path fill="#ffffff" d="M1197 2303h9v6h-9zM1234 2303h10v6h-10zM1160 2309h9v6h-9zM1505 2309h9v6h-9zM1094 2315h10v6h-10zM1626 2315h9v6h-9zM1654 2321h9v6h-9zM1477 2333h9v6h-9zM1533 2345h9v5h-9zM1290 2404h9v6h-9zM1449 2410h9v5h-9zM1673 2415h9v6h-9zM1160 2421h9v6h-9zM1290 2421h9v6h-9zM1411 2427h19v6h-19zM1029 2433h9v6h-9zM1216 2433h9v6h-9zM1411 2433h10v6h-10zM1645 2433h18v6h-18zM1141 2439h9v6h-9zM1617 2439h9v6h-9zM1318 2445h9v6h-9zM1551 2445h10v6h-10zM1057 2451h9v6h-9zM1085 2451h9v6h-9zM1439 2451h10v6h-10zM1486 2451h9v6h-9zM1178 2457h10v6h-10zM1281 2457h9v6h-9zM1551 2457h10v6h-10zM1458 2463h9v6h-9zM1523 2463h10v6h-10zM1197 2469h9v5h-9zM1234 2469h10v5h-10zM1281 2469h9v5h-9zM1309 2469h9v5h-9zM1514 2469h9v5h-9zM1533 2469h9v5h-9zM1645 2469h9v5h-9zM1178 2474h10v6h-10zM1402 2474h19v6h-19zM1262 2480h9v6h-9zM1104 2486h9v6h-9zM1160 2486h9v6h-9zM1216 2486h9v6h-9zM1132 2492h9v6h-9zM1234 2492h10v6h-10zM1253 2492h9v6h-9zM1299 2492h19v6h-19zM1617 2492h9v6h-9zM1094 2498h10v6h-10zM1234 2498h10v6h-10zM1393 2498h9v6h-9zM1439 2498h10v6h-10zM1477 2498h9v6h-9zM1561 2498h9v6h-9zM1673 2498h9v6h-9zM1113 2504h9v6h-9zM1178 2504h10v6h-10zM1374 2504h9v6h-9zM1411 2504h10v6h-10zM1216 2510h9v6h-9zM1393 2510h9v6h-9zM1439 2510h10v6h-10zM1132 2516h9v6h-9zM1318 2516h9v6h-9zM1337 2516h9v6h-9zM1421 2516h9v6h-9zM1645 2516h9v6h-9zM1113 2522h9v6h-9zM1132 2522h18v6h-18zM1561 2522h9v6h-9zM1682 2522h9v6h-9zM1020 2528h9v5h-9zM1337 2528h9v5h-9zM1393 2528h9v5h-9zM1551 2528h10v5h-10zM1626 2528h9v5h-9zM1020 2533h9v6h-9zM1076 2533h9v6h-9zM1132 2533h9v6h-9zM1178 2533h10v6h-10zM1393 2533h9v6h-9zM1430 2533h9v6h-9zM1542 2533h9v6h-9zM1570 2533h9v6h-9zM1626 2533h9v6h-9zM1691 2533h10v6h-10zM1048 2539h9v6h-9zM1141 2539h9v6h-9zM1216 2539h9v6h-9zM1244 2539h9v6h-9zM1337 2539h9v6h-9zM1393 2539h9v6h-9zM1495 2539h10v6h-10zM1514 2539h9v6h-9zM1682 2539h19v6h-19zM1094 2545h10v6h-10zM1318 2545h9v6h-9zM1411 2545h10v6h-10zM1132 2551h9v6h-9zM1160 2551h9v6h-9zM1216 2551h9v6h-9zM1253 2551h9v6h-9zM1673 2551h9v6h-9zM1691 2551h10v6h-10zM1150 2557h10v6h-10zM1244 2557h9v6h-9zM1449 2557h9v6h-9zM1617 2557h9v6h-9zM1076 2563h9v6h-9zM1141 2563h9v6h-9zM1197 2563h9v6h-9zM1393 2563h9v6h-9zM1449 2563h9v6h-9zM1505 2563h9v6h-9zM1691 2563h10v6h-10zM1113 2569h9v6h-9zM1337 2569h9v6h-9zM1411 2569h10v6h-10zM1514 2569h9v6h-9zM1570 2569h9v6h-9zM1626 2569h9v6h-9zM1654 2569h9v6h-9zM1132 2575h9v6h-9zM1355 2575h10v6h-10zM1663 2575h10v6h-10zM1691 2575h10v6h-10zM1449 2581h9v6h-9zM1066 2587h10v5h-10zM1309 2587h9v5h-9zM1374 2587h9v5h-9zM1477 2587h18v5h-18zM1691 2587h10v5h-10z"/>
<path fill="#fff" fill-opacity="0.12" d="M1038 2078.98h1v513.51h-1zM1047 2078.98h1v513.51h-1zM1066 2078.98h1v513.51h-1zM1075 2078.98h1v513.51h-1zM1094 2078.98h1v513.51h-1zM1103 2078.98h1v513.51h-1zM1131 2078.98h1v513.51h-1zM1159 2078.98h1v513.51h-1zM1187 2078.98h1v513.51h-1zM1215 2078.98h1v513.51h-1zM1243 2078.98h1v513.51h-1zM1271 2078.98h1v513.51h-1zM1299 2078.98h1v513.51h-1zM1327 2078.98h1v513.51h-1zM1355 2078.98h1v513.51h-1zM1383 2078.98h1v513.51h-1zM1411 2078.98h1v513.51h-1zM1420 2078.98h1v513.51h-1zM1439 2078.98h1v513.51h-1zM1448 2078.98h1v513.51h-1zM1467 2078.98h1v513.51h-1zM1476 2078.98h1v513.51h-1zM1495 2078.98h1v513.51h-1zM1504 2078.98h1v513.51h-1zM1523 2078.98h1v513.51h-1zM1532 2078.98h1v513.51h-1zM1551 2078.98h1v513.51h-1zM1560 2078.98h1v513.51h-1zM1579 2078.98h1v513.51h-1zM1588 2078.98h1v513.51h-1zM1607 2078.98h1v513.51h-1zM1616 2078.98h1v513.51h-1zM1635 2078.98h1v513.51h-1zM1644 2078.98h1v513.51h-1zM1663 2078.98h1v513.51h-1zM1672 2078.98h1v513.51h-1zM1691 2078.98h1v513.51h-1z"/>
<path fill="#fff" fill-opacity="0.12" d="M1019.64 2096v1h680.95v-1zM1019.64 2102v1h680.95v-1zM1019.64 2108v1h680.95v-1zM1019.64 2114v1h680.95v-1zM1019.64 2120v1h680.95v-1zM1019.64 2155v1h680.95v-1zM1019.64 2161v1h680.95v-1zM1019.64 2167v1h680.95v-1zM1019.64 2173v1h680.95v-1zM1019.64 2179v1h680.95v-1zM1019.64 2214v1h680.95v-1zM1019.64 2220v1h680.95v-1zM1019.64 2226v1h680.95v-1zM1019.64 2232v1h680.95v-1zM1019.64 2238v1h680.95v-1zM1019.64 2279v1h680.95v-1zM1019.64 2285v1h680.95v-1zM1019.64 2291v1h680.95v-1zM1019.64 2297v1h680.95v-1zM1019.64 2303v1h680.95v-1zM1019.64 2338v1h680.95v-1zM1019.64 2344v1h680.95v-1zM1019.64 2350v1h680.95v-1zM1019.64 2356v1h680.95v-1zM1019.64 2362v1h680.95v-1zM1019.64 2397v1h680.95v-1zM1019.64 2403v1h680.95v-1zM1019.64 2409v1h680.95v-1zM1019.64 2415v1h680.95v-1zM1019.64 2421v1h680.95v-1zM1019.64 2456v1h680.95v-1zM1019.64 2462v1h680.95v-1zM1019.64 2468v1h680.95v-1zM1019.64 2474v1h680.95v-1zM1019.64 2480v1h680.95v-1zM1019.64 2521v1h680.95v-1zM1019.64 2527v1h680.95v-1zM1019.64 2533v1h680.95v-1zM1019.64 2539v1h680.95v-1zM1019.64 2545v1h680.95v-1zM1019.64 2580v1h680.95v-1zM1019.64 2586v1h680.95v-1z"/>
</g>
<line x1="1024.3" y1="2103.18" x2="1695.93" y2="2103.18" stroke="#ff00ff" stroke-width="3.0" stroke-dasharray="11.1 4.805"/>
<line x1="1024.3" y1="2208.24" x2="1695.93" y2="2208.24" stroke="#ff7f0e" stroke-width="3.0" stroke-dasharray="11.1 4.805"/>
<line x1="1024.3" y1="2341.05" x2="1695.93" y2="2341.05" stroke="#17becf" stroke-width="3.0" stroke-dasharray="11.1 4.805"/>
<rect x="1019.64" y="2078.98" width="680.95" height="513.51" fill="none" stroke="#000" stroke-width="2.4"/>
<path d="M1024.3 2592.49v7.6M1210.87 2592.49v7.6M1397.43 2592.49v7.6M1583.99 2592.49v7.6M1019.64 2554.13h-7.6M1019.64 2436.08h-7.6M1019.64 2318.03h-7.6M1019.64 2199.98h-7.6M1019.64 2081.93h-7.6M1700.59 2103.18h7.6M1700.59 2208.24h7.6M1700.59 2341.05h7.6" stroke="#000" stroke-width="1.7" fill="none"/>
<g font-size="31.7" stroke="#000" stroke-width="0.55">
<text x="1024.3" y="2631.49" text-anchor="middle">0</text>
<text x="1210.87" y="2631.49" text-anchor="middle">50</text>
<text x="1397.43" y="2631.49" text-anchor="middle">100</text>
<text x="1583.99" y="2631.49" text-anchor="middle">150</text>
<text x="1004.94" y="2566.63" text-anchor="end">4</text>
<text x="1004.94" y="2448.58" text-anchor="end">6</text>
<text x="1004.94" y="2330.53" text-anchor="end">8</text>
<text x="1004.94" y="2212.48" text-anchor="end">10</text>
<text x="1004.94" y="2094.43" text-anchor="end">12</text>
</g>
<g font-size="24.2" stroke="#000" stroke-width="0.55">
<text x="1714.79" y="2112.78">3:1</text>
<text x="1714.79" y="2217.84">5:2</text>
<text x="1714.79" y="2350.65">2:1</text>
</g>
<g font-size="36.25" stroke="#000" stroke-width="0.55">
<text x="1105.57" y="2066.18" letter-spacing="-0.12" xml:space="preserve">Model: S2 (</text>
<text x="1307.87" y="2066.18" font-style="italic">f</text>
<text x="1320.27" y="2072.08" font-size="25.4">b</text>
<text x="1345.17" y="2066.18">=</text>
<text x="1381.77" y="2066.18">0.5</text>
<text x="1439.17" y="2066.18">,</text>
<text x="1457.37" y="2066.18" font-style="italic">e</text>
<text x="1479.37" y="2072.08" font-size="25.4">b</text>
<text x="1504.17" y="2066.18">=</text>
<text x="1540.57" y="2066.18">0.8</text>
<text x="1597.87" y="2066.18">)</text>
<text x="1291.92" y="2672.89" font-style="italic">i</text>
<text x="1301.72" y="2678.79" font-size="25.4">p</text>
<text x="1330.12" y="2672.89">(</text>
<text x="1344.82" y="2672.89" font-style="italic">deg</text>
<text x="1412.32" y="2672.89">)</text>
<text transform="translate(947.34,2336.44) rotate(-90)" text-anchor="middle">Δ</text>
<g transform="translate(1787.89,2335.74) rotate(-90)">
<text x="-60.6" y="0" font-style="italic">T</text>
<text x="-39.5" y="5.9" font-size="25.4">p2</text>
<text x="-7.5" y="0">/</text>
<text x="5.2" y="0" font-style="italic">T</text>
<text x="26.3" y="5.9" font-size="25.4">p1</text>
</g></g>
</g>
</svg>
</body></html>
